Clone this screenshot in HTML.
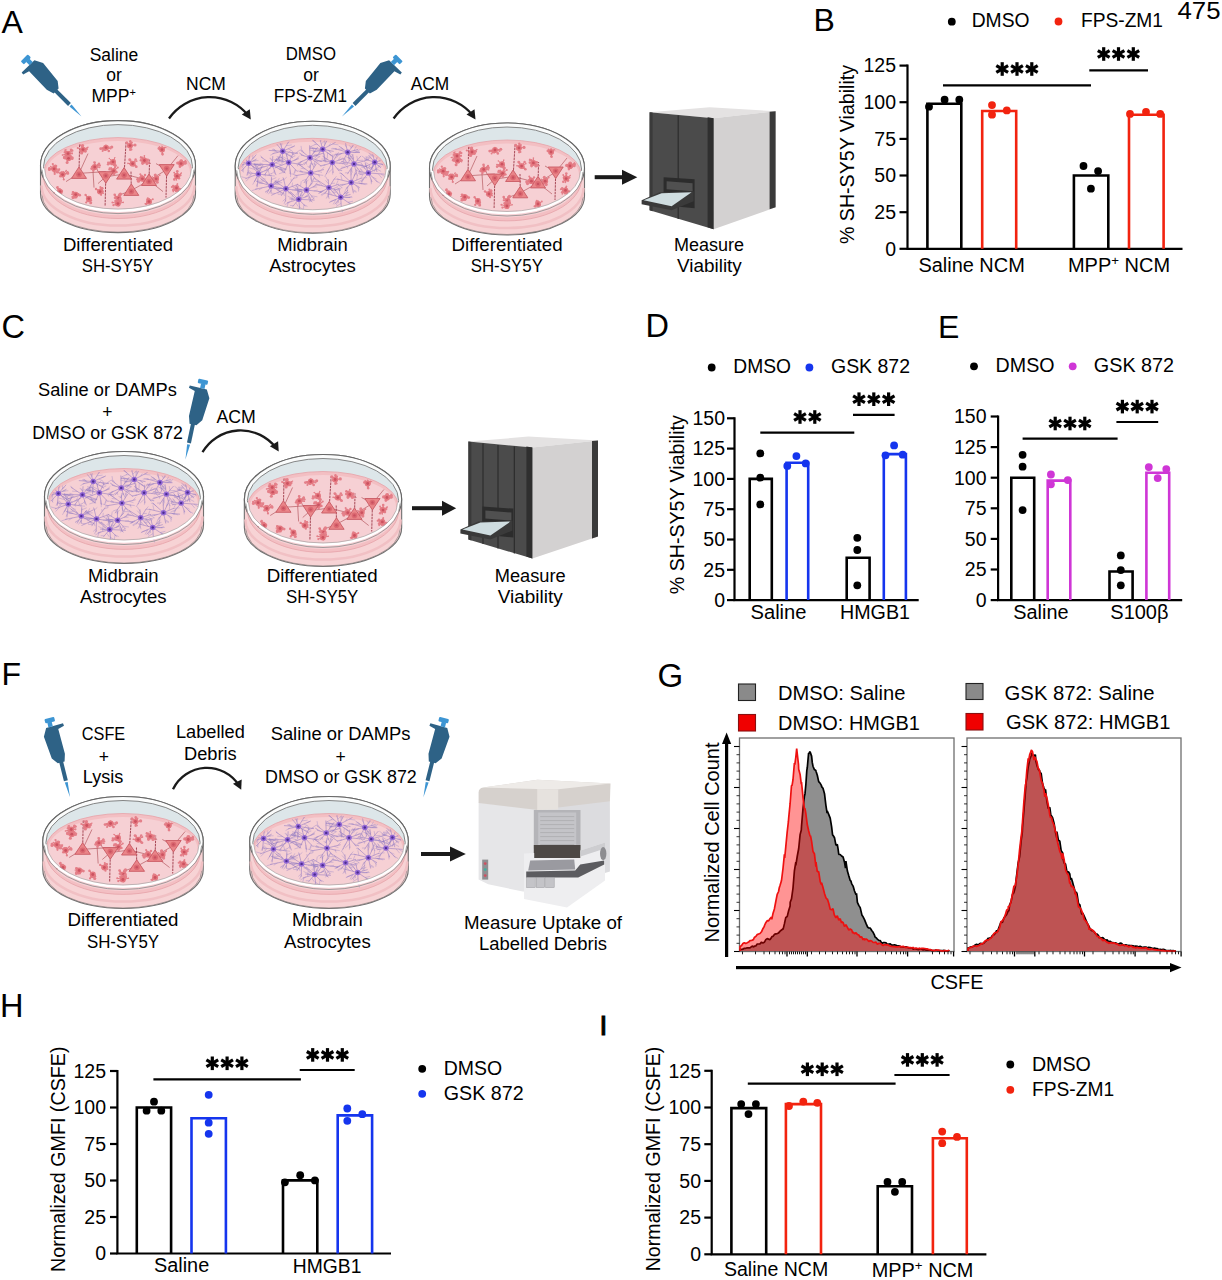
<!DOCTYPE html><html><head><meta charset="utf-8"><style>html,body{margin:0;padding:0;background:#fff;overflow:hidden}svg{display:block}text{font-family:"Liberation Sans",sans-serif}</style></head><body>
<svg width="1222" height="1280" viewBox="0 0 1222 1280">
<rect width="1222" height="1280" fill="#fff"/>
<defs>
<g id="star"><rect x="-1.6" y="-6.8" width="3.2" height="13.6"/><rect x="-1.6" y="-6.8" width="3.2" height="13.6" transform="rotate(60)"/><rect x="-1.6" y="-6.8" width="3.2" height="13.6" transform="rotate(-60)"/></g>
<g id="pip"><path d="M0,0 L-1.5,-15.5 L1.5,-15.5 Z" fill="#3d95d3"/><rect x="-2" y="-37" width="4" height="20" fill="#2e6286"/><path d="M-3.4,-36 L3.6,-36 L8.3,-42 L10.7,-65 L6.4,-73 L-11.1,-73.5 L-11.5,-71 L-5.1,-69 L-5.6,-43.5 Z" fill="#2e6286"/><rect x="-0.5" y="-78" width="4.5" height="5" fill="#3d95d3"/><rect x="-4" y="-82" width="10" height="4.5" rx="1" fill="#3d95d3"/></g>
<clipPath id="medclip"><path d="M-73,6.5 A73 33 0 0 1 73 6.5 A73.5 40 0 1 1 -73,6.5 Z"/></clipPath>
<g id="neur">
<g clip-path="url(#medclip)">
<path d="M-39,7.8 L-12.2,6" stroke="#b65a62" stroke-width="0.7" fill="none"/>
<path d="M-39,7.8 L-52,16" stroke="#b65a62" stroke-width="0.7" fill="none"/>
<path d="M-12.2,11.1 L6.1,8.5" stroke="#b65a62" stroke-width="0.7" fill="none"/>
<path d="M-25,6 L-24,22" stroke="#b65a62" stroke-width="0.7" fill="none"/>
<path d="M6.1,8.5 L31,14.9" stroke="#b65a62" stroke-width="0.7" fill="none"/>
<path d="M31,14.9 L48.7,4" stroke="#b65a62" stroke-width="0.7" fill="none"/>
<path d="M13.3,24.8 L31,14.9" stroke="#b65a62" stroke-width="0.7" fill="none"/>
<path d="M-12.2,11.1 L-20,18" stroke="#b65a62" stroke-width="0.7" fill="none"/>
<path d="M48.7,4 L38,-2" stroke="#b65a62" stroke-width="0.7" fill="none"/>
<path d="M31,14.9 L45,26" stroke="#b65a62" stroke-width="0.7" fill="none"/>
<path d="M13.3,24.8 L0,30" stroke="#b65a62" stroke-width="0.7" fill="none"/>
<path d="M-24,-4 L-20,6" stroke="#b65a62" stroke-width="0.7" fill="none"/>
<path d="M25,-6 L33,-2" stroke="#b65a62" stroke-width="0.7" fill="none"/>
<path d="M-39,7.8 L-30,-12" stroke="#b65a62" stroke-width="0.7" fill="none"/>
<path d="M48.7,4 L60,-10" stroke="#b65a62" stroke-width="0.7" fill="none"/>
<path d="M-39,7.8 L-38.4,-22" stroke="#a84a58" stroke-width="1" fill="none" stroke-dasharray="2.5 0.8"/>
<path d="M-12.2,11.1 L-12.9,40" stroke="#a84a58" stroke-width="1" fill="none" stroke-dasharray="2.5 0.8"/>
<path d="M6.1,8.5 L8.1,-24" stroke="#a84a58" stroke-width="1" fill="none" stroke-dasharray="2.5 0.8"/>
<path d="M48.7,4 L48,32" stroke="#a84a58" stroke-width="1" fill="none" stroke-dasharray="2.5 0.8"/>
<path d="M31,14.9 L31.6,-6" stroke="#a84a58" stroke-width="1" fill="none" stroke-dasharray="2.5 0.8"/>
<path d="M13.3,24.8 L13,6" stroke="#a84a58" stroke-width="1" fill="none" stroke-dasharray="2.5 0.8"/>
<path d="M-63.9,3.2 L-63.6,6.5" stroke="#df7a82" stroke-width="1" fill="none"/>
<circle cx="-63.6" cy="6.5" r="1.0" fill="#e4808a"/>
<path d="M-63.9,3.2 L-67.3,1.0" stroke="#df7a82" stroke-width="1" fill="none"/>
<circle cx="-67.3" cy="1.0" r="0.8" fill="#e4808a"/>
<path d="M-63.9,3.2 L-58.6,3.6" stroke="#df7a82" stroke-width="1" fill="none"/>
<circle cx="-58.6" cy="3.6" r="0.9" fill="#e4808a"/>
<path d="M-63.9,3.2 L-63.3,8.3" stroke="#df7a82" stroke-width="1" fill="none"/>
<circle cx="-63.3" cy="8.3" r="1.1" fill="#e4808a"/>
<path d="M-63.9,3.2 L-62.0,0.5" stroke="#df7a82" stroke-width="1" fill="none"/>
<circle cx="-62.0" cy="0.5" r="1.3" fill="#e4808a"/>
<path d="M-63.9,3.2 L-61.4,6.2" stroke="#df7a82" stroke-width="1" fill="none"/>
<circle cx="-61.4" cy="6.2" r="1.5" fill="#e4808a"/>
<path d="M-63.9,3.2 L-68.7,2.6" stroke="#df7a82" stroke-width="1" fill="none"/>
<circle cx="-68.7" cy="2.6" r="1.3" fill="#e4808a"/>
<path d="M-63.9,3.2 L-59.4,4.8" stroke="#df7a82" stroke-width="1" fill="none"/>
<circle cx="-59.4" cy="4.8" r="1.2" fill="#e4808a"/>
<path d="M-63.9,3.2 L-64.4,4.5" stroke="#df7a82" stroke-width="1" fill="none"/>
<circle cx="-64.4" cy="4.5" r="1.5" fill="#e4808a"/>
<path d="M-63.9,3.2 L-68.6,3.9" stroke="#df7a82" stroke-width="1" fill="none"/>
<circle cx="-68.6" cy="3.9" r="1.5" fill="#e4808a"/>
<path d="M-63.9,3.2 L-65.2,-1.5" stroke="#df7a82" stroke-width="1" fill="none"/>
<circle cx="-65.2" cy="-1.5" r="1.1" fill="#e4808a"/>
<path d="M-63.9,3.2 L-62.8,0.4" stroke="#df7a82" stroke-width="1" fill="none"/>
<circle cx="-62.8" cy="0.4" r="1.5" fill="#e4808a"/>
<circle cx="-63.9" cy="3.2" r="2.9" fill="#e47880"/><circle cx="-63.9" cy="3.2" r="1.4" fill="#cc5260"/>
<path d="M-55.4,9.0 L-54.0,7.9" stroke="#df7a82" stroke-width="1" fill="none"/>
<circle cx="-54.0" cy="7.9" r="0.8" fill="#e4808a"/>
<path d="M-55.4,9.0 L-54.2,13.9" stroke="#df7a82" stroke-width="1" fill="none"/>
<circle cx="-54.2" cy="13.9" r="1.1" fill="#e4808a"/>
<path d="M-55.4,9.0 L-57.4,7.3" stroke="#df7a82" stroke-width="1" fill="none"/>
<circle cx="-57.4" cy="7.3" r="1.2" fill="#e4808a"/>
<path d="M-55.4,9.0 L-57.7,10.7" stroke="#df7a82" stroke-width="1" fill="none"/>
<circle cx="-57.7" cy="10.7" r="1.2" fill="#e4808a"/>
<path d="M-55.4,9.0 L-60.2,6.6" stroke="#df7a82" stroke-width="1" fill="none"/>
<circle cx="-60.2" cy="6.6" r="1.3" fill="#e4808a"/>
<path d="M-55.4,9.0 L-50.6,7.0" stroke="#df7a82" stroke-width="1" fill="none"/>
<circle cx="-50.6" cy="7.0" r="1.6" fill="#e4808a"/>
<path d="M-55.4,9.0 L-56.5,7.3" stroke="#df7a82" stroke-width="1" fill="none"/>
<circle cx="-56.5" cy="7.3" r="1.5" fill="#e4808a"/>
<path d="M-55.4,9.0 L-50.0,8.0" stroke="#df7a82" stroke-width="1" fill="none"/>
<circle cx="-50.0" cy="8.0" r="1.2" fill="#e4808a"/>
<path d="M-55.4,9.0 L-56.0,7.0" stroke="#df7a82" stroke-width="1" fill="none"/>
<circle cx="-56.0" cy="7.0" r="1.4" fill="#e4808a"/>
<path d="M-55.4,9.0 L-57.9,7.9" stroke="#df7a82" stroke-width="1" fill="none"/>
<circle cx="-57.9" cy="7.9" r="0.8" fill="#e4808a"/>
<path d="M-55.4,9.0 L-51.8,5.0" stroke="#df7a82" stroke-width="1" fill="none"/>
<circle cx="-51.8" cy="5.0" r="0.8" fill="#e4808a"/>
<path d="M-55.4,9.0 L-54.4,6.3" stroke="#df7a82" stroke-width="1" fill="none"/>
<circle cx="-54.4" cy="6.3" r="0.8" fill="#e4808a"/>
<circle cx="-55.4" cy="9" r="2.9" fill="#e47880"/><circle cx="-55.4" cy="9" r="1.4" fill="#cc5260"/>
<path d="M-49.5,-7.3 L-50.9,-3.2" stroke="#df7a82" stroke-width="1" fill="none"/>
<circle cx="-50.9" cy="-3.2" r="1.5" fill="#e4808a"/>
<path d="M-49.5,-7.3 L-45.4,-6.3" stroke="#df7a82" stroke-width="1" fill="none"/>
<circle cx="-45.4" cy="-6.3" r="0.7" fill="#e4808a"/>
<path d="M-49.5,-7.3 L-50.1,-9.8" stroke="#df7a82" stroke-width="1" fill="none"/>
<circle cx="-50.1" cy="-9.8" r="1.5" fill="#e4808a"/>
<path d="M-49.5,-7.3 L-45.8,-7.7" stroke="#df7a82" stroke-width="1" fill="none"/>
<circle cx="-45.8" cy="-7.7" r="1.6" fill="#e4808a"/>
<path d="M-49.5,-7.3 L-50.2,-5.8" stroke="#df7a82" stroke-width="1" fill="none"/>
<circle cx="-50.2" cy="-5.8" r="1.2" fill="#e4808a"/>
<path d="M-49.5,-7.3 L-47.2,-6.9" stroke="#df7a82" stroke-width="1" fill="none"/>
<circle cx="-47.2" cy="-6.9" r="1.1" fill="#e4808a"/>
<path d="M-49.5,-7.3 L-51.2,-8.5" stroke="#df7a82" stroke-width="1" fill="none"/>
<circle cx="-51.2" cy="-8.5" r="0.7" fill="#e4808a"/>
<path d="M-49.5,-7.3 L-47.5,-9.1" stroke="#df7a82" stroke-width="1" fill="none"/>
<circle cx="-47.5" cy="-9.1" r="1.6" fill="#e4808a"/>
<path d="M-49.5,-7.3 L-47.0,-8.9" stroke="#df7a82" stroke-width="1" fill="none"/>
<circle cx="-47.0" cy="-8.9" r="1.1" fill="#e4808a"/>
<path d="M-49.5,-7.3 L-53.9,-7.8" stroke="#df7a82" stroke-width="1" fill="none"/>
<circle cx="-53.9" cy="-7.8" r="1.2" fill="#e4808a"/>
<path d="M-49.5,-7.3 L-53.5,-8.6" stroke="#df7a82" stroke-width="1" fill="none"/>
<circle cx="-53.5" cy="-8.6" r="1.5" fill="#e4808a"/>
<path d="M-49.5,-7.3 L-52.9,-7.4" stroke="#df7a82" stroke-width="1" fill="none"/>
<circle cx="-52.9" cy="-7.4" r="1.3" fill="#e4808a"/>
<circle cx="-49.5" cy="-7.3" r="2.9" fill="#e47880"/><circle cx="-49.5" cy="-7.3" r="1.4" fill="#cc5260"/>
<path d="M-42.3,29.0 L-42.1,31.4" stroke="#df7a82" stroke-width="1" fill="none"/>
<circle cx="-42.1" cy="31.4" r="1.6" fill="#e4808a"/>
<path d="M-42.3,29.0 L-46.2,28.6" stroke="#df7a82" stroke-width="1" fill="none"/>
<circle cx="-46.2" cy="28.6" r="0.7" fill="#e4808a"/>
<path d="M-42.3,29.0 L-45.8,30.8" stroke="#df7a82" stroke-width="1" fill="none"/>
<circle cx="-45.8" cy="30.8" r="0.7" fill="#e4808a"/>
<path d="M-42.3,29.0 L-45.5,26.5" stroke="#df7a82" stroke-width="1" fill="none"/>
<circle cx="-45.5" cy="26.5" r="0.8" fill="#e4808a"/>
<path d="M-42.3,29.0 L-44.8,26.8" stroke="#df7a82" stroke-width="1" fill="none"/>
<circle cx="-44.8" cy="26.8" r="1.3" fill="#e4808a"/>
<path d="M-42.3,29.0 L-45.1,32.2" stroke="#df7a82" stroke-width="1" fill="none"/>
<circle cx="-45.1" cy="32.2" r="1.4" fill="#e4808a"/>
<path d="M-42.3,29.0 L-40.5,29.2" stroke="#df7a82" stroke-width="1" fill="none"/>
<circle cx="-40.5" cy="29.2" r="1.3" fill="#e4808a"/>
<path d="M-42.3,29.0 L-39.7,28.5" stroke="#df7a82" stroke-width="1" fill="none"/>
<circle cx="-39.7" cy="28.5" r="1.1" fill="#e4808a"/>
<path d="M-42.3,29.0 L-44.8,27.6" stroke="#df7a82" stroke-width="1" fill="none"/>
<circle cx="-44.8" cy="27.6" r="1.0" fill="#e4808a"/>
<path d="M-42.3,29.0 L-43.5,31.5" stroke="#df7a82" stroke-width="1" fill="none"/>
<circle cx="-43.5" cy="31.5" r="1.2" fill="#e4808a"/>
<path d="M-42.3,29.0 L-43.3,31.6" stroke="#df7a82" stroke-width="1" fill="none"/>
<circle cx="-43.3" cy="31.6" r="1.4" fill="#e4808a"/>
<path d="M-42.3,29.0 L-38.3,29.6" stroke="#df7a82" stroke-width="1" fill="none"/>
<circle cx="-38.3" cy="29.6" r="1.4" fill="#e4808a"/>
<circle cx="-42.3" cy="29" r="2.9" fill="#e47880"/><circle cx="-42.3" cy="29" r="1.4" fill="#cc5260"/>
<path d="M-29.2,33.0 L-30.1,35.0" stroke="#df7a82" stroke-width="1" fill="none"/>
<circle cx="-30.1" cy="35.0" r="1.4" fill="#e4808a"/>
<path d="M-29.2,33.0 L-29.0,35.0" stroke="#df7a82" stroke-width="1" fill="none"/>
<circle cx="-29.0" cy="35.0" r="1.1" fill="#e4808a"/>
<path d="M-29.2,33.0 L-29.8,31.4" stroke="#df7a82" stroke-width="1" fill="none"/>
<circle cx="-29.8" cy="31.4" r="1.0" fill="#e4808a"/>
<path d="M-29.2,33.0 L-31.8,36.9" stroke="#df7a82" stroke-width="1" fill="none"/>
<circle cx="-31.8" cy="36.9" r="1.1" fill="#e4808a"/>
<path d="M-29.2,33.0 L-27.8,31.5" stroke="#df7a82" stroke-width="1" fill="none"/>
<circle cx="-27.8" cy="31.5" r="1.0" fill="#e4808a"/>
<path d="M-29.2,33.0 L-32.4,29.2" stroke="#df7a82" stroke-width="1" fill="none"/>
<circle cx="-32.4" cy="29.2" r="1.1" fill="#e4808a"/>
<path d="M-29.2,33.0 L-28.9,34.7" stroke="#df7a82" stroke-width="1" fill="none"/>
<circle cx="-28.9" cy="34.7" r="1.2" fill="#e4808a"/>
<path d="M-29.2,33.0 L-27.3,37.1" stroke="#df7a82" stroke-width="1" fill="none"/>
<circle cx="-27.3" cy="37.1" r="1.5" fill="#e4808a"/>
<path d="M-29.2,33.0 L-28.1,35.1" stroke="#df7a82" stroke-width="1" fill="none"/>
<circle cx="-28.1" cy="35.1" r="1.4" fill="#e4808a"/>
<path d="M-29.2,33.0 L-32.4,29.6" stroke="#df7a82" stroke-width="1" fill="none"/>
<circle cx="-32.4" cy="29.6" r="1.0" fill="#e4808a"/>
<path d="M-29.2,33.0 L-27.3,34.7" stroke="#df7a82" stroke-width="1" fill="none"/>
<circle cx="-27.3" cy="34.7" r="1.4" fill="#e4808a"/>
<path d="M-29.2,33.0 L-29.6,35.6" stroke="#df7a82" stroke-width="1" fill="none"/>
<circle cx="-29.6" cy="35.6" r="1.1" fill="#e4808a"/>
<circle cx="-29.2" cy="33" r="2.9" fill="#e47880"/><circle cx="-29.2" cy="33" r="1.4" fill="#cc5260"/>
<path d="M-23.3,1.4 L-26.2,2.8" stroke="#df7a82" stroke-width="1" fill="none"/>
<circle cx="-26.2" cy="2.8" r="1.5" fill="#e4808a"/>
<path d="M-23.3,1.4 L-22.5,2.5" stroke="#df7a82" stroke-width="1" fill="none"/>
<circle cx="-22.5" cy="2.5" r="1.5" fill="#e4808a"/>
<path d="M-23.3,1.4 L-19.0,-2.1" stroke="#df7a82" stroke-width="1" fill="none"/>
<circle cx="-19.0" cy="-2.1" r="1.1" fill="#e4808a"/>
<path d="M-23.3,1.4 L-17.9,-0.1" stroke="#df7a82" stroke-width="1" fill="none"/>
<circle cx="-17.9" cy="-0.1" r="0.9" fill="#e4808a"/>
<path d="M-23.3,1.4 L-23.4,-3.1" stroke="#df7a82" stroke-width="1" fill="none"/>
<circle cx="-23.4" cy="-3.1" r="1.3" fill="#e4808a"/>
<path d="M-23.3,1.4 L-26.1,1.1" stroke="#df7a82" stroke-width="1" fill="none"/>
<circle cx="-26.1" cy="1.1" r="1.0" fill="#e4808a"/>
<path d="M-23.3,1.4 L-23.0,2.9" stroke="#df7a82" stroke-width="1" fill="none"/>
<circle cx="-23.0" cy="2.9" r="1.2" fill="#e4808a"/>
<path d="M-23.3,1.4 L-24.5,5.7" stroke="#df7a82" stroke-width="1" fill="none"/>
<circle cx="-24.5" cy="5.7" r="0.7" fill="#e4808a"/>
<path d="M-23.3,1.4 L-19.5,-0.8" stroke="#df7a82" stroke-width="1" fill="none"/>
<circle cx="-19.5" cy="-0.8" r="1.5" fill="#e4808a"/>
<path d="M-23.3,1.4 L-18.9,-1.5" stroke="#df7a82" stroke-width="1" fill="none"/>
<circle cx="-18.9" cy="-1.5" r="1.2" fill="#e4808a"/>
<path d="M-23.3,1.4 L-18.5,1.7" stroke="#df7a82" stroke-width="1" fill="none"/>
<circle cx="-18.5" cy="1.7" r="0.9" fill="#e4808a"/>
<path d="M-23.3,1.4 L-24.7,5.0" stroke="#df7a82" stroke-width="1" fill="none"/>
<circle cx="-24.7" cy="5.0" r="1.2" fill="#e4808a"/>
<circle cx="-23.3" cy="1.4" r="2.9" fill="#e47880"/><circle cx="-23.3" cy="1.4" r="1.4" fill="#cc5260"/>
<path d="M-5.0,-3.8 L-9.9,-1.3" stroke="#df7a82" stroke-width="1" fill="none"/>
<circle cx="-9.9" cy="-1.3" r="1.3" fill="#e4808a"/>
<path d="M-5.0,-3.8 L-6.4,-1.9" stroke="#df7a82" stroke-width="1" fill="none"/>
<circle cx="-6.4" cy="-1.9" r="1.5" fill="#e4808a"/>
<path d="M-5.0,-3.8 L-10.0,-3.2" stroke="#df7a82" stroke-width="1" fill="none"/>
<circle cx="-10.0" cy="-3.2" r="1.0" fill="#e4808a"/>
<path d="M-5.0,-3.8 L-3.7,-0.7" stroke="#df7a82" stroke-width="1" fill="none"/>
<circle cx="-3.7" cy="-0.7" r="1.4" fill="#e4808a"/>
<path d="M-5.0,-3.8 L-2.6,-0.0" stroke="#df7a82" stroke-width="1" fill="none"/>
<circle cx="-2.6" cy="-0.0" r="1.5" fill="#e4808a"/>
<path d="M-5.0,-3.8 L-3.2,-8.0" stroke="#df7a82" stroke-width="1" fill="none"/>
<circle cx="-3.2" cy="-8.0" r="0.7" fill="#e4808a"/>
<path d="M-5.0,-3.8 L-8.7,-7.1" stroke="#df7a82" stroke-width="1" fill="none"/>
<circle cx="-8.7" cy="-7.1" r="0.7" fill="#e4808a"/>
<path d="M-5.0,-3.8 L-5.4,-1.5" stroke="#df7a82" stroke-width="1" fill="none"/>
<circle cx="-5.4" cy="-1.5" r="1.2" fill="#e4808a"/>
<path d="M-5.0,-3.8 L-8.2,-2.4" stroke="#df7a82" stroke-width="1" fill="none"/>
<circle cx="-8.2" cy="-2.4" r="1.4" fill="#e4808a"/>
<path d="M-5.0,-3.8 L-3.3,-3.8" stroke="#df7a82" stroke-width="1" fill="none"/>
<circle cx="-3.3" cy="-3.8" r="0.8" fill="#e4808a"/>
<path d="M-5.0,-3.8 L-3.7,-2.7" stroke="#df7a82" stroke-width="1" fill="none"/>
<circle cx="-3.7" cy="-2.7" r="1.6" fill="#e4808a"/>
<path d="M-5.0,-3.8 L-3.8,-5.1" stroke="#df7a82" stroke-width="1" fill="none"/>
<circle cx="-3.8" cy="-5.1" r="1.2" fill="#e4808a"/>
<circle cx="-5" cy="-3.8" r="2.9" fill="#e47880"/><circle cx="-5" cy="-3.8" r="1.4" fill="#cc5260"/>
<path d="M-4.4,5.3 L-5.6,7.6" stroke="#df7a82" stroke-width="1" fill="none"/>
<circle cx="-5.6" cy="7.6" r="1.0" fill="#e4808a"/>
<path d="M-4.4,5.3 L-6.9,2.5" stroke="#df7a82" stroke-width="1" fill="none"/>
<circle cx="-6.9" cy="2.5" r="1.0" fill="#e4808a"/>
<path d="M-4.4,5.3 L-3.3,7.7" stroke="#df7a82" stroke-width="1" fill="none"/>
<circle cx="-3.3" cy="7.7" r="0.8" fill="#e4808a"/>
<path d="M-4.4,5.3 L-8.8,3.9" stroke="#df7a82" stroke-width="1" fill="none"/>
<circle cx="-8.8" cy="3.9" r="1.0" fill="#e4808a"/>
<path d="M-4.4,5.3 L-2.4,6.2" stroke="#df7a82" stroke-width="1" fill="none"/>
<circle cx="-2.4" cy="6.2" r="1.0" fill="#e4808a"/>
<path d="M-4.4,5.3 L-8.4,2.7" stroke="#df7a82" stroke-width="1" fill="none"/>
<circle cx="-8.4" cy="2.7" r="1.0" fill="#e4808a"/>
<path d="M-4.4,5.3 L-3.0,1.8" stroke="#df7a82" stroke-width="1" fill="none"/>
<circle cx="-3.0" cy="1.8" r="1.1" fill="#e4808a"/>
<path d="M-4.4,5.3 L-7.0,7.6" stroke="#df7a82" stroke-width="1" fill="none"/>
<circle cx="-7.0" cy="7.6" r="1.3" fill="#e4808a"/>
<path d="M-4.4,5.3 L-8.5,7.2" stroke="#df7a82" stroke-width="1" fill="none"/>
<circle cx="-8.5" cy="7.2" r="1.1" fill="#e4808a"/>
<path d="M-4.4,5.3 L-4.3,8.6" stroke="#df7a82" stroke-width="1" fill="none"/>
<circle cx="-4.3" cy="8.6" r="1.3" fill="#e4808a"/>
<path d="M-4.4,5.3 L-1.3,6.6" stroke="#df7a82" stroke-width="1" fill="none"/>
<circle cx="-1.3" cy="6.6" r="1.1" fill="#e4808a"/>
<path d="M-4.4,5.3 L-0.2,2.0" stroke="#df7a82" stroke-width="1" fill="none"/>
<circle cx="-0.2" cy="2.0" r="1.0" fill="#e4808a"/>
<circle cx="-4.4" cy="5.3" r="2.9" fill="#e47880"/><circle cx="-4.4" cy="5.3" r="1.4" fill="#cc5260"/>
<path d="M14.6,-1.9 L18.7,-4.5" stroke="#df7a82" stroke-width="1" fill="none"/>
<circle cx="18.7" cy="-4.5" r="0.9" fill="#e4808a"/>
<path d="M14.6,-1.9 L12.6,-1.5" stroke="#df7a82" stroke-width="1" fill="none"/>
<circle cx="12.6" cy="-1.5" r="1.4" fill="#e4808a"/>
<path d="M14.6,-1.9 L11.7,-5.9" stroke="#df7a82" stroke-width="1" fill="none"/>
<circle cx="11.7" cy="-5.9" r="1.4" fill="#e4808a"/>
<path d="M14.6,-1.9 L12.2,-5.4" stroke="#df7a82" stroke-width="1" fill="none"/>
<circle cx="12.2" cy="-5.4" r="1.2" fill="#e4808a"/>
<path d="M14.6,-1.9 L17.9,0.2" stroke="#df7a82" stroke-width="1" fill="none"/>
<circle cx="17.9" cy="0.2" r="0.7" fill="#e4808a"/>
<path d="M14.6,-1.9 L17.7,1.4" stroke="#df7a82" stroke-width="1" fill="none"/>
<circle cx="17.7" cy="1.4" r="0.7" fill="#e4808a"/>
<path d="M14.6,-1.9 L16.2,-1.0" stroke="#df7a82" stroke-width="1" fill="none"/>
<circle cx="16.2" cy="-1.0" r="1.5" fill="#e4808a"/>
<path d="M14.6,-1.9 L15.3,-0.7" stroke="#df7a82" stroke-width="1" fill="none"/>
<circle cx="15.3" cy="-0.7" r="1.5" fill="#e4808a"/>
<path d="M14.6,-1.9 L18.4,1.2" stroke="#df7a82" stroke-width="1" fill="none"/>
<circle cx="18.4" cy="1.2" r="1.3" fill="#e4808a"/>
<path d="M14.6,-1.9 L17.6,-6.1" stroke="#df7a82" stroke-width="1" fill="none"/>
<circle cx="17.6" cy="-6.1" r="1.2" fill="#e4808a"/>
<path d="M14.6,-1.9 L15.1,-3.2" stroke="#df7a82" stroke-width="1" fill="none"/>
<circle cx="15.1" cy="-3.2" r="1.4" fill="#e4808a"/>
<path d="M14.6,-1.9 L9.9,-2.2" stroke="#df7a82" stroke-width="1" fill="none"/>
<circle cx="9.9" cy="-2.2" r="0.8" fill="#e4808a"/>
<circle cx="14.6" cy="-1.9" r="2.9" fill="#e47880"/><circle cx="14.6" cy="-1.9" r="1.4" fill="#cc5260"/>
<path d="M26.4,-5.1 L26.4,-9.9" stroke="#df7a82" stroke-width="1" fill="none"/>
<circle cx="26.4" cy="-9.9" r="0.8" fill="#e4808a"/>
<path d="M26.4,-5.1 L24.6,-2.0" stroke="#df7a82" stroke-width="1" fill="none"/>
<circle cx="24.6" cy="-2.0" r="1.4" fill="#e4808a"/>
<path d="M26.4,-5.1 L26.5,-3.1" stroke="#df7a82" stroke-width="1" fill="none"/>
<circle cx="26.5" cy="-3.1" r="0.9" fill="#e4808a"/>
<path d="M26.4,-5.1 L22.8,-7.9" stroke="#df7a82" stroke-width="1" fill="none"/>
<circle cx="22.8" cy="-7.9" r="1.1" fill="#e4808a"/>
<path d="M26.4,-5.1 L24.2,-3.0" stroke="#df7a82" stroke-width="1" fill="none"/>
<circle cx="24.2" cy="-3.0" r="1.0" fill="#e4808a"/>
<path d="M26.4,-5.1 L24.8,-4.3" stroke="#df7a82" stroke-width="1" fill="none"/>
<circle cx="24.8" cy="-4.3" r="1.2" fill="#e4808a"/>
<path d="M26.4,-5.1 L29.7,-5.6" stroke="#df7a82" stroke-width="1" fill="none"/>
<circle cx="29.7" cy="-5.6" r="1.4" fill="#e4808a"/>
<path d="M26.4,-5.1 L28.9,-1.8" stroke="#df7a82" stroke-width="1" fill="none"/>
<circle cx="28.9" cy="-1.8" r="1.4" fill="#e4808a"/>
<path d="M26.4,-5.1 L24.6,-8.0" stroke="#df7a82" stroke-width="1" fill="none"/>
<circle cx="24.6" cy="-8.0" r="1.1" fill="#e4808a"/>
<path d="M26.4,-5.1 L22.9,-8.8" stroke="#df7a82" stroke-width="1" fill="none"/>
<circle cx="22.9" cy="-8.8" r="0.8" fill="#e4808a"/>
<path d="M26.4,-5.1 L30.4,-2.8" stroke="#df7a82" stroke-width="1" fill="none"/>
<circle cx="30.4" cy="-2.8" r="1.5" fill="#e4808a"/>
<path d="M26.4,-5.1 L22.9,-5.4" stroke="#df7a82" stroke-width="1" fill="none"/>
<circle cx="22.9" cy="-5.4" r="1.3" fill="#e4808a"/>
<circle cx="26.4" cy="-5.1" r="2.9" fill="#e47880"/><circle cx="26.4" cy="-5.1" r="1.4" fill="#cc5260"/>
<path d="M24.4,13.2 L25.5,15.3" stroke="#df7a82" stroke-width="1" fill="none"/>
<circle cx="25.5" cy="15.3" r="0.9" fill="#e4808a"/>
<path d="M24.4,13.2 L21.9,11.9" stroke="#df7a82" stroke-width="1" fill="none"/>
<circle cx="21.9" cy="11.9" r="0.9" fill="#e4808a"/>
<path d="M24.4,13.2 L22.3,8.6" stroke="#df7a82" stroke-width="1" fill="none"/>
<circle cx="22.3" cy="8.6" r="1.0" fill="#e4808a"/>
<path d="M24.4,13.2 L23.5,10.5" stroke="#df7a82" stroke-width="1" fill="none"/>
<circle cx="23.5" cy="10.5" r="1.5" fill="#e4808a"/>
<path d="M24.4,13.2 L22.1,12.0" stroke="#df7a82" stroke-width="1" fill="none"/>
<circle cx="22.1" cy="12.0" r="0.9" fill="#e4808a"/>
<path d="M24.4,13.2 L28.0,13.7" stroke="#df7a82" stroke-width="1" fill="none"/>
<circle cx="28.0" cy="13.7" r="1.0" fill="#e4808a"/>
<path d="M24.4,13.2 L25.9,15.5" stroke="#df7a82" stroke-width="1" fill="none"/>
<circle cx="25.9" cy="15.5" r="1.0" fill="#e4808a"/>
<path d="M24.4,13.2 L24.7,11.4" stroke="#df7a82" stroke-width="1" fill="none"/>
<circle cx="24.7" cy="11.4" r="1.6" fill="#e4808a"/>
<path d="M24.4,13.2 L20.2,13.7" stroke="#df7a82" stroke-width="1" fill="none"/>
<circle cx="20.2" cy="13.7" r="1.1" fill="#e4808a"/>
<path d="M24.4,13.2 L27.0,9.4" stroke="#df7a82" stroke-width="1" fill="none"/>
<circle cx="27.0" cy="9.4" r="1.2" fill="#e4808a"/>
<path d="M24.4,13.2 L19.7,13.7" stroke="#df7a82" stroke-width="1" fill="none"/>
<circle cx="19.7" cy="13.7" r="1.5" fill="#e4808a"/>
<path d="M24.4,13.2 L20.5,15.6" stroke="#df7a82" stroke-width="1" fill="none"/>
<circle cx="20.5" cy="15.6" r="1.6" fill="#e4808a"/>
<circle cx="24.4" cy="13.2" r="2.9" fill="#e47880"/><circle cx="24.4" cy="13.2" r="1.4" fill="#cc5260"/>
<path d="M38.2,13.2 L35.7,13.6" stroke="#df7a82" stroke-width="1" fill="none"/>
<circle cx="35.7" cy="13.6" r="0.9" fill="#e4808a"/>
<path d="M38.2,13.2 L37.3,9.4" stroke="#df7a82" stroke-width="1" fill="none"/>
<circle cx="37.3" cy="9.4" r="1.6" fill="#e4808a"/>
<path d="M38.2,13.2 L39.8,11.5" stroke="#df7a82" stroke-width="1" fill="none"/>
<circle cx="39.8" cy="11.5" r="0.9" fill="#e4808a"/>
<path d="M38.2,13.2 L38.1,15.2" stroke="#df7a82" stroke-width="1" fill="none"/>
<circle cx="38.1" cy="15.2" r="1.3" fill="#e4808a"/>
<path d="M38.2,13.2 L41.7,9.5" stroke="#df7a82" stroke-width="1" fill="none"/>
<circle cx="41.7" cy="9.5" r="0.9" fill="#e4808a"/>
<path d="M38.2,13.2 L40.1,11.3" stroke="#df7a82" stroke-width="1" fill="none"/>
<circle cx="40.1" cy="11.3" r="1.1" fill="#e4808a"/>
<path d="M38.2,13.2 L38.0,11.6" stroke="#df7a82" stroke-width="1" fill="none"/>
<circle cx="38.0" cy="11.6" r="0.8" fill="#e4808a"/>
<path d="M38.2,13.2 L39.6,11.1" stroke="#df7a82" stroke-width="1" fill="none"/>
<circle cx="39.6" cy="11.1" r="1.0" fill="#e4808a"/>
<path d="M38.2,13.2 L34.2,11.3" stroke="#df7a82" stroke-width="1" fill="none"/>
<circle cx="34.2" cy="11.3" r="0.7" fill="#e4808a"/>
<path d="M38.2,13.2 L36.4,15.7" stroke="#df7a82" stroke-width="1" fill="none"/>
<circle cx="36.4" cy="15.7" r="1.1" fill="#e4808a"/>
<path d="M38.2,13.2 L39.2,16.6" stroke="#df7a82" stroke-width="1" fill="none"/>
<circle cx="39.2" cy="16.6" r="1.6" fill="#e4808a"/>
<path d="M38.2,13.2 L35.1,15.3" stroke="#df7a82" stroke-width="1" fill="none"/>
<circle cx="35.1" cy="15.3" r="0.8" fill="#e4808a"/>
<circle cx="38.2" cy="13.2" r="2.9" fill="#e47880"/><circle cx="38.2" cy="13.2" r="1.4" fill="#cc5260"/>
<path d="M59.1,10.6 L58.4,14.4" stroke="#df7a82" stroke-width="1" fill="none"/>
<circle cx="58.4" cy="14.4" r="0.8" fill="#e4808a"/>
<path d="M59.1,10.6 L63.3,7.5" stroke="#df7a82" stroke-width="1" fill="none"/>
<circle cx="63.3" cy="7.5" r="0.8" fill="#e4808a"/>
<path d="M59.1,10.6 L62.1,9.6" stroke="#df7a82" stroke-width="1" fill="none"/>
<circle cx="62.1" cy="9.6" r="1.4" fill="#e4808a"/>
<path d="M59.1,10.6 L59.2,8.2" stroke="#df7a82" stroke-width="1" fill="none"/>
<circle cx="59.2" cy="8.2" r="1.3" fill="#e4808a"/>
<path d="M59.1,10.6 L56.2,7.0" stroke="#df7a82" stroke-width="1" fill="none"/>
<circle cx="56.2" cy="7.0" r="0.9" fill="#e4808a"/>
<path d="M59.1,10.6 L59.3,5.6" stroke="#df7a82" stroke-width="1" fill="none"/>
<circle cx="59.3" cy="5.6" r="1.3" fill="#e4808a"/>
<path d="M59.1,10.6 L57.1,10.2" stroke="#df7a82" stroke-width="1" fill="none"/>
<circle cx="57.1" cy="10.2" r="1.1" fill="#e4808a"/>
<path d="M59.1,10.6 L56.3,13.8" stroke="#df7a82" stroke-width="1" fill="none"/>
<circle cx="56.3" cy="13.8" r="1.3" fill="#e4808a"/>
<path d="M59.1,10.6 L57.0,9.8" stroke="#df7a82" stroke-width="1" fill="none"/>
<circle cx="57.0" cy="9.8" r="1.3" fill="#e4808a"/>
<path d="M59.1,10.6 L57.5,9.2" stroke="#df7a82" stroke-width="1" fill="none"/>
<circle cx="57.5" cy="9.2" r="1.5" fill="#e4808a"/>
<path d="M59.1,10.6 L57.9,9.2" stroke="#df7a82" stroke-width="1" fill="none"/>
<circle cx="57.9" cy="9.2" r="1.5" fill="#e4808a"/>
<path d="M59.1,10.6 L61.0,12.6" stroke="#df7a82" stroke-width="1" fill="none"/>
<circle cx="61.0" cy="12.6" r="1.3" fill="#e4808a"/>
<circle cx="59.1" cy="10.6" r="2.9" fill="#e47880"/><circle cx="59.1" cy="10.6" r="1.4" fill="#cc5260"/>
<path d="M58.5,22.4 L55.2,20.4" stroke="#df7a82" stroke-width="1" fill="none"/>
<circle cx="55.2" cy="20.4" r="1.3" fill="#e4808a"/>
<path d="M58.5,22.4 L55.7,23.0" stroke="#df7a82" stroke-width="1" fill="none"/>
<circle cx="55.7" cy="23.0" r="0.9" fill="#e4808a"/>
<path d="M58.5,22.4 L62.8,24.1" stroke="#df7a82" stroke-width="1" fill="none"/>
<circle cx="62.8" cy="24.1" r="1.4" fill="#e4808a"/>
<path d="M58.5,22.4 L53.8,21.3" stroke="#df7a82" stroke-width="1" fill="none"/>
<circle cx="53.8" cy="21.3" r="1.0" fill="#e4808a"/>
<path d="M58.5,22.4 L58.2,25.1" stroke="#df7a82" stroke-width="1" fill="none"/>
<circle cx="58.2" cy="25.1" r="1.5" fill="#e4808a"/>
<path d="M58.5,22.4 L62.1,23.2" stroke="#df7a82" stroke-width="1" fill="none"/>
<circle cx="62.1" cy="23.2" r="0.9" fill="#e4808a"/>
<path d="M58.5,22.4 L58.9,19.8" stroke="#df7a82" stroke-width="1" fill="none"/>
<circle cx="58.9" cy="19.8" r="1.0" fill="#e4808a"/>
<path d="M58.5,22.4 L55.3,24.3" stroke="#df7a82" stroke-width="1" fill="none"/>
<circle cx="55.3" cy="24.3" r="1.4" fill="#e4808a"/>
<path d="M58.5,22.4 L55.3,26.0" stroke="#df7a82" stroke-width="1" fill="none"/>
<circle cx="55.3" cy="26.0" r="0.8" fill="#e4808a"/>
<path d="M58.5,22.4 L58.2,24.0" stroke="#df7a82" stroke-width="1" fill="none"/>
<circle cx="58.2" cy="24.0" r="0.8" fill="#e4808a"/>
<path d="M58.5,22.4 L59.4,18.4" stroke="#df7a82" stroke-width="1" fill="none"/>
<circle cx="59.4" cy="18.4" r="0.9" fill="#e4808a"/>
<path d="M58.5,22.4 L59.8,25.1" stroke="#df7a82" stroke-width="1" fill="none"/>
<circle cx="59.8" cy="25.1" r="1.4" fill="#e4808a"/>
<circle cx="58.5" cy="22.4" r="2.9" fill="#e47880"/><circle cx="58.5" cy="22.4" r="1.4" fill="#cc5260"/>
<path d="M0.6,32.8 L2.6,29.0" stroke="#df7a82" stroke-width="1" fill="none"/>
<circle cx="2.6" cy="29.0" r="1.2" fill="#e4808a"/>
<path d="M0.6,32.8 L2.6,35.0" stroke="#df7a82" stroke-width="1" fill="none"/>
<circle cx="2.6" cy="35.0" r="0.9" fill="#e4808a"/>
<path d="M0.6,32.8 L-3.4,32.2" stroke="#df7a82" stroke-width="1" fill="none"/>
<circle cx="-3.4" cy="32.2" r="0.9" fill="#e4808a"/>
<path d="M0.6,32.8 L0.6,37.1" stroke="#df7a82" stroke-width="1" fill="none"/>
<circle cx="0.6" cy="37.1" r="0.7" fill="#e4808a"/>
<path d="M0.6,32.8 L2.4,28.4" stroke="#df7a82" stroke-width="1" fill="none"/>
<circle cx="2.4" cy="28.4" r="1.6" fill="#e4808a"/>
<path d="M0.6,32.8 L-2.4,35.1" stroke="#df7a82" stroke-width="1" fill="none"/>
<circle cx="-2.4" cy="35.1" r="1.2" fill="#e4808a"/>
<path d="M0.6,32.8 L-3.3,29.1" stroke="#df7a82" stroke-width="1" fill="none"/>
<circle cx="-3.3" cy="29.1" r="1.3" fill="#e4808a"/>
<path d="M0.6,32.8 L-1.0,37.1" stroke="#df7a82" stroke-width="1" fill="none"/>
<circle cx="-1.0" cy="37.1" r="1.1" fill="#e4808a"/>
<path d="M0.6,32.8 L-3.2,30.4" stroke="#df7a82" stroke-width="1" fill="none"/>
<circle cx="-3.2" cy="30.4" r="0.7" fill="#e4808a"/>
<path d="M0.6,32.8 L1.2,29.0" stroke="#df7a82" stroke-width="1" fill="none"/>
<circle cx="1.2" cy="29.0" r="1.1" fill="#e4808a"/>
<path d="M0.6,32.8 L-2.9,32.4" stroke="#df7a82" stroke-width="1" fill="none"/>
<circle cx="-2.9" cy="32.4" r="0.9" fill="#e4808a"/>
<path d="M0.6,32.8 L-1.0,32.5" stroke="#df7a82" stroke-width="1" fill="none"/>
<circle cx="-1.0" cy="32.5" r="1.2" fill="#e4808a"/>
<circle cx="0.6" cy="32.8" r="2.9" fill="#e47880"/><circle cx="0.6" cy="32.8" r="1.4" fill="#cc5260"/>
<path d="M-0.1,38.0 L-2.2,35.6" stroke="#df7a82" stroke-width="1" fill="none"/>
<circle cx="-2.2" cy="35.6" r="1.2" fill="#e4808a"/>
<path d="M-0.1,38.0 L5.2,36.8" stroke="#df7a82" stroke-width="1" fill="none"/>
<circle cx="5.2" cy="36.8" r="0.8" fill="#e4808a"/>
<path d="M-0.1,38.0 L1.0,34.5" stroke="#df7a82" stroke-width="1" fill="none"/>
<circle cx="1.0" cy="34.5" r="0.7" fill="#e4808a"/>
<path d="M-0.1,38.0 L-1.7,39.7" stroke="#df7a82" stroke-width="1" fill="none"/>
<circle cx="-1.7" cy="39.7" r="0.8" fill="#e4808a"/>
<path d="M-0.1,38.0 L-5.6,36.8" stroke="#df7a82" stroke-width="1" fill="none"/>
<circle cx="-5.6" cy="36.8" r="1.0" fill="#e4808a"/>
<path d="M-0.1,38.0 L3.1,35.1" stroke="#df7a82" stroke-width="1" fill="none"/>
<circle cx="3.1" cy="35.1" r="0.8" fill="#e4808a"/>
<path d="M-0.1,38.0 L2.5,35.2" stroke="#df7a82" stroke-width="1" fill="none"/>
<circle cx="2.5" cy="35.2" r="1.5" fill="#e4808a"/>
<path d="M-0.1,38.0 L-1.1,34.0" stroke="#df7a82" stroke-width="1" fill="none"/>
<circle cx="-1.1" cy="34.0" r="1.0" fill="#e4808a"/>
<path d="M-0.1,38.0 L1.9,33.5" stroke="#df7a82" stroke-width="1" fill="none"/>
<circle cx="1.9" cy="33.5" r="1.5" fill="#e4808a"/>
<path d="M-0.1,38.0 L-4.6,39.6" stroke="#df7a82" stroke-width="1" fill="none"/>
<circle cx="-4.6" cy="39.6" r="1.1" fill="#e4808a"/>
<path d="M-0.1,38.0 L1.2,38.9" stroke="#df7a82" stroke-width="1" fill="none"/>
<circle cx="1.2" cy="38.9" r="0.8" fill="#e4808a"/>
<path d="M-0.1,38.0 L0.6,39.8" stroke="#df7a82" stroke-width="1" fill="none"/>
<circle cx="0.6" cy="39.8" r="1.1" fill="#e4808a"/>
<circle cx="-0.1" cy="38" r="2.9" fill="#e47880"/><circle cx="-0.1" cy="38" r="1.4" fill="#cc5260"/>
<path d="M31.0,36.0 L29.8,32.8" stroke="#df7a82" stroke-width="1" fill="none"/>
<circle cx="29.8" cy="32.8" r="1.1" fill="#e4808a"/>
<path d="M31.0,36.0 L29.3,34.0" stroke="#df7a82" stroke-width="1" fill="none"/>
<circle cx="29.3" cy="34.0" r="1.1" fill="#e4808a"/>
<path d="M31.0,36.0 L31.1,33.2" stroke="#df7a82" stroke-width="1" fill="none"/>
<circle cx="31.1" cy="33.2" r="0.9" fill="#e4808a"/>
<path d="M31.0,36.0 L34.8,33.6" stroke="#df7a82" stroke-width="1" fill="none"/>
<circle cx="34.8" cy="33.6" r="1.0" fill="#e4808a"/>
<path d="M31.0,36.0 L28.3,38.4" stroke="#df7a82" stroke-width="1" fill="none"/>
<circle cx="28.3" cy="38.4" r="1.2" fill="#e4808a"/>
<path d="M31.0,36.0 L31.2,37.3" stroke="#df7a82" stroke-width="1" fill="none"/>
<circle cx="31.2" cy="37.3" r="0.9" fill="#e4808a"/>
<path d="M31.0,36.0 L31.4,34.2" stroke="#df7a82" stroke-width="1" fill="none"/>
<circle cx="31.4" cy="34.2" r="1.1" fill="#e4808a"/>
<path d="M31.0,36.0 L31.8,38.0" stroke="#df7a82" stroke-width="1" fill="none"/>
<circle cx="31.8" cy="38.0" r="0.9" fill="#e4808a"/>
<path d="M31.0,36.0 L29.1,37.1" stroke="#df7a82" stroke-width="1" fill="none"/>
<circle cx="29.1" cy="37.1" r="0.7" fill="#e4808a"/>
<path d="M31.0,36.0 L32.7,37.2" stroke="#df7a82" stroke-width="1" fill="none"/>
<circle cx="32.7" cy="37.2" r="1.1" fill="#e4808a"/>
<path d="M31.0,36.0 L32.5,36.5" stroke="#df7a82" stroke-width="1" fill="none"/>
<circle cx="32.5" cy="36.5" r="1.1" fill="#e4808a"/>
<path d="M31.0,36.0 L27.1,38.2" stroke="#df7a82" stroke-width="1" fill="none"/>
<circle cx="27.1" cy="38.2" r="0.7" fill="#e4808a"/>
<circle cx="31" cy="36" r="2.9" fill="#e47880"/><circle cx="31" cy="36" r="1.4" fill="#cc5260"/>
<path d="M-58.0,26.0 L-60.7,27.6" stroke="#df7a82" stroke-width="1" fill="none"/>
<circle cx="-60.7" cy="27.6" r="0.7" fill="#e4808a"/>
<path d="M-58.0,26.0 L-55.6,25.5" stroke="#df7a82" stroke-width="1" fill="none"/>
<circle cx="-55.6" cy="25.5" r="0.8" fill="#e4808a"/>
<path d="M-58.0,26.0 L-60.2,26.3" stroke="#df7a82" stroke-width="1" fill="none"/>
<circle cx="-60.2" cy="26.3" r="1.3" fill="#e4808a"/>
<path d="M-58.0,26.0 L-59.2,27.4" stroke="#df7a82" stroke-width="1" fill="none"/>
<circle cx="-59.2" cy="27.4" r="0.7" fill="#e4808a"/>
<path d="M-58.0,26.0 L-58.4,23.7" stroke="#df7a82" stroke-width="1" fill="none"/>
<circle cx="-58.4" cy="23.7" r="1.4" fill="#e4808a"/>
<path d="M-58.0,26.0 L-63.6,27.0" stroke="#df7a82" stroke-width="1" fill="none"/>
<circle cx="-63.6" cy="27.0" r="1.0" fill="#e4808a"/>
<path d="M-58.0,26.0 L-58.0,28.3" stroke="#df7a82" stroke-width="1" fill="none"/>
<circle cx="-58.0" cy="28.3" r="1.4" fill="#e4808a"/>
<path d="M-58.0,26.0 L-60.1,24.1" stroke="#df7a82" stroke-width="1" fill="none"/>
<circle cx="-60.1" cy="24.1" r="0.8" fill="#e4808a"/>
<path d="M-58.0,26.0 L-60.4,21.5" stroke="#df7a82" stroke-width="1" fill="none"/>
<circle cx="-60.4" cy="21.5" r="1.2" fill="#e4808a"/>
<path d="M-58.0,26.0 L-56.4,26.0" stroke="#df7a82" stroke-width="1" fill="none"/>
<circle cx="-56.4" cy="26.0" r="0.8" fill="#e4808a"/>
<path d="M-58.0,26.0 L-57.2,27.2" stroke="#df7a82" stroke-width="1" fill="none"/>
<circle cx="-57.2" cy="27.2" r="0.7" fill="#e4808a"/>
<path d="M-58.0,26.0 L-61.1,22.1" stroke="#df7a82" stroke-width="1" fill="none"/>
<circle cx="-61.1" cy="22.1" r="0.9" fill="#e4808a"/>
<circle cx="-58" cy="26" r="2.9" fill="#e47880"/><circle cx="-58" cy="26" r="1.4" fill="#cc5260"/>
<path d="M-35.0,-16.0 L-31.4,-16.5" stroke="#df7a82" stroke-width="1" fill="none"/>
<circle cx="-31.4" cy="-16.5" r="1.4" fill="#e4808a"/>
<path d="M-35.0,-16.0 L-30.0,-18.4" stroke="#df7a82" stroke-width="1" fill="none"/>
<circle cx="-30.0" cy="-18.4" r="0.7" fill="#e4808a"/>
<path d="M-35.0,-16.0 L-36.4,-12.6" stroke="#df7a82" stroke-width="1" fill="none"/>
<circle cx="-36.4" cy="-12.6" r="1.6" fill="#e4808a"/>
<path d="M-35.0,-16.0 L-32.6,-14.7" stroke="#df7a82" stroke-width="1" fill="none"/>
<circle cx="-32.6" cy="-14.7" r="1.5" fill="#e4808a"/>
<path d="M-35.0,-16.0 L-32.6,-14.2" stroke="#df7a82" stroke-width="1" fill="none"/>
<circle cx="-32.6" cy="-14.2" r="1.0" fill="#e4808a"/>
<path d="M-35.0,-16.0 L-37.4,-20.4" stroke="#df7a82" stroke-width="1" fill="none"/>
<circle cx="-37.4" cy="-20.4" r="0.9" fill="#e4808a"/>
<path d="M-35.0,-16.0 L-35.3,-20.1" stroke="#df7a82" stroke-width="1" fill="none"/>
<circle cx="-35.3" cy="-20.1" r="1.5" fill="#e4808a"/>
<path d="M-35.0,-16.0 L-40.3,-17.6" stroke="#df7a82" stroke-width="1" fill="none"/>
<circle cx="-40.3" cy="-17.6" r="1.0" fill="#e4808a"/>
<path d="M-35.0,-16.0 L-37.2,-14.9" stroke="#df7a82" stroke-width="1" fill="none"/>
<circle cx="-37.2" cy="-14.9" r="1.4" fill="#e4808a"/>
<path d="M-35.0,-16.0 L-37.7,-15.7" stroke="#df7a82" stroke-width="1" fill="none"/>
<circle cx="-37.7" cy="-15.7" r="0.9" fill="#e4808a"/>
<path d="M-35.0,-16.0 L-35.8,-19.5" stroke="#df7a82" stroke-width="1" fill="none"/>
<circle cx="-35.8" cy="-19.5" r="1.3" fill="#e4808a"/>
<path d="M-35.0,-16.0 L-37.8,-14.0" stroke="#df7a82" stroke-width="1" fill="none"/>
<circle cx="-37.8" cy="-14.0" r="0.8" fill="#e4808a"/>
<circle cx="-35" cy="-16" r="2.9" fill="#e47880"/><circle cx="-35" cy="-16" r="1.4" fill="#cc5260"/>
<path d="M44.0,-16.0 L43.6,-17.3" stroke="#df7a82" stroke-width="1" fill="none"/>
<circle cx="43.6" cy="-17.3" r="1.1" fill="#e4808a"/>
<path d="M44.0,-16.0 L44.2,-19.9" stroke="#df7a82" stroke-width="1" fill="none"/>
<circle cx="44.2" cy="-19.9" r="0.8" fill="#e4808a"/>
<path d="M44.0,-16.0 L44.4,-11.5" stroke="#df7a82" stroke-width="1" fill="none"/>
<circle cx="44.4" cy="-11.5" r="1.3" fill="#e4808a"/>
<path d="M44.0,-16.0 L47.9,-19.2" stroke="#df7a82" stroke-width="1" fill="none"/>
<circle cx="47.9" cy="-19.2" r="1.1" fill="#e4808a"/>
<path d="M44.0,-16.0 L47.8,-18.5" stroke="#df7a82" stroke-width="1" fill="none"/>
<circle cx="47.8" cy="-18.5" r="1.0" fill="#e4808a"/>
<path d="M44.0,-16.0 L42.8,-14.9" stroke="#df7a82" stroke-width="1" fill="none"/>
<circle cx="42.8" cy="-14.9" r="1.1" fill="#e4808a"/>
<path d="M44.0,-16.0 L45.9,-16.5" stroke="#df7a82" stroke-width="1" fill="none"/>
<circle cx="45.9" cy="-16.5" r="1.2" fill="#e4808a"/>
<path d="M44.0,-16.0 L45.4,-15.0" stroke="#df7a82" stroke-width="1" fill="none"/>
<circle cx="45.4" cy="-15.0" r="1.3" fill="#e4808a"/>
<path d="M44.0,-16.0 L44.1,-14.5" stroke="#df7a82" stroke-width="1" fill="none"/>
<circle cx="44.1" cy="-14.5" r="0.8" fill="#e4808a"/>
<path d="M44.0,-16.0 L41.5,-18.8" stroke="#df7a82" stroke-width="1" fill="none"/>
<circle cx="41.5" cy="-18.8" r="0.7" fill="#e4808a"/>
<path d="M44.0,-16.0 L44.7,-11.1" stroke="#df7a82" stroke-width="1" fill="none"/>
<circle cx="44.7" cy="-11.1" r="0.9" fill="#e4808a"/>
<path d="M44.0,-16.0 L40.9,-17.1" stroke="#df7a82" stroke-width="1" fill="none"/>
<circle cx="40.9" cy="-17.1" r="1.4" fill="#e4808a"/>
<circle cx="44" cy="-16" r="2.9" fill="#e47880"/><circle cx="44" cy="-16" r="1.4" fill="#cc5260"/>
<path d="M-18.0,26.0 L-22.0,23.4" stroke="#df7a82" stroke-width="1" fill="none"/>
<circle cx="-22.0" cy="23.4" r="1.2" fill="#e4808a"/>
<path d="M-18.0,26.0 L-17.1,27.8" stroke="#df7a82" stroke-width="1" fill="none"/>
<circle cx="-17.1" cy="27.8" r="0.8" fill="#e4808a"/>
<path d="M-18.0,26.0 L-17.1,24.5" stroke="#df7a82" stroke-width="1" fill="none"/>
<circle cx="-17.1" cy="24.5" r="0.7" fill="#e4808a"/>
<path d="M-18.0,26.0 L-15.7,25.6" stroke="#df7a82" stroke-width="1" fill="none"/>
<circle cx="-15.7" cy="25.6" r="1.5" fill="#e4808a"/>
<path d="M-18.0,26.0 L-14.9,27.6" stroke="#df7a82" stroke-width="1" fill="none"/>
<circle cx="-14.9" cy="27.6" r="0.9" fill="#e4808a"/>
<path d="M-18.0,26.0 L-16.0,22.8" stroke="#df7a82" stroke-width="1" fill="none"/>
<circle cx="-16.0" cy="22.8" r="1.3" fill="#e4808a"/>
<path d="M-18.0,26.0 L-17.6,21.4" stroke="#df7a82" stroke-width="1" fill="none"/>
<circle cx="-17.6" cy="21.4" r="1.0" fill="#e4808a"/>
<path d="M-18.0,26.0 L-20.8,24.2" stroke="#df7a82" stroke-width="1" fill="none"/>
<circle cx="-20.8" cy="24.2" r="0.8" fill="#e4808a"/>
<path d="M-18.0,26.0 L-15.9,22.9" stroke="#df7a82" stroke-width="1" fill="none"/>
<circle cx="-15.9" cy="22.9" r="1.4" fill="#e4808a"/>
<path d="M-18.0,26.0 L-16.9,29.2" stroke="#df7a82" stroke-width="1" fill="none"/>
<circle cx="-16.9" cy="29.2" r="1.1" fill="#e4808a"/>
<path d="M-18.0,26.0 L-18.3,24.4" stroke="#df7a82" stroke-width="1" fill="none"/>
<circle cx="-18.3" cy="24.4" r="1.0" fill="#e4808a"/>
<path d="M-18.0,26.0 L-19.8,26.2" stroke="#df7a82" stroke-width="1" fill="none"/>
<circle cx="-19.8" cy="26.2" r="1.2" fill="#e4808a"/>
<circle cx="-18" cy="26" r="2.9" fill="#e47880"/><circle cx="-18" cy="26" r="1.4" fill="#cc5260"/>
<path d="M63.0,-2.0 L62.7,-4.9" stroke="#df7a82" stroke-width="1" fill="none"/>
<circle cx="62.7" cy="-4.9" r="1.3" fill="#e4808a"/>
<path d="M63.0,-2.0 L61.1,-3.3" stroke="#df7a82" stroke-width="1" fill="none"/>
<circle cx="61.1" cy="-3.3" r="1.0" fill="#e4808a"/>
<path d="M63.0,-2.0 L66.0,-2.1" stroke="#df7a82" stroke-width="1" fill="none"/>
<circle cx="66.0" cy="-2.1" r="1.1" fill="#e4808a"/>
<path d="M63.0,-2.0 L65.1,-0.9" stroke="#df7a82" stroke-width="1" fill="none"/>
<circle cx="65.1" cy="-0.9" r="0.8" fill="#e4808a"/>
<path d="M63.0,-2.0 L67.3,-3.7" stroke="#df7a82" stroke-width="1" fill="none"/>
<circle cx="67.3" cy="-3.7" r="1.5" fill="#e4808a"/>
<path d="M63.0,-2.0 L67.2,-2.3" stroke="#df7a82" stroke-width="1" fill="none"/>
<circle cx="67.2" cy="-2.3" r="1.5" fill="#e4808a"/>
<path d="M63.0,-2.0 L59.7,-2.6" stroke="#df7a82" stroke-width="1" fill="none"/>
<circle cx="59.7" cy="-2.6" r="1.6" fill="#e4808a"/>
<path d="M63.0,-2.0 L67.7,-4.8" stroke="#df7a82" stroke-width="1" fill="none"/>
<circle cx="67.7" cy="-4.8" r="1.1" fill="#e4808a"/>
<path d="M63.0,-2.0 L63.5,-4.8" stroke="#df7a82" stroke-width="1" fill="none"/>
<circle cx="63.5" cy="-4.8" r="1.6" fill="#e4808a"/>
<path d="M63.0,-2.0 L65.5,-3.1" stroke="#df7a82" stroke-width="1" fill="none"/>
<circle cx="65.5" cy="-3.1" r="1.5" fill="#e4808a"/>
<path d="M63.0,-2.0 L63.8,-0.5" stroke="#df7a82" stroke-width="1" fill="none"/>
<circle cx="63.8" cy="-0.5" r="1.4" fill="#e4808a"/>
<path d="M63.0,-2.0 L61.9,1.1" stroke="#df7a82" stroke-width="1" fill="none"/>
<circle cx="61.9" cy="1.1" r="1.3" fill="#e4808a"/>
<circle cx="63" cy="-2" r="2.9" fill="#e47880"/><circle cx="63" cy="-2" r="1.4" fill="#cc5260"/>
<path d="M-12.0,-18.0 L-7.3,-17.0" stroke="#df7a82" stroke-width="1" fill="none"/>
<circle cx="-7.3" cy="-17.0" r="0.9" fill="#e4808a"/>
<path d="M-12.0,-18.0 L-14.8,-16.9" stroke="#df7a82" stroke-width="1" fill="none"/>
<circle cx="-14.8" cy="-16.9" r="1.4" fill="#e4808a"/>
<path d="M-12.0,-18.0 L-12.1,-20.4" stroke="#df7a82" stroke-width="1" fill="none"/>
<circle cx="-12.1" cy="-20.4" r="0.8" fill="#e4808a"/>
<path d="M-12.0,-18.0 L-13.0,-15.3" stroke="#df7a82" stroke-width="1" fill="none"/>
<circle cx="-13.0" cy="-15.3" r="0.8" fill="#e4808a"/>
<path d="M-12.0,-18.0 L-9.2,-14.6" stroke="#df7a82" stroke-width="1" fill="none"/>
<circle cx="-9.2" cy="-14.6" r="1.3" fill="#e4808a"/>
<path d="M-12.0,-18.0 L-6.2,-18.7" stroke="#df7a82" stroke-width="1" fill="none"/>
<circle cx="-6.2" cy="-18.7" r="1.5" fill="#e4808a"/>
<path d="M-12.0,-18.0 L-13.5,-16.6" stroke="#df7a82" stroke-width="1" fill="none"/>
<circle cx="-13.5" cy="-16.6" r="1.0" fill="#e4808a"/>
<path d="M-12.0,-18.0 L-15.8,-17.2" stroke="#df7a82" stroke-width="1" fill="none"/>
<circle cx="-15.8" cy="-17.2" r="1.2" fill="#e4808a"/>
<path d="M-12.0,-18.0 L-15.4,-14.5" stroke="#df7a82" stroke-width="1" fill="none"/>
<circle cx="-15.4" cy="-14.5" r="1.0" fill="#e4808a"/>
<path d="M-12.0,-18.0 L-17.3,-16.9" stroke="#df7a82" stroke-width="1" fill="none"/>
<circle cx="-17.3" cy="-16.9" r="1.4" fill="#e4808a"/>
<path d="M-12.0,-18.0 L-12.8,-15.9" stroke="#df7a82" stroke-width="1" fill="none"/>
<circle cx="-12.8" cy="-15.9" r="1.4" fill="#e4808a"/>
<path d="M-12.0,-18.0 L-9.9,-17.9" stroke="#df7a82" stroke-width="1" fill="none"/>
<circle cx="-9.9" cy="-17.9" r="1.2" fill="#e4808a"/>
<circle cx="-12" cy="-18" r="2.9" fill="#e47880"/><circle cx="-12" cy="-18" r="1.4" fill="#cc5260"/>
<path d="M12.0,-20.0 L9.8,-20.4" stroke="#df7a82" stroke-width="1" fill="none"/>
<circle cx="9.8" cy="-20.4" r="0.7" fill="#e4808a"/>
<path d="M12.0,-20.0 L13.4,-16.0" stroke="#df7a82" stroke-width="1" fill="none"/>
<circle cx="13.4" cy="-16.0" r="1.1" fill="#e4808a"/>
<path d="M12.0,-20.0 L17.0,-20.6" stroke="#df7a82" stroke-width="1" fill="none"/>
<circle cx="17.0" cy="-20.6" r="1.6" fill="#e4808a"/>
<path d="M12.0,-20.0 L14.3,-19.6" stroke="#df7a82" stroke-width="1" fill="none"/>
<circle cx="14.3" cy="-19.6" r="0.7" fill="#e4808a"/>
<path d="M12.0,-20.0 L9.2,-18.9" stroke="#df7a82" stroke-width="1" fill="none"/>
<circle cx="9.2" cy="-18.9" r="0.7" fill="#e4808a"/>
<path d="M12.0,-20.0 L10.2,-20.5" stroke="#df7a82" stroke-width="1" fill="none"/>
<circle cx="10.2" cy="-20.5" r="1.0" fill="#e4808a"/>
<path d="M12.0,-20.0 L12.1,-15.7" stroke="#df7a82" stroke-width="1" fill="none"/>
<circle cx="12.1" cy="-15.7" r="1.1" fill="#e4808a"/>
<path d="M12.0,-20.0 L11.9,-18.6" stroke="#df7a82" stroke-width="1" fill="none"/>
<circle cx="11.9" cy="-18.6" r="1.1" fill="#e4808a"/>
<path d="M12.0,-20.0 L8.8,-22.8" stroke="#df7a82" stroke-width="1" fill="none"/>
<circle cx="8.8" cy="-22.8" r="1.5" fill="#e4808a"/>
<path d="M12.0,-20.0 L12.9,-22.1" stroke="#df7a82" stroke-width="1" fill="none"/>
<circle cx="12.9" cy="-22.1" r="0.8" fill="#e4808a"/>
<path d="M12.0,-20.0 L12.3,-24.3" stroke="#df7a82" stroke-width="1" fill="none"/>
<circle cx="12.3" cy="-24.3" r="1.2" fill="#e4808a"/>
<path d="M12.0,-20.0 L13.9,-23.0" stroke="#df7a82" stroke-width="1" fill="none"/>
<circle cx="13.9" cy="-23.0" r="1.0" fill="#e4808a"/>
<circle cx="12" cy="-20" r="2.9" fill="#e47880"/><circle cx="12" cy="-20" r="1.4" fill="#cc5260"/>
<path d="M-50.0,-12.0 L-49.2,-10.8" stroke="#df7a82" stroke-width="1" fill="none"/>
<circle cx="-49.2" cy="-10.8" r="1.3" fill="#e4808a"/>
<path d="M-50.0,-12.0 L-45.6,-14.9" stroke="#df7a82" stroke-width="1" fill="none"/>
<circle cx="-45.6" cy="-14.9" r="1.1" fill="#e4808a"/>
<path d="M-50.0,-12.0 L-52.9,-16.2" stroke="#df7a82" stroke-width="1" fill="none"/>
<circle cx="-52.9" cy="-16.2" r="1.4" fill="#e4808a"/>
<path d="M-50.0,-12.0 L-52.7,-13.7" stroke="#df7a82" stroke-width="1" fill="none"/>
<circle cx="-52.7" cy="-13.7" r="1.2" fill="#e4808a"/>
<path d="M-50.0,-12.0 L-48.9,-10.3" stroke="#df7a82" stroke-width="1" fill="none"/>
<circle cx="-48.9" cy="-10.3" r="1.3" fill="#e4808a"/>
<path d="M-50.0,-12.0 L-46.0,-12.2" stroke="#df7a82" stroke-width="1" fill="none"/>
<circle cx="-46.0" cy="-12.2" r="1.1" fill="#e4808a"/>
<path d="M-50.0,-12.0 L-52.1,-9.6" stroke="#df7a82" stroke-width="1" fill="none"/>
<circle cx="-52.1" cy="-9.6" r="1.4" fill="#e4808a"/>
<path d="M-50.0,-12.0 L-55.6,-10.5" stroke="#df7a82" stroke-width="1" fill="none"/>
<circle cx="-55.6" cy="-10.5" r="0.8" fill="#e4808a"/>
<path d="M-50.0,-12.0 L-51.5,-9.0" stroke="#df7a82" stroke-width="1" fill="none"/>
<circle cx="-51.5" cy="-9.0" r="1.1" fill="#e4808a"/>
<path d="M-50.0,-12.0 L-46.9,-15.6" stroke="#df7a82" stroke-width="1" fill="none"/>
<circle cx="-46.9" cy="-15.6" r="1.5" fill="#e4808a"/>
<path d="M-50.0,-12.0 L-51.2,-12.9" stroke="#df7a82" stroke-width="1" fill="none"/>
<circle cx="-51.2" cy="-12.9" r="1.2" fill="#e4808a"/>
<path d="M-50.0,-12.0 L-53.5,-13.0" stroke="#df7a82" stroke-width="1" fill="none"/>
<circle cx="-53.5" cy="-13.0" r="1.0" fill="#e4808a"/>
<circle cx="-50" cy="-12" r="2.9" fill="#e47880"/><circle cx="-50" cy="-12" r="1.4" fill="#cc5260"/>
<g transform="translate(-39,7.8) rotate(0)"><path d="M0,-6.5 L7.5,5 L-7.5,5 Z" fill="#ea8589" stroke="#c95a64" stroke-width="0.9"/><circle cx="0" cy="1" r="2.8" fill="#dc6a72"/><circle cx="0" cy="1" r="1.2" fill="#c85060"/></g>
<g transform="translate(-12.2,11.1) rotate(180)"><path d="M0,-6.5 L7.5,5 L-7.5,5 Z" fill="#ea8589" stroke="#c95a64" stroke-width="0.9"/><circle cx="0" cy="1" r="2.8" fill="#dc6a72"/><circle cx="0" cy="1" r="1.2" fill="#c85060"/></g>
<g transform="translate(6.1,8.5) rotate(0)"><path d="M0,-6.5 L7.5,5 L-7.5,5 Z" fill="#ea8589" stroke="#c95a64" stroke-width="0.9"/><circle cx="0" cy="1" r="2.8" fill="#dc6a72"/><circle cx="0" cy="1" r="1.2" fill="#c85060"/></g>
<g transform="translate(48.7,4) rotate(180)"><path d="M0,-6.5 L7.5,5 L-7.5,5 Z" fill="#ea8589" stroke="#c95a64" stroke-width="0.9"/><circle cx="0" cy="1" r="2.8" fill="#dc6a72"/><circle cx="0" cy="1" r="1.2" fill="#c85060"/></g>
<g transform="translate(31,14.9) rotate(0)"><path d="M0,-6.5 L7.5,5 L-7.5,5 Z" fill="#ea8589" stroke="#c95a64" stroke-width="0.9"/><circle cx="0" cy="1" r="2.8" fill="#dc6a72"/><circle cx="0" cy="1" r="1.2" fill="#c85060"/></g>
<g transform="translate(13.3,24.8) rotate(0)"><path d="M0,-6.5 L7.5,5 L-7.5,5 Z" fill="#ea8589" stroke="#c95a64" stroke-width="0.9"/><circle cx="0" cy="1" r="2.8" fill="#dc6a72"/><circle cx="0" cy="1" r="1.2" fill="#c85060"/></g>
</g></g>
<g id="astro">
<g clip-path="url(#medclip)">
<path d="M-54.3,7.6 L-41.0,9.5" stroke="#8a6fbf" stroke-width="0.5" fill="none"/>
<path d="M-42.9,9.3 L-37.9,9.7" stroke="#9c86c8" stroke-width="0.4" fill="none"/>
<path d="M-45.1,8.9 L-40.7,7.0" stroke="#9c86c8" stroke-width="0.4" fill="none"/>
<path d="M-54.3,7.6 L-44.5,17.1" stroke="#8a6fbf" stroke-width="0.5" fill="none"/>
<path d="M-49.9,11.8 L-46.9,13.0" stroke="#9c86c8" stroke-width="0.4" fill="none"/>
<path d="M-46.4,15.2 L-45.6,17.7" stroke="#9c86c8" stroke-width="0.4" fill="none"/>
<path d="M-54.3,7.6 L-55.6,20.9" stroke="#8a6fbf" stroke-width="0.5" fill="none"/>
<path d="M-55.3,17.3 L-56.4,20.0" stroke="#9c86c8" stroke-width="0.4" fill="none"/>
<path d="M-54.8,13.0 L-55.3,15.6" stroke="#9c86c8" stroke-width="0.4" fill="none"/>
<path d="M-54.3,7.6 L-58.5,15.7" stroke="#8a6fbf" stroke-width="0.5" fill="none"/>
<path d="M-56.0,11.0 L-57.5,14.6" stroke="#9c86c8" stroke-width="0.4" fill="none"/>
<path d="M-57.7,14.2 L-60.0,18.3" stroke="#9c86c8" stroke-width="0.4" fill="none"/>
<path d="M-54.3,7.6 L-67.3,12.4" stroke="#8a6fbf" stroke-width="0.5" fill="none"/>
<path d="M-62.5,10.6 L-66.7,15.0" stroke="#9c86c8" stroke-width="0.4" fill="none"/>
<path d="M-66.0,11.9 L-71.5,10.4" stroke="#9c86c8" stroke-width="0.4" fill="none"/>
<path d="M-54.3,7.6 L-65.1,6.5" stroke="#8a6fbf" stroke-width="0.5" fill="none"/>
<path d="M-60.2,7.0 L-64.3,10.6" stroke="#9c86c8" stroke-width="0.4" fill="none"/>
<path d="M-60.8,6.9 L-63.6,4.1" stroke="#9c86c8" stroke-width="0.4" fill="none"/>
<path d="M-54.3,7.6 L-62.7,-3.1" stroke="#8a6fbf" stroke-width="0.5" fill="none"/>
<path d="M-57.7,3.3 L-63.8,1.4" stroke="#9c86c8" stroke-width="0.4" fill="none"/>
<path d="M-59.6,0.8 L-57.4,-2.4" stroke="#9c86c8" stroke-width="0.4" fill="none"/>
<path d="M-54.3,7.6 L-58.2,-3.2" stroke="#8a6fbf" stroke-width="0.5" fill="none"/>
<path d="M-57.4,-0.9 L-59.8,-2.8" stroke="#9c86c8" stroke-width="0.4" fill="none"/>
<path d="M-56.5,1.5 L-52.5,-2.1" stroke="#9c86c8" stroke-width="0.4" fill="none"/>
<path d="M-54.3,7.6 L-50.4,-0.6" stroke="#8a6fbf" stroke-width="0.5" fill="none"/>
<path d="M-52.6,3.9 L-56.1,-0.2" stroke="#9c86c8" stroke-width="0.4" fill="none"/>
<path d="M-52.4,3.6 L-50.1,0.2" stroke="#9c86c8" stroke-width="0.4" fill="none"/>
<path d="M-54.3,7.6 L-41.7,1.4" stroke="#8a6fbf" stroke-width="0.5" fill="none"/>
<path d="M-48.4,4.7 L-45.0,4.0" stroke="#9c86c8" stroke-width="0.4" fill="none"/>
<path d="M-46.6,3.8 L-45.0,0.8" stroke="#9c86c8" stroke-width="0.4" fill="none"/>
<circle cx="-54.3" cy="7.6" r="2.7" fill="#9368d6"/><circle cx="-54.3" cy="7.6" r="1.2" fill="#4d2c92"/>
<path d="M-40.5,-1.7 L-26.2,3.0" stroke="#8a6fbf" stroke-width="0.5" fill="none"/>
<path d="M-32.6,0.9 L-31.4,3.8" stroke="#9c86c8" stroke-width="0.4" fill="none"/>
<path d="M-32.0,1.1 L-29.8,5.2" stroke="#9c86c8" stroke-width="0.4" fill="none"/>
<path d="M-40.5,-1.7 L-27.2,6.7" stroke="#8a6fbf" stroke-width="0.5" fill="none"/>
<path d="M-33.8,2.5 L-27.7,3.2" stroke="#9c86c8" stroke-width="0.4" fill="none"/>
<path d="M-33.0,3.0 L-29.8,3.6" stroke="#9c86c8" stroke-width="0.4" fill="none"/>
<path d="M-40.5,-1.7 L-36.7,8.8" stroke="#8a6fbf" stroke-width="0.5" fill="none"/>
<path d="M-38.5,3.8 L-38.3,7.4" stroke="#9c86c8" stroke-width="0.4" fill="none"/>
<path d="M-38.1,4.9 L-41.4,7.8" stroke="#9c86c8" stroke-width="0.4" fill="none"/>
<path d="M-40.5,-1.7 L-48.7,9.2" stroke="#8a6fbf" stroke-width="0.5" fill="none"/>
<path d="M-44.6,3.7 L-43.1,8.8" stroke="#9c86c8" stroke-width="0.4" fill="none"/>
<path d="M-47.2,7.1 L-47.1,10.1" stroke="#9c86c8" stroke-width="0.4" fill="none"/>
<path d="M-40.5,-1.7 L-56.1,2.6" stroke="#8a6fbf" stroke-width="0.5" fill="none"/>
<path d="M-48.3,0.5 L-53.4,-2.7" stroke="#9c86c8" stroke-width="0.4" fill="none"/>
<path d="M-51.5,1.3 L-54.4,2.7" stroke="#9c86c8" stroke-width="0.4" fill="none"/>
<path d="M-40.5,-1.7 L-57.2,-1.9" stroke="#8a6fbf" stroke-width="0.5" fill="none"/>
<path d="M-49.2,-1.8 L-52.8,-3.3" stroke="#9c86c8" stroke-width="0.4" fill="none"/>
<path d="M-54.1,-1.9 L-58.1,-2.6" stroke="#9c86c8" stroke-width="0.4" fill="none"/>
<path d="M-40.5,-1.7 L-51.8,-9.3" stroke="#8a6fbf" stroke-width="0.5" fill="none"/>
<path d="M-45.4,-5.0 L-50.6,-5.4" stroke="#9c86c8" stroke-width="0.4" fill="none"/>
<path d="M-49.8,-8.0 L-52.2,-10.7" stroke="#9c86c8" stroke-width="0.4" fill="none"/>
<path d="M-40.5,-1.7 L-39.9,-10.2" stroke="#8a6fbf" stroke-width="0.5" fill="none"/>
<path d="M-40.3,-5.2 L-42.4,-8.6" stroke="#9c86c8" stroke-width="0.4" fill="none"/>
<path d="M-40.3,-5.4 L-43.0,-8.2" stroke="#9c86c8" stroke-width="0.4" fill="none"/>
<path d="M-40.5,-1.7 L-35.3,-8.6" stroke="#8a6fbf" stroke-width="0.5" fill="none"/>
<path d="M-37.5,-5.7 L-30.7,-6.6" stroke="#9c86c8" stroke-width="0.4" fill="none"/>
<path d="M-36.7,-6.7 L-32.3,-9.2" stroke="#9c86c8" stroke-width="0.4" fill="none"/>
<path d="M-40.5,-1.7 L-32.7,-5.7" stroke="#8a6fbf" stroke-width="0.5" fill="none"/>
<path d="M-37.3,-3.3 L-31.8,-1.8" stroke="#9c86c8" stroke-width="0.4" fill="none"/>
<path d="M-33.6,-5.2 L-33.9,-9.7" stroke="#9c86c8" stroke-width="0.4" fill="none"/>
<circle cx="-40.5" cy="-1.7" r="2.7" fill="#9368d6"/><circle cx="-40.5" cy="-1.7" r="1.2" fill="#4d2c92"/>
<path d="M-24,-3.8 L-9.4,-1.5" stroke="#8a6fbf" stroke-width="0.5" fill="none"/>
<path d="M-15.8,-2.5 L-14.9,0.0" stroke="#9c86c8" stroke-width="0.4" fill="none"/>
<path d="M-14.2,-2.3 L-9.2,1.2" stroke="#9c86c8" stroke-width="0.4" fill="none"/>
<path d="M-24,-3.8 L-15.2,5.5" stroke="#8a6fbf" stroke-width="0.5" fill="none"/>
<path d="M-17.0,3.6 L-18.1,7.0" stroke="#9c86c8" stroke-width="0.4" fill="none"/>
<path d="M-17.4,3.1 L-19.0,8.2" stroke="#9c86c8" stroke-width="0.4" fill="none"/>
<path d="M-24,-3.8 L-21.8,8.3" stroke="#8a6fbf" stroke-width="0.5" fill="none"/>
<path d="M-22.1,6.3 L-22.2,10.7" stroke="#9c86c8" stroke-width="0.4" fill="none"/>
<path d="M-22.7,3.4 L-22.9,7.7" stroke="#9c86c8" stroke-width="0.4" fill="none"/>
<path d="M-24,-3.8 L-28.8,6.8" stroke="#8a6fbf" stroke-width="0.5" fill="none"/>
<path d="M-28.3,5.7 L-33.8,7.5" stroke="#9c86c8" stroke-width="0.4" fill="none"/>
<path d="M-26.8,2.5 L-30.9,5.3" stroke="#9c86c8" stroke-width="0.4" fill="none"/>
<path d="M-24,-3.8 L-38.1,1.7" stroke="#8a6fbf" stroke-width="0.5" fill="none"/>
<path d="M-30.2,-1.4 L-33.3,-1.6" stroke="#9c86c8" stroke-width="0.4" fill="none"/>
<path d="M-33.9,0.0 L-37.4,1.5" stroke="#9c86c8" stroke-width="0.4" fill="none"/>
<path d="M-24,-3.8 L-36.5,-6.7" stroke="#8a6fbf" stroke-width="0.5" fill="none"/>
<path d="M-32.8,-5.8 L-34.3,-8.8" stroke="#9c86c8" stroke-width="0.4" fill="none"/>
<path d="M-29.1,-5.0 L-34.7,-4.2" stroke="#9c86c8" stroke-width="0.4" fill="none"/>
<path d="M-24,-3.8 L-31.9,-9.2" stroke="#8a6fbf" stroke-width="0.5" fill="none"/>
<path d="M-30.7,-8.4 L-33.0,-11.7" stroke="#9c86c8" stroke-width="0.4" fill="none"/>
<path d="M-30.6,-8.4 L-36.0,-9.8" stroke="#9c86c8" stroke-width="0.4" fill="none"/>
<path d="M-24,-3.8 L-26.9,-13.5" stroke="#8a6fbf" stroke-width="0.5" fill="none"/>
<path d="M-26.3,-11.6 L-22.2,-15.6" stroke="#9c86c8" stroke-width="0.4" fill="none"/>
<path d="M-25.7,-9.5 L-25.9,-12.9" stroke="#9c86c8" stroke-width="0.4" fill="none"/>
<path d="M-24,-3.8 L-19.3,-13.5" stroke="#8a6fbf" stroke-width="0.5" fill="none"/>
<path d="M-20.2,-11.7 L-14.9,-13.7" stroke="#9c86c8" stroke-width="0.4" fill="none"/>
<path d="M-19.9,-12.3 L-20.4,-15.2" stroke="#9c86c8" stroke-width="0.4" fill="none"/>
<path d="M-24,-3.8 L-13.9,-7.7" stroke="#8a6fbf" stroke-width="0.5" fill="none"/>
<path d="M-18.9,-5.8 L-14.5,-8.4" stroke="#9c86c8" stroke-width="0.4" fill="none"/>
<path d="M-17.5,-6.3 L-13.3,-10.1" stroke="#9c86c8" stroke-width="0.4" fill="none"/>
<circle cx="-24" cy="-3.8" r="2.7" fill="#9368d6"/><circle cx="-24" cy="-3.8" r="1.2" fill="#4d2c92"/>
<path d="M-2.7,-8.6 L9.0,-4.7" stroke="#8a6fbf" stroke-width="0.5" fill="none"/>
<path d="M2.4,-6.9 L7.6,-10.0" stroke="#9c86c8" stroke-width="0.4" fill="none"/>
<path d="M2.2,-7.0 L5.7,-3.8" stroke="#9c86c8" stroke-width="0.4" fill="none"/>
<path d="M-2.7,-8.6 L8.5,-0.2" stroke="#8a6fbf" stroke-width="0.5" fill="none"/>
<path d="M1.9,-5.2 L6.7,-5.4" stroke="#9c86c8" stroke-width="0.4" fill="none"/>
<path d="M1.9,-5.1 L2.3,-2.0" stroke="#9c86c8" stroke-width="0.4" fill="none"/>
<path d="M-2.7,-8.6 L-0.3,-1.3" stroke="#8a6fbf" stroke-width="0.5" fill="none"/>
<path d="M-1.0,-3.4 L1.0,0.7" stroke="#9c86c8" stroke-width="0.4" fill="none"/>
<path d="M-1.0,-3.3 L-3.7,1.7" stroke="#9c86c8" stroke-width="0.4" fill="none"/>
<path d="M-2.7,-8.6 L-8.6,-1.5" stroke="#8a6fbf" stroke-width="0.5" fill="none"/>
<path d="M-6.4,-4.1 L-6.1,-1.7" stroke="#9c86c8" stroke-width="0.4" fill="none"/>
<path d="M-6.4,-4.1 L-9.7,-2.7" stroke="#9c86c8" stroke-width="0.4" fill="none"/>
<path d="M-2.7,-8.6 L-12.9,-3.9" stroke="#8a6fbf" stroke-width="0.5" fill="none"/>
<path d="M-10.3,-5.1 L-15.2,-3.1" stroke="#9c86c8" stroke-width="0.4" fill="none"/>
<path d="M-10.6,-5.0 L-15.1,-1.6" stroke="#9c86c8" stroke-width="0.4" fill="none"/>
<path d="M-2.7,-8.6 L-11.8,-11.4" stroke="#8a6fbf" stroke-width="0.5" fill="none"/>
<path d="M-10.6,-11.0 L-12.9,-13.1" stroke="#9c86c8" stroke-width="0.4" fill="none"/>
<path d="M-8.4,-10.3 L-13.7,-13.5" stroke="#9c86c8" stroke-width="0.4" fill="none"/>
<path d="M-2.7,-8.6 L-12.3,-16.2" stroke="#8a6fbf" stroke-width="0.5" fill="none"/>
<path d="M-10.8,-15.0 L-11.7,-20.4" stroke="#9c86c8" stroke-width="0.4" fill="none"/>
<path d="M-8.8,-13.4 L-10.5,-16.2" stroke="#9c86c8" stroke-width="0.4" fill="none"/>
<path d="M-2.7,-8.6 L-3.1,-21.0" stroke="#8a6fbf" stroke-width="0.5" fill="none"/>
<path d="M-3.0,-17.6 L-1.3,-20.3" stroke="#9c86c8" stroke-width="0.4" fill="none"/>
<path d="M-3.0,-19.2 L2.9,-22.0" stroke="#9c86c8" stroke-width="0.4" fill="none"/>
<path d="M-2.7,-8.6 L5.0,-19.2" stroke="#8a6fbf" stroke-width="0.5" fill="none"/>
<path d="M1.6,-14.5 L8.0,-15.2" stroke="#9c86c8" stroke-width="0.4" fill="none"/>
<path d="M1.7,-14.7 L-0.1,-18.2" stroke="#9c86c8" stroke-width="0.4" fill="none"/>
<path d="M-2.7,-8.6 L11.2,-13.4" stroke="#8a6fbf" stroke-width="0.5" fill="none"/>
<path d="M6.2,-11.7 L7.0,-16.6" stroke="#9c86c8" stroke-width="0.4" fill="none"/>
<path d="M3.3,-10.7 L6.9,-9.9" stroke="#9c86c8" stroke-width="0.4" fill="none"/>
<circle cx="-2.7" cy="-8.6" r="2.7" fill="#9368d6"/><circle cx="-2.7" cy="-8.6" r="1.2" fill="#4d2c92"/>
<path d="M19.6,-3.8 L34.8,-2.2" stroke="#8a6fbf" stroke-width="0.5" fill="none"/>
<path d="M26.7,-3.0 L30.8,-5.4" stroke="#9c86c8" stroke-width="0.4" fill="none"/>
<path d="M31.2,-2.6 L34.8,1.0" stroke="#9c86c8" stroke-width="0.4" fill="none"/>
<path d="M19.6,-3.8 L26.5,4.9" stroke="#8a6fbf" stroke-width="0.5" fill="none"/>
<path d="M25.7,3.9 L29.5,4.1" stroke="#9c86c8" stroke-width="0.4" fill="none"/>
<path d="M24.2,2.0 L29.2,4.5" stroke="#9c86c8" stroke-width="0.4" fill="none"/>
<path d="M19.6,-3.8 L20.4,6.7" stroke="#8a6fbf" stroke-width="0.5" fill="none"/>
<path d="M20.2,4.9 L19.9,8.2" stroke="#9c86c8" stroke-width="0.4" fill="none"/>
<path d="M20.1,2.4 L15.8,6.5" stroke="#9c86c8" stroke-width="0.4" fill="none"/>
<path d="M19.6,-3.8 L13.5,7.9" stroke="#8a6fbf" stroke-width="0.5" fill="none"/>
<path d="M14.2,6.5 L11.9,10.3" stroke="#9c86c8" stroke-width="0.4" fill="none"/>
<path d="M16.5,2.0 L14.2,5.6" stroke="#9c86c8" stroke-width="0.4" fill="none"/>
<path d="M19.6,-3.8 L11.1,-1.0" stroke="#8a6fbf" stroke-width="0.5" fill="none"/>
<path d="M12.0,-1.3 L7.7,-0.1" stroke="#9c86c8" stroke-width="0.4" fill="none"/>
<path d="M12.8,-1.6 L7.9,-0.6" stroke="#9c86c8" stroke-width="0.4" fill="none"/>
<path d="M19.6,-3.8 L10.4,-5.9" stroke="#8a6fbf" stroke-width="0.5" fill="none"/>
<path d="M13.5,-5.2 L6.7,-5.7" stroke="#9c86c8" stroke-width="0.4" fill="none"/>
<path d="M11.7,-5.6 L6.9,-4.7" stroke="#9c86c8" stroke-width="0.4" fill="none"/>
<path d="M19.6,-3.8 L9.9,-10.1" stroke="#8a6fbf" stroke-width="0.5" fill="none"/>
<path d="M11.8,-8.9 L11.7,-12.8" stroke="#9c86c8" stroke-width="0.4" fill="none"/>
<path d="M14.2,-7.3 L8.7,-7.3" stroke="#9c86c8" stroke-width="0.4" fill="none"/>
<path d="M19.6,-3.8 L20.2,-11.8" stroke="#8a6fbf" stroke-width="0.5" fill="none"/>
<path d="M20.0,-10.1 L16.9,-11.8" stroke="#9c86c8" stroke-width="0.4" fill="none"/>
<path d="M19.9,-7.9 L21.8,-11.0" stroke="#9c86c8" stroke-width="0.4" fill="none"/>
<path d="M19.6,-3.8 L25.7,-13.8" stroke="#8a6fbf" stroke-width="0.5" fill="none"/>
<path d="M22.4,-8.3 L25.2,-9.9" stroke="#9c86c8" stroke-width="0.4" fill="none"/>
<path d="M23.6,-10.4 L23.3,-13.4" stroke="#9c86c8" stroke-width="0.4" fill="none"/>
<path d="M19.6,-3.8 L31.0,-7.8" stroke="#8a6fbf" stroke-width="0.5" fill="none"/>
<path d="M26.3,-6.2 L30.5,-8.5" stroke="#9c86c8" stroke-width="0.4" fill="none"/>
<path d="M25.1,-5.7 L27.8,-9.6" stroke="#9c86c8" stroke-width="0.4" fill="none"/>
<circle cx="19.6" cy="-3.8" r="2.7" fill="#9368d6"/><circle cx="19.6" cy="-3.8" r="1.2" fill="#4d2c92"/>
<path d="M41.3,-2.4 L54.1,0.3" stroke="#8a6fbf" stroke-width="0.5" fill="none"/>
<path d="M51.9,-0.2 L57.5,2.3" stroke="#9c86c8" stroke-width="0.4" fill="none"/>
<path d="M47.9,-1.0 L52.3,2.5" stroke="#9c86c8" stroke-width="0.4" fill="none"/>
<path d="M41.3,-2.4 L47.6,5.3" stroke="#8a6fbf" stroke-width="0.5" fill="none"/>
<path d="M44.8,1.9 L43.5,4.8" stroke="#9c86c8" stroke-width="0.4" fill="none"/>
<path d="M47.0,4.5 L46.0,7.3" stroke="#9c86c8" stroke-width="0.4" fill="none"/>
<path d="M41.3,-2.4 L44.5,9.2" stroke="#8a6fbf" stroke-width="0.5" fill="none"/>
<path d="M43.0,3.7 L48.7,6.0" stroke="#9c86c8" stroke-width="0.4" fill="none"/>
<path d="M43.3,4.7 L41.8,7.2" stroke="#9c86c8" stroke-width="0.4" fill="none"/>
<path d="M41.3,-2.4 L34.7,7.9" stroke="#8a6fbf" stroke-width="0.5" fill="none"/>
<path d="M38.6,1.8 L39.6,6.3" stroke="#9c86c8" stroke-width="0.4" fill="none"/>
<path d="M35.6,6.4 L32.2,6.6" stroke="#9c86c8" stroke-width="0.4" fill="none"/>
<path d="M41.3,-2.4 L27.6,2.6" stroke="#8a6fbf" stroke-width="0.5" fill="none"/>
<path d="M32.4,0.8 L28.6,0.9" stroke="#9c86c8" stroke-width="0.4" fill="none"/>
<path d="M35.3,-0.2 L34.5,2.2" stroke="#9c86c8" stroke-width="0.4" fill="none"/>
<path d="M41.3,-2.4 L28.5,-4.7" stroke="#8a6fbf" stroke-width="0.5" fill="none"/>
<path d="M32.5,-4.0 L29.4,-2.4" stroke="#9c86c8" stroke-width="0.4" fill="none"/>
<path d="M34.9,-3.6 L30.9,-8.1" stroke="#9c86c8" stroke-width="0.4" fill="none"/>
<path d="M41.3,-2.4 L36.0,-9.0" stroke="#8a6fbf" stroke-width="0.5" fill="none"/>
<path d="M39.0,-5.2 L41.0,-8.8" stroke="#9c86c8" stroke-width="0.4" fill="none"/>
<path d="M37.2,-7.5 L33.2,-9.8" stroke="#9c86c8" stroke-width="0.4" fill="none"/>
<path d="M41.3,-2.4 L40.0,-12.3" stroke="#8a6fbf" stroke-width="0.5" fill="none"/>
<path d="M40.4,-9.3 L35.0,-11.1" stroke="#9c86c8" stroke-width="0.4" fill="none"/>
<path d="M40.2,-10.5 L36.7,-13.2" stroke="#9c86c8" stroke-width="0.4" fill="none"/>
<path d="M41.3,-2.4 L48.3,-10.4" stroke="#8a6fbf" stroke-width="0.5" fill="none"/>
<path d="M44.8,-6.4 L44.1,-10.4" stroke="#9c86c8" stroke-width="0.4" fill="none"/>
<path d="M44.2,-5.7 L50.3,-6.1" stroke="#9c86c8" stroke-width="0.4" fill="none"/>
<path d="M41.3,-2.4 L56.2,-6.7" stroke="#8a6fbf" stroke-width="0.5" fill="none"/>
<path d="M52.0,-5.5 L56.6,-7.8" stroke="#9c86c8" stroke-width="0.4" fill="none"/>
<path d="M51.0,-5.2 L55.7,-2.0" stroke="#9c86c8" stroke-width="0.4" fill="none"/>
<circle cx="41.3" cy="-2.4" r="2.7" fill="#9368d6"/><circle cx="41.3" cy="-2.4" r="1.2" fill="#4d2c92"/>
<path d="M55.7,6.6 L71.9,7.9" stroke="#8a6fbf" stroke-width="0.5" fill="none"/>
<path d="M68.2,7.6 L72.9,10.9" stroke="#9c86c8" stroke-width="0.4" fill="none"/>
<path d="M65.5,7.4 L69.1,11.7" stroke="#9c86c8" stroke-width="0.4" fill="none"/>
<path d="M55.7,6.6 L65.0,16.1" stroke="#8a6fbf" stroke-width="0.5" fill="none"/>
<path d="M63.0,14.1 L67.5,17.1" stroke="#9c86c8" stroke-width="0.4" fill="none"/>
<path d="M59.8,10.7 L63.9,12.8" stroke="#9c86c8" stroke-width="0.4" fill="none"/>
<path d="M55.7,6.6 L59.3,15.6" stroke="#8a6fbf" stroke-width="0.5" fill="none"/>
<path d="M58.3,13.1 L58.4,16.2" stroke="#9c86c8" stroke-width="0.4" fill="none"/>
<path d="M58.9,14.5 L58.6,17.9" stroke="#9c86c8" stroke-width="0.4" fill="none"/>
<path d="M55.7,6.6 L48.3,15.7" stroke="#8a6fbf" stroke-width="0.5" fill="none"/>
<path d="M50.8,12.7 L48.5,17.9" stroke="#9c86c8" stroke-width="0.4" fill="none"/>
<path d="M50.4,13.2 L45.2,15.7" stroke="#9c86c8" stroke-width="0.4" fill="none"/>
<path d="M55.7,6.6 L46.8,8.3" stroke="#8a6fbf" stroke-width="0.5" fill="none"/>
<path d="M49.4,7.8 L45.5,6.9" stroke="#9c86c8" stroke-width="0.4" fill="none"/>
<path d="M50.3,7.6 L49.1,10.5" stroke="#9c86c8" stroke-width="0.4" fill="none"/>
<path d="M55.7,6.6 L46.0,5.4" stroke="#8a6fbf" stroke-width="0.5" fill="none"/>
<path d="M50.6,6.0 L48.0,2.4" stroke="#9c86c8" stroke-width="0.4" fill="none"/>
<path d="M49.4,5.8 L47.4,1.9" stroke="#9c86c8" stroke-width="0.4" fill="none"/>
<path d="M55.7,6.6 L48.4,-3.1" stroke="#8a6fbf" stroke-width="0.5" fill="none"/>
<path d="M49.8,-1.2 L44.5,-1.6" stroke="#9c86c8" stroke-width="0.4" fill="none"/>
<path d="M50.0,-0.9 L43.3,-1.1" stroke="#9c86c8" stroke-width="0.4" fill="none"/>
<path d="M55.7,6.6 L52.5,-3.3" stroke="#8a6fbf" stroke-width="0.5" fill="none"/>
<path d="M54.2,1.8 L52.8,-2.4" stroke="#9c86c8" stroke-width="0.4" fill="none"/>
<path d="M54.3,2.3 L57.5,-0.4" stroke="#9c86c8" stroke-width="0.4" fill="none"/>
<path d="M55.7,6.6 L62.6,-2.9" stroke="#8a6fbf" stroke-width="0.5" fill="none"/>
<path d="M59.7,1.0 L60.0,-3.5" stroke="#9c86c8" stroke-width="0.4" fill="none"/>
<path d="M60.4,0.1 L60.7,-4.6" stroke="#9c86c8" stroke-width="0.4" fill="none"/>
<path d="M55.7,6.6 L63.7,3.0" stroke="#8a6fbf" stroke-width="0.5" fill="none"/>
<path d="M59.9,4.7 L60.1,1.8" stroke="#9c86c8" stroke-width="0.4" fill="none"/>
<path d="M61.9,3.8 L66.7,0.2" stroke="#9c86c8" stroke-width="0.4" fill="none"/>
<circle cx="55.7" cy="6.6" r="2.7" fill="#9368d6"/><circle cx="55.7" cy="6.6" r="1.2" fill="#4d2c92"/>
<path d="M-2,6.6 L7.0,8.8" stroke="#8a6fbf" stroke-width="0.5" fill="none"/>
<path d="M6.0,8.6 L7.0,11.1" stroke="#9c86c8" stroke-width="0.4" fill="none"/>
<path d="M5.7,8.5 L10.5,9.1" stroke="#9c86c8" stroke-width="0.4" fill="none"/>
<path d="M-2,6.6 L3.8,14.1" stroke="#8a6fbf" stroke-width="0.5" fill="none"/>
<path d="M1.8,11.5 L-0.5,15.9" stroke="#9c86c8" stroke-width="0.4" fill="none"/>
<path d="M1.6,11.3 L-1.4,15.7" stroke="#9c86c8" stroke-width="0.4" fill="none"/>
<path d="M-2,6.6 L-1.3,14.5" stroke="#8a6fbf" stroke-width="0.5" fill="none"/>
<path d="M-1.5,12.2 L-0.8,15.2" stroke="#9c86c8" stroke-width="0.4" fill="none"/>
<path d="M-1.7,10.0 L-1.7,12.8" stroke="#9c86c8" stroke-width="0.4" fill="none"/>
<path d="M-2,6.6 L-8.8,16.7" stroke="#8a6fbf" stroke-width="0.5" fill="none"/>
<path d="M-6.2,13.0 L-6.1,17.2" stroke="#9c86c8" stroke-width="0.4" fill="none"/>
<path d="M-6.1,12.8 L-10.7,14.6" stroke="#9c86c8" stroke-width="0.4" fill="none"/>
<path d="M-2,6.6 L-18.2,9.6" stroke="#8a6fbf" stroke-width="0.5" fill="none"/>
<path d="M-14.4,8.9 L-16.8,10.9" stroke="#9c86c8" stroke-width="0.4" fill="none"/>
<path d="M-15.7,9.2 L-20.8,7.5" stroke="#9c86c8" stroke-width="0.4" fill="none"/>
<path d="M-2,6.6 L-13.1,5.3" stroke="#8a6fbf" stroke-width="0.5" fill="none"/>
<path d="M-10.2,5.7 L-15.4,4.4" stroke="#9c86c8" stroke-width="0.4" fill="none"/>
<path d="M-9.9,5.7 L-12.8,3.7" stroke="#9c86c8" stroke-width="0.4" fill="none"/>
<path d="M-2,6.6 L-14.6,-2.4" stroke="#8a6fbf" stroke-width="0.5" fill="none"/>
<path d="M-12.8,-1.1 L-12.8,-3.6" stroke="#9c86c8" stroke-width="0.4" fill="none"/>
<path d="M-7.4,2.7 L-12.0,1.9" stroke="#9c86c8" stroke-width="0.4" fill="none"/>
<path d="M-2,6.6 L-2.6,-1.2" stroke="#8a6fbf" stroke-width="0.5" fill="none"/>
<path d="M-2.4,1.3 L-5.3,-0.1" stroke="#9c86c8" stroke-width="0.4" fill="none"/>
<path d="M-2.5,0.8 L-2.2,-3.6" stroke="#9c86c8" stroke-width="0.4" fill="none"/>
<path d="M-2,6.6 L3.7,-2.6" stroke="#8a6fbf" stroke-width="0.5" fill="none"/>
<path d="M0.9,2.0 L1.6,-2.8" stroke="#9c86c8" stroke-width="0.4" fill="none"/>
<path d="M2.7,-0.9 L1.1,-3.4" stroke="#9c86c8" stroke-width="0.4" fill="none"/>
<path d="M-2,6.6 L11.3,3.2" stroke="#8a6fbf" stroke-width="0.5" fill="none"/>
<path d="M8.5,4.0 L11.3,0.9" stroke="#9c86c8" stroke-width="0.4" fill="none"/>
<path d="M5.1,4.8 L9.2,6.1" stroke="#9c86c8" stroke-width="0.4" fill="none"/>
<circle cx="-2" cy="6.6" r="2.7" fill="#9368d6"/><circle cx="-2" cy="6.6" r="1.2" fill="#4d2c92"/>
<path d="M-41.6,19.6 L-25.3,23.1" stroke="#8a6fbf" stroke-width="0.5" fill="none"/>
<path d="M-32.4,21.6 L-26.8,23.3" stroke="#9c86c8" stroke-width="0.4" fill="none"/>
<path d="M-27.5,22.6 L-23.1,23.0" stroke="#9c86c8" stroke-width="0.4" fill="none"/>
<path d="M-41.6,19.6 L-29.0,27.5" stroke="#8a6fbf" stroke-width="0.5" fill="none"/>
<path d="M-36.1,23.1 L-31.0,22.0" stroke="#9c86c8" stroke-width="0.4" fill="none"/>
<path d="M-33.5,24.7 L-31.5,27.6" stroke="#9c86c8" stroke-width="0.4" fill="none"/>
<path d="M-41.6,19.6 L-41.6,27.3" stroke="#8a6fbf" stroke-width="0.5" fill="none"/>
<path d="M-41.6,23.5 L-42.7,26.0" stroke="#9c86c8" stroke-width="0.4" fill="none"/>
<path d="M-41.6,23.8 L-44.3,27.9" stroke="#9c86c8" stroke-width="0.4" fill="none"/>
<path d="M-41.6,19.6 L-45.8,27.0" stroke="#8a6fbf" stroke-width="0.5" fill="none"/>
<path d="M-44.0,23.9 L-47.6,26.0" stroke="#9c86c8" stroke-width="0.4" fill="none"/>
<path d="M-43.5,23.0 L-47.6,25.7" stroke="#9c86c8" stroke-width="0.4" fill="none"/>
<path d="M-41.6,19.6 L-57.6,23.0" stroke="#8a6fbf" stroke-width="0.5" fill="none"/>
<path d="M-55.3,22.5 L-61.0,24.4" stroke="#9c86c8" stroke-width="0.4" fill="none"/>
<path d="M-50.4,21.5 L-54.0,23.7" stroke="#9c86c8" stroke-width="0.4" fill="none"/>
<path d="M-41.6,19.6 L-56.6,14.9" stroke="#8a6fbf" stroke-width="0.5" fill="none"/>
<path d="M-49.5,17.1 L-53.9,16.9" stroke="#9c86c8" stroke-width="0.4" fill="none"/>
<path d="M-50.3,16.9 L-54.9,16.3" stroke="#9c86c8" stroke-width="0.4" fill="none"/>
<path d="M-41.6,19.6 L-51.9,12.6" stroke="#8a6fbf" stroke-width="0.5" fill="none"/>
<path d="M-49.8,14.0 L-54.3,10.4" stroke="#9c86c8" stroke-width="0.4" fill="none"/>
<path d="M-48.6,14.8 L-54.6,14.8" stroke="#9c86c8" stroke-width="0.4" fill="none"/>
<path d="M-41.6,19.6 L-41.2,10.6" stroke="#8a6fbf" stroke-width="0.5" fill="none"/>
<path d="M-41.4,15.9 L-41.0,11.8" stroke="#9c86c8" stroke-width="0.4" fill="none"/>
<path d="M-41.3,13.4 L-36.4,11.3" stroke="#9c86c8" stroke-width="0.4" fill="none"/>
<path d="M-41.6,19.6 L-36.0,13.5" stroke="#8a6fbf" stroke-width="0.5" fill="none"/>
<path d="M-37.8,15.5 L-34.6,14.7" stroke="#9c86c8" stroke-width="0.4" fill="none"/>
<path d="M-39.1,16.9 L-33.1,14.8" stroke="#9c86c8" stroke-width="0.4" fill="none"/>
<path d="M-41.6,19.6 L-29.9,13.3" stroke="#8a6fbf" stroke-width="0.5" fill="none"/>
<path d="M-36.1,16.6 L-30.5,16.4" stroke="#9c86c8" stroke-width="0.4" fill="none"/>
<path d="M-35.5,16.3 L-33.4,11.8" stroke="#9c86c8" stroke-width="0.4" fill="none"/>
<circle cx="-41.6" cy="19.6" r="2.7" fill="#9368d6"/><circle cx="-41.6" cy="19.6" r="1.2" fill="#4d2c92"/>
<path d="M-26.8,22.4 L-12.0,24.9" stroke="#8a6fbf" stroke-width="0.5" fill="none"/>
<path d="M-18.0,23.9 L-11.2,23.1" stroke="#9c86c8" stroke-width="0.4" fill="none"/>
<path d="M-15.9,24.2 L-10.9,25.0" stroke="#9c86c8" stroke-width="0.4" fill="none"/>
<path d="M-26.8,22.4 L-17.9,31.7" stroke="#8a6fbf" stroke-width="0.5" fill="none"/>
<path d="M-19.1,30.4 L-14.4,33.7" stroke="#9c86c8" stroke-width="0.4" fill="none"/>
<path d="M-20.3,29.2 L-21.0,34.2" stroke="#9c86c8" stroke-width="0.4" fill="none"/>
<path d="M-26.8,22.4 L-27.1,35.3" stroke="#8a6fbf" stroke-width="0.5" fill="none"/>
<path d="M-27.1,33.7 L-28.7,37.6" stroke="#9c86c8" stroke-width="0.4" fill="none"/>
<path d="M-27.0,32.1 L-30.0,35.0" stroke="#9c86c8" stroke-width="0.4" fill="none"/>
<path d="M-26.8,22.4 L-31.5,29.6" stroke="#8a6fbf" stroke-width="0.5" fill="none"/>
<path d="M-30.4,28.0 L-34.9,28.0" stroke="#9c86c8" stroke-width="0.4" fill="none"/>
<path d="M-29.1,25.9 L-28.3,29.6" stroke="#9c86c8" stroke-width="0.4" fill="none"/>
<path d="M-26.8,22.4 L-41.4,29.0" stroke="#8a6fbf" stroke-width="0.5" fill="none"/>
<path d="M-33.1,25.2 L-35.1,27.4" stroke="#9c86c8" stroke-width="0.4" fill="none"/>
<path d="M-37.4,27.2 L-41.1,26.9" stroke="#9c86c8" stroke-width="0.4" fill="none"/>
<path d="M-26.8,22.4 L-39.5,22.1" stroke="#8a6fbf" stroke-width="0.5" fill="none"/>
<path d="M-35.6,22.2 L-37.5,20.2" stroke="#9c86c8" stroke-width="0.4" fill="none"/>
<path d="M-32.6,22.3 L-35.6,24.2" stroke="#9c86c8" stroke-width="0.4" fill="none"/>
<path d="M-26.8,22.4 L-37.9,14.6" stroke="#8a6fbf" stroke-width="0.5" fill="none"/>
<path d="M-34.5,17.0 L-38.2,16.6" stroke="#9c86c8" stroke-width="0.4" fill="none"/>
<path d="M-32.8,18.2 L-38.8,18.2" stroke="#9c86c8" stroke-width="0.4" fill="none"/>
<path d="M-26.8,22.4 L-29.3,11.9" stroke="#8a6fbf" stroke-width="0.5" fill="none"/>
<path d="M-28.8,13.9 L-29.8,10.8" stroke="#9c86c8" stroke-width="0.4" fill="none"/>
<path d="M-28.9,13.5 L-26.0,10.9" stroke="#9c86c8" stroke-width="0.4" fill="none"/>
<path d="M-26.8,22.4 L-18.3,10.9" stroke="#8a6fbf" stroke-width="0.5" fill="none"/>
<path d="M-21.4,15.0 L-21.6,12.5" stroke="#9c86c8" stroke-width="0.4" fill="none"/>
<path d="M-19.4,12.4 L-15.2,11.0" stroke="#9c86c8" stroke-width="0.4" fill="none"/>
<path d="M-26.8,22.4 L-14.8,18.1" stroke="#8a6fbf" stroke-width="0.5" fill="none"/>
<path d="M-20.4,20.1 L-15.9,22.9" stroke="#9c86c8" stroke-width="0.4" fill="none"/>
<path d="M-20.6,20.2 L-20.2,16.3" stroke="#9c86c8" stroke-width="0.4" fill="none"/>
<circle cx="-26.8" cy="22.4" r="2.7" fill="#9368d6"/><circle cx="-26.8" cy="22.4" r="1.2" fill="#4d2c92"/>
<path d="M-6.2,23.7 L9.0,25.5" stroke="#8a6fbf" stroke-width="0.5" fill="none"/>
<path d="M5.3,25.1 L8.7,26.2" stroke="#9c86c8" stroke-width="0.4" fill="none"/>
<path d="M1.1,24.6 L5.0,23.8" stroke="#9c86c8" stroke-width="0.4" fill="none"/>
<path d="M-6.2,23.7 L1.2,32.4" stroke="#8a6fbf" stroke-width="0.5" fill="none"/>
<path d="M-0.9,30.0 L-2.8,32.8" stroke="#9c86c8" stroke-width="0.4" fill="none"/>
<path d="M-1.3,29.5 L4.7,30.5" stroke="#9c86c8" stroke-width="0.4" fill="none"/>
<path d="M-6.2,23.7 L-1.4,35.5" stroke="#8a6fbf" stroke-width="0.5" fill="none"/>
<path d="M-2.2,33.5 L-3.5,35.9" stroke="#9c86c8" stroke-width="0.4" fill="none"/>
<path d="M-3.6,30.0 L-4.2,32.7" stroke="#9c86c8" stroke-width="0.4" fill="none"/>
<path d="M-6.2,23.7 L-12.4,32.6" stroke="#8a6fbf" stroke-width="0.5" fill="none"/>
<path d="M-11.6,31.5 L-15.8,35.5" stroke="#9c86c8" stroke-width="0.4" fill="none"/>
<path d="M-9.6,28.6 L-13.9,30.2" stroke="#9c86c8" stroke-width="0.4" fill="none"/>
<path d="M-6.2,23.7 L-15.6,25.7" stroke="#8a6fbf" stroke-width="0.5" fill="none"/>
<path d="M-13.8,25.3 L-17.0,28.6" stroke="#9c86c8" stroke-width="0.4" fill="none"/>
<path d="M-12.4,25.0 L-15.8,29.3" stroke="#9c86c8" stroke-width="0.4" fill="none"/>
<path d="M-6.2,23.7 L-17.6,22.6" stroke="#8a6fbf" stroke-width="0.5" fill="none"/>
<path d="M-11.2,23.2 L-15.8,24.4" stroke="#9c86c8" stroke-width="0.4" fill="none"/>
<path d="M-14.8,22.8 L-20.5,23.7" stroke="#9c86c8" stroke-width="0.4" fill="none"/>
<path d="M-6.2,23.7 L-15.7,17.7" stroke="#8a6fbf" stroke-width="0.5" fill="none"/>
<path d="M-12.2,19.9 L-11.4,14.9" stroke="#9c86c8" stroke-width="0.4" fill="none"/>
<path d="M-13.1,19.3 L-17.3,20.7" stroke="#9c86c8" stroke-width="0.4" fill="none"/>
<path d="M-6.2,23.7 L-6.5,15.0" stroke="#8a6fbf" stroke-width="0.5" fill="none"/>
<path d="M-6.4,17.8 L-6.8,15.3" stroke="#9c86c8" stroke-width="0.4" fill="none"/>
<path d="M-6.5,15.9 L-4.2,13.4" stroke="#9c86c8" stroke-width="0.4" fill="none"/>
<path d="M-6.2,23.7 L-0.2,16.0" stroke="#8a6fbf" stroke-width="0.5" fill="none"/>
<path d="M-2.7,19.2 L-0.1,16.5" stroke="#9c86c8" stroke-width="0.4" fill="none"/>
<path d="M-2.8,19.3 L-1.0,15.0" stroke="#9c86c8" stroke-width="0.4" fill="none"/>
<path d="M-6.2,23.7 L3.0,19.4" stroke="#8a6fbf" stroke-width="0.5" fill="none"/>
<path d="M0.8,20.4 L5.0,16.2" stroke="#9c86c8" stroke-width="0.4" fill="none"/>
<path d="M0.0,20.8 L4.4,20.7" stroke="#9c86c8" stroke-width="0.4" fill="none"/>
<circle cx="-6.2" cy="23.7" r="2.7" fill="#9368d6"/><circle cx="-6.2" cy="23.7" r="1.2" fill="#4d2c92"/>
<path d="M16.2,21.3 L25.4,23.8" stroke="#8a6fbf" stroke-width="0.5" fill="none"/>
<path d="M20.5,22.5 L25.4,20.1" stroke="#9c86c8" stroke-width="0.4" fill="none"/>
<path d="M23.1,23.2 L27.4,21.9" stroke="#9c86c8" stroke-width="0.4" fill="none"/>
<path d="M16.2,21.3 L24.0,30.3" stroke="#8a6fbf" stroke-width="0.5" fill="none"/>
<path d="M19.7,25.3 L23.1,26.3" stroke="#9c86c8" stroke-width="0.4" fill="none"/>
<path d="M19.8,25.5 L22.2,27.3" stroke="#9c86c8" stroke-width="0.4" fill="none"/>
<path d="M16.2,21.3 L15.5,31.2" stroke="#8a6fbf" stroke-width="0.5" fill="none"/>
<path d="M15.8,27.8 L13.5,32.3" stroke="#9c86c8" stroke-width="0.4" fill="none"/>
<path d="M15.7,29.3 L16.5,32.7" stroke="#9c86c8" stroke-width="0.4" fill="none"/>
<path d="M16.2,21.3 L12.0,27.8" stroke="#8a6fbf" stroke-width="0.5" fill="none"/>
<path d="M13.7,25.2 L8.2,28.6" stroke="#9c86c8" stroke-width="0.4" fill="none"/>
<path d="M12.9,26.4 L8.8,29.4" stroke="#9c86c8" stroke-width="0.4" fill="none"/>
<path d="M16.2,21.3 L6.7,26.7" stroke="#8a6fbf" stroke-width="0.5" fill="none"/>
<path d="M10.8,24.4 L7.5,25.2" stroke="#9c86c8" stroke-width="0.4" fill="none"/>
<path d="M10.6,24.5 L5.5,27.3" stroke="#9c86c8" stroke-width="0.4" fill="none"/>
<path d="M16.2,21.3 L3.1,17.7" stroke="#8a6fbf" stroke-width="0.5" fill="none"/>
<path d="M9.9,19.6 L5.9,15.4" stroke="#9c86c8" stroke-width="0.4" fill="none"/>
<path d="M7.3,18.9 L2.3,18.9" stroke="#9c86c8" stroke-width="0.4" fill="none"/>
<path d="M16.2,21.3 L4.8,13.9" stroke="#8a6fbf" stroke-width="0.5" fill="none"/>
<path d="M6.0,14.7 L1.6,11.6" stroke="#9c86c8" stroke-width="0.4" fill="none"/>
<path d="M6.9,15.2 L0.1,15.1" stroke="#9c86c8" stroke-width="0.4" fill="none"/>
<path d="M16.2,21.3 L15.5,12.9" stroke="#8a6fbf" stroke-width="0.5" fill="none"/>
<path d="M15.9,17.6 L12.8,14.1" stroke="#9c86c8" stroke-width="0.4" fill="none"/>
<path d="M15.7,15.0 L12.8,10.1" stroke="#9c86c8" stroke-width="0.4" fill="none"/>
<path d="M16.2,21.3 L21.8,12.2" stroke="#8a6fbf" stroke-width="0.5" fill="none"/>
<path d="M18.8,17.1 L22.3,16.9" stroke="#9c86c8" stroke-width="0.4" fill="none"/>
<path d="M21.0,13.5 L23.7,10.0" stroke="#9c86c8" stroke-width="0.4" fill="none"/>
<path d="M16.2,21.3 L26.4,17.8" stroke="#8a6fbf" stroke-width="0.5" fill="none"/>
<path d="M24.9,18.3 L29.8,21.5" stroke="#9c86c8" stroke-width="0.4" fill="none"/>
<path d="M23.4,18.8 L25.4,14.1" stroke="#9c86c8" stroke-width="0.4" fill="none"/>
<circle cx="16.2" cy="21.3" r="2.7" fill="#9368d6"/><circle cx="16.2" cy="21.3" r="1.2" fill="#4d2c92"/>
<path d="M38.5,16.2 L54.6,17.7" stroke="#8a6fbf" stroke-width="0.5" fill="none"/>
<path d="M46.9,17.0 L52.9,18.4" stroke="#9c86c8" stroke-width="0.4" fill="none"/>
<path d="M46.4,16.9 L49.6,17.5" stroke="#9c86c8" stroke-width="0.4" fill="none"/>
<path d="M38.5,16.2 L46.9,21.2" stroke="#8a6fbf" stroke-width="0.5" fill="none"/>
<path d="M46.0,20.7 L45.8,25.2" stroke="#9c86c8" stroke-width="0.4" fill="none"/>
<path d="M43.1,19.0 L46.3,23.0" stroke="#9c86c8" stroke-width="0.4" fill="none"/>
<path d="M38.5,16.2 L40.7,27.0" stroke="#8a6fbf" stroke-width="0.5" fill="none"/>
<path d="M40.3,24.9 L43.8,25.9" stroke="#9c86c8" stroke-width="0.4" fill="none"/>
<path d="M39.9,23.1 L43.6,25.2" stroke="#9c86c8" stroke-width="0.4" fill="none"/>
<path d="M38.5,16.2 L33.1,23.3" stroke="#8a6fbf" stroke-width="0.5" fill="none"/>
<path d="M35.0,20.9 L34.8,25.1" stroke="#9c86c8" stroke-width="0.4" fill="none"/>
<path d="M35.5,20.2 L33.1,21.9" stroke="#9c86c8" stroke-width="0.4" fill="none"/>
<path d="M38.5,16.2 L29.0,19.1" stroke="#8a6fbf" stroke-width="0.5" fill="none"/>
<path d="M30.1,18.7 L25.3,19.3" stroke="#9c86c8" stroke-width="0.4" fill="none"/>
<path d="M32.7,17.9 L27.0,18.3" stroke="#9c86c8" stroke-width="0.4" fill="none"/>
<path d="M38.5,16.2 L24.2,12.6" stroke="#8a6fbf" stroke-width="0.5" fill="none"/>
<path d="M29.3,13.9 L28.2,8.9" stroke="#9c86c8" stroke-width="0.4" fill="none"/>
<path d="M26.6,13.2 L21.9,12.8" stroke="#9c86c8" stroke-width="0.4" fill="none"/>
<path d="M38.5,16.2 L27.8,6.4" stroke="#8a6fbf" stroke-width="0.5" fill="none"/>
<path d="M31.4,9.7 L28.5,6.7" stroke="#9c86c8" stroke-width="0.4" fill="none"/>
<path d="M29.4,7.8 L26.5,6.7" stroke="#9c86c8" stroke-width="0.4" fill="none"/>
<path d="M38.5,16.2 L38.1,3.2" stroke="#8a6fbf" stroke-width="0.5" fill="none"/>
<path d="M38.2,6.3 L39.3,1.6" stroke="#9c86c8" stroke-width="0.4" fill="none"/>
<path d="M38.3,9.0 L38.9,6.5" stroke="#9c86c8" stroke-width="0.4" fill="none"/>
<path d="M38.5,16.2 L43.0,6.8" stroke="#8a6fbf" stroke-width="0.5" fill="none"/>
<path d="M41.4,10.1 L41.9,7.5" stroke="#9c86c8" stroke-width="0.4" fill="none"/>
<path d="M41.8,9.2 L43.5,6.3" stroke="#9c86c8" stroke-width="0.4" fill="none"/>
<path d="M38.5,16.2 L49.1,11.5" stroke="#8a6fbf" stroke-width="0.5" fill="none"/>
<path d="M44.0,13.8 L44.8,8.5" stroke="#9c86c8" stroke-width="0.4" fill="none"/>
<path d="M47.9,12.0 L54.3,11.3" stroke="#9c86c8" stroke-width="0.4" fill="none"/>
<circle cx="38.5" cy="16.2" r="2.7" fill="#9368d6"/><circle cx="38.5" cy="16.2" r="1.2" fill="#4d2c92"/>
<path d="M-30,-15 L-14.8,-12.9" stroke="#8a6fbf" stroke-width="0.5" fill="none"/>
<path d="M-22.2,-13.9 L-18.2,-11.2" stroke="#9c86c8" stroke-width="0.4" fill="none"/>
<path d="M-17.0,-13.2 L-12.4,-16.5" stroke="#9c86c8" stroke-width="0.4" fill="none"/>
<path d="M-30,-15 L-19.6,-8.3" stroke="#8a6fbf" stroke-width="0.5" fill="none"/>
<path d="M-20.9,-9.2 L-17.3,-10.5" stroke="#9c86c8" stroke-width="0.4" fill="none"/>
<path d="M-24.3,-11.3 L-21.2,-10.6" stroke="#9c86c8" stroke-width="0.4" fill="none"/>
<path d="M-30,-15 L-30.7,-2.6" stroke="#8a6fbf" stroke-width="0.5" fill="none"/>
<path d="M-30.4,-7.6 L-29.0,-3.5" stroke="#9c86c8" stroke-width="0.4" fill="none"/>
<path d="M-30.3,-9.8 L-24.8,-6.8" stroke="#9c86c8" stroke-width="0.4" fill="none"/>
<path d="M-30,-15 L-35.5,-5.6" stroke="#8a6fbf" stroke-width="0.5" fill="none"/>
<path d="M-34.8,-6.8 L-39.6,-6.5" stroke="#9c86c8" stroke-width="0.4" fill="none"/>
<path d="M-32.8,-10.3 L-32.7,-4.9" stroke="#9c86c8" stroke-width="0.4" fill="none"/>
<path d="M-30,-15 L-40.2,-12.7" stroke="#8a6fbf" stroke-width="0.5" fill="none"/>
<path d="M-38.3,-13.2 L-42.4,-11.0" stroke="#9c86c8" stroke-width="0.4" fill="none"/>
<path d="M-34.9,-13.9 L-40.8,-16.9" stroke="#9c86c8" stroke-width="0.4" fill="none"/>
<path d="M-30,-15 L-44.0,-15.9" stroke="#8a6fbf" stroke-width="0.5" fill="none"/>
<path d="M-36.9,-15.4 L-38.9,-17.5" stroke="#9c86c8" stroke-width="0.4" fill="none"/>
<path d="M-36.3,-15.4 L-39.9,-17.3" stroke="#9c86c8" stroke-width="0.4" fill="none"/>
<path d="M-30,-15 L-38.8,-25.7" stroke="#8a6fbf" stroke-width="0.5" fill="none"/>
<path d="M-36.6,-23.1 L-42.3,-23.9" stroke="#9c86c8" stroke-width="0.4" fill="none"/>
<path d="M-37.6,-24.3 L-39.8,-26.3" stroke="#9c86c8" stroke-width="0.4" fill="none"/>
<path d="M-30,-15 L-32.6,-23.9" stroke="#8a6fbf" stroke-width="0.5" fill="none"/>
<path d="M-31.9,-21.7 L-34.8,-23.6" stroke="#9c86c8" stroke-width="0.4" fill="none"/>
<path d="M-31.3,-19.6 L-30.5,-24.5" stroke="#9c86c8" stroke-width="0.4" fill="none"/>
<path d="M-30,-15 L-23.6,-25.2" stroke="#8a6fbf" stroke-width="0.5" fill="none"/>
<path d="M-24.6,-23.6 L-22.2,-26.1" stroke="#9c86c8" stroke-width="0.4" fill="none"/>
<path d="M-26.5,-20.6 L-20.9,-21.4" stroke="#9c86c8" stroke-width="0.4" fill="none"/>
<path d="M-30,-15 L-17.7,-20.6" stroke="#8a6fbf" stroke-width="0.5" fill="none"/>
<path d="M-24.5,-17.5 L-20.5,-15.5" stroke="#9c86c8" stroke-width="0.4" fill="none"/>
<path d="M-21.9,-18.7 L-19.0,-19.8" stroke="#9c86c8" stroke-width="0.4" fill="none"/>
<circle cx="-30" cy="-15" r="2.7" fill="#9368d6"/><circle cx="-30" cy="-15" r="1.2" fill="#4d2c92"/>
<path d="M10,-17 L21.0,-14.9" stroke="#8a6fbf" stroke-width="0.5" fill="none"/>
<path d="M15.8,-15.9 L17.8,-13.8" stroke="#9c86c8" stroke-width="0.4" fill="none"/>
<path d="M15.9,-15.8 L18.7,-13.5" stroke="#9c86c8" stroke-width="0.4" fill="none"/>
<path d="M10,-17 L19.9,-9.8" stroke="#8a6fbf" stroke-width="0.5" fill="none"/>
<path d="M14.9,-13.4 L14.6,-7.9" stroke="#9c86c8" stroke-width="0.4" fill="none"/>
<path d="M14.1,-14.0 L18.9,-11.1" stroke="#9c86c8" stroke-width="0.4" fill="none"/>
<path d="M10,-17 L12.6,-4.0" stroke="#8a6fbf" stroke-width="0.5" fill="none"/>
<path d="M11.7,-8.6 L15.7,-5.9" stroke="#9c86c8" stroke-width="0.4" fill="none"/>
<path d="M11.9,-7.6 L14.4,-3.6" stroke="#9c86c8" stroke-width="0.4" fill="none"/>
<path d="M10,-17 L2.3,-8.5" stroke="#8a6fbf" stroke-width="0.5" fill="none"/>
<path d="M5.0,-11.4 L-0.7,-10.6" stroke="#9c86c8" stroke-width="0.4" fill="none"/>
<path d="M4.9,-11.4 L1.2,-11.5" stroke="#9c86c8" stroke-width="0.4" fill="none"/>
<path d="M10,-17 L0.2,-14.4" stroke="#8a6fbf" stroke-width="0.5" fill="none"/>
<path d="M3.1,-15.2 L0.1,-12.2" stroke="#9c86c8" stroke-width="0.4" fill="none"/>
<path d="M2.3,-15.0 L-3.6,-16.5" stroke="#9c86c8" stroke-width="0.4" fill="none"/>
<path d="M10,-17 L-2.9,-18.0" stroke="#8a6fbf" stroke-width="0.5" fill="none"/>
<path d="M3.4,-17.5 L-1.4,-18.6" stroke="#9c86c8" stroke-width="0.4" fill="none"/>
<path d="M4.6,-17.4 L-1.0,-18.8" stroke="#9c86c8" stroke-width="0.4" fill="none"/>
<path d="M10,-17 L-0.5,-26.7" stroke="#8a6fbf" stroke-width="0.5" fill="none"/>
<path d="M4.9,-21.7 L1.8,-22.0" stroke="#9c86c8" stroke-width="0.4" fill="none"/>
<path d="M3.2,-23.3 L-0.4,-25.8" stroke="#9c86c8" stroke-width="0.4" fill="none"/>
<path d="M10,-17 L6.8,-29.0" stroke="#8a6fbf" stroke-width="0.5" fill="none"/>
<path d="M8.6,-22.3 L12.0,-25.5" stroke="#9c86c8" stroke-width="0.4" fill="none"/>
<path d="M7.9,-25.1 L9.5,-28.0" stroke="#9c86c8" stroke-width="0.4" fill="none"/>
<path d="M10,-17 L14.2,-25.6" stroke="#8a6fbf" stroke-width="0.5" fill="none"/>
<path d="M11.8,-20.6 L11.6,-25.0" stroke="#9c86c8" stroke-width="0.4" fill="none"/>
<path d="M12.8,-22.7 L12.0,-26.9" stroke="#9c86c8" stroke-width="0.4" fill="none"/>
<path d="M10,-17 L22.9,-24.0" stroke="#8a6fbf" stroke-width="0.5" fill="none"/>
<path d="M16.3,-20.4 L17.8,-23.0" stroke="#9c86c8" stroke-width="0.4" fill="none"/>
<path d="M19.6,-22.2 L25.7,-21.5" stroke="#9c86c8" stroke-width="0.4" fill="none"/>
<circle cx="10" cy="-17" r="2.7" fill="#9368d6"/><circle cx="10" cy="-17" r="1.2" fill="#4d2c92"/>
<path d="M35,-14 L47.3,-13.8" stroke="#8a6fbf" stroke-width="0.5" fill="none"/>
<path d="M42.2,-13.9 L47.8,-17.0" stroke="#9c86c8" stroke-width="0.4" fill="none"/>
<path d="M40.2,-13.9 L46.2,-13.9" stroke="#9c86c8" stroke-width="0.4" fill="none"/>
<path d="M35,-14 L40.3,-7.1" stroke="#8a6fbf" stroke-width="0.5" fill="none"/>
<path d="M38.3,-9.6 L38.4,-7.1" stroke="#9c86c8" stroke-width="0.4" fill="none"/>
<path d="M37.8,-10.4 L36.7,-7.7" stroke="#9c86c8" stroke-width="0.4" fill="none"/>
<path d="M35,-14 L36.8,-5.0" stroke="#8a6fbf" stroke-width="0.5" fill="none"/>
<path d="M36.1,-8.5 L38.9,-7.3" stroke="#9c86c8" stroke-width="0.4" fill="none"/>
<path d="M36.6,-5.9 L34.2,-1.6" stroke="#9c86c8" stroke-width="0.4" fill="none"/>
<path d="M35,-14 L30.6,-5.9" stroke="#8a6fbf" stroke-width="0.5" fill="none"/>
<path d="M32.1,-8.5 L32.8,-4.7" stroke="#9c86c8" stroke-width="0.4" fill="none"/>
<path d="M31.2,-7.0 L30.8,-3.5" stroke="#9c86c8" stroke-width="0.4" fill="none"/>
<path d="M35,-14 L21.5,-11.4" stroke="#8a6fbf" stroke-width="0.5" fill="none"/>
<path d="M29.3,-12.9 L24.3,-11.0" stroke="#9c86c8" stroke-width="0.4" fill="none"/>
<path d="M29.2,-12.9 L24.4,-10.3" stroke="#9c86c8" stroke-width="0.4" fill="none"/>
<path d="M35,-14 L22.1,-17.7" stroke="#8a6fbf" stroke-width="0.5" fill="none"/>
<path d="M24.1,-17.1 L19.7,-18.1" stroke="#9c86c8" stroke-width="0.4" fill="none"/>
<path d="M24.4,-17.1 L18.3,-17.5" stroke="#9c86c8" stroke-width="0.4" fill="none"/>
<path d="M35,-14 L26.1,-20.2" stroke="#8a6fbf" stroke-width="0.5" fill="none"/>
<path d="M30.6,-17.0 L28.1,-19.2" stroke="#9c86c8" stroke-width="0.4" fill="none"/>
<path d="M30.5,-17.1 L25.7,-17.4" stroke="#9c86c8" stroke-width="0.4" fill="none"/>
<path d="M35,-14 L32.6,-23.9" stroke="#8a6fbf" stroke-width="0.5" fill="none"/>
<path d="M32.9,-22.9 L34.2,-27.9" stroke="#9c86c8" stroke-width="0.4" fill="none"/>
<path d="M33.8,-19.0 L32.4,-21.3" stroke="#9c86c8" stroke-width="0.4" fill="none"/>
<path d="M35,-14 L41.6,-21.9" stroke="#8a6fbf" stroke-width="0.5" fill="none"/>
<path d="M38.6,-18.2 L36.9,-20.9" stroke="#9c86c8" stroke-width="0.4" fill="none"/>
<path d="M38.5,-18.2 L40.8,-23.2" stroke="#9c86c8" stroke-width="0.4" fill="none"/>
<path d="M35,-14 L45.5,-17.0" stroke="#8a6fbf" stroke-width="0.5" fill="none"/>
<path d="M41.1,-15.7 L44.1,-20.6" stroke="#9c86c8" stroke-width="0.4" fill="none"/>
<path d="M41.1,-15.7 L46.8,-14.6" stroke="#9c86c8" stroke-width="0.4" fill="none"/>
<circle cx="35" cy="-14" r="2.7" fill="#9368d6"/><circle cx="35" cy="-14" r="1.2" fill="#4d2c92"/>
<path d="M62,-4 L70.6,-1.4" stroke="#8a6fbf" stroke-width="0.5" fill="none"/>
<path d="M66.8,-2.5 L70.1,-2.3" stroke="#9c86c8" stroke-width="0.4" fill="none"/>
<path d="M69.2,-1.8 L75.3,-1.9" stroke="#9c86c8" stroke-width="0.4" fill="none"/>
<path d="M62,-4 L68.3,1.6" stroke="#8a6fbf" stroke-width="0.5" fill="none"/>
<path d="M65.8,-0.7 L68.8,-0.0" stroke="#9c86c8" stroke-width="0.4" fill="none"/>
<path d="M65.0,-1.3 L66.6,0.8" stroke="#9c86c8" stroke-width="0.4" fill="none"/>
<path d="M62,-4 L64.3,5.7" stroke="#8a6fbf" stroke-width="0.5" fill="none"/>
<path d="M63.6,2.5 L68.4,5.1" stroke="#9c86c8" stroke-width="0.4" fill="none"/>
<path d="M63.2,1.2 L61.5,5.5" stroke="#9c86c8" stroke-width="0.4" fill="none"/>
<path d="M62,-4 L58.1,3.9" stroke="#8a6fbf" stroke-width="0.5" fill="none"/>
<path d="M59.9,0.3 L56.5,2.7" stroke="#9c86c8" stroke-width="0.4" fill="none"/>
<path d="M59.7,0.7 L56.1,1.9" stroke="#9c86c8" stroke-width="0.4" fill="none"/>
<path d="M62,-4 L51.7,0.6" stroke="#8a6fbf" stroke-width="0.5" fill="none"/>
<path d="M56.8,-1.7 L56.6,0.8" stroke="#9c86c8" stroke-width="0.4" fill="none"/>
<path d="M54.7,-0.7 L48.8,1.1" stroke="#9c86c8" stroke-width="0.4" fill="none"/>
<path d="M62,-4 L51.5,-7.5" stroke="#8a6fbf" stroke-width="0.5" fill="none"/>
<path d="M54.3,-6.5 L53.3,-9.5" stroke="#9c86c8" stroke-width="0.4" fill="none"/>
<path d="M54.2,-6.6 L49.2,-10.3" stroke="#9c86c8" stroke-width="0.4" fill="none"/>
<path d="M62,-4 L55.9,-11.2" stroke="#8a6fbf" stroke-width="0.5" fill="none"/>
<path d="M57.6,-9.2 L52.9,-9.4" stroke="#9c86c8" stroke-width="0.4" fill="none"/>
<path d="M58.4,-8.3 L53.8,-8.3" stroke="#9c86c8" stroke-width="0.4" fill="none"/>
<path d="M62,-4 L59.6,-14.2" stroke="#8a6fbf" stroke-width="0.5" fill="none"/>
<path d="M60.7,-9.5 L57.0,-11.7" stroke="#9c86c8" stroke-width="0.4" fill="none"/>
<path d="M60.5,-10.5 L56.0,-13.3" stroke="#9c86c8" stroke-width="0.4" fill="none"/>
<path d="M62,-4 L65.9,-11.1" stroke="#8a6fbf" stroke-width="0.5" fill="none"/>
<path d="M64.2,-8.1 L65.1,-10.9" stroke="#9c86c8" stroke-width="0.4" fill="none"/>
<path d="M64.7,-8.9 L68.6,-11.7" stroke="#9c86c8" stroke-width="0.4" fill="none"/>
<path d="M62,-4 L70.6,-6.5" stroke="#8a6fbf" stroke-width="0.5" fill="none"/>
<path d="M67.1,-5.5 L69.7,-7.1" stroke="#9c86c8" stroke-width="0.4" fill="none"/>
<path d="M67.2,-5.5 L68.4,-9.4" stroke="#9c86c8" stroke-width="0.4" fill="none"/>
<circle cx="62" cy="-4" r="2.7" fill="#9368d6"/><circle cx="62" cy="-4" r="1.2" fill="#4d2c92"/>
<path d="M-64,-3 L-51.6,-0.6" stroke="#8a6fbf" stroke-width="0.5" fill="none"/>
<path d="M-57.0,-1.7 L-54.1,-2.4" stroke="#9c86c8" stroke-width="0.4" fill="none"/>
<path d="M-56.9,-1.6 L-54.5,2.1" stroke="#9c86c8" stroke-width="0.4" fill="none"/>
<path d="M-64,-3 L-53.3,4.7" stroke="#8a6fbf" stroke-width="0.5" fill="none"/>
<path d="M-58.7,0.8 L-54.4,3.5" stroke="#9c86c8" stroke-width="0.4" fill="none"/>
<path d="M-54.6,3.7 L-49.8,5.5" stroke="#9c86c8" stroke-width="0.4" fill="none"/>
<path d="M-64,-3 L-65.0,9.1" stroke="#8a6fbf" stroke-width="0.5" fill="none"/>
<path d="M-64.7,5.6 L-66.2,9.2" stroke="#9c86c8" stroke-width="0.4" fill="none"/>
<path d="M-64.6,4.4 L-61.9,9.0" stroke="#9c86c8" stroke-width="0.4" fill="none"/>
<path d="M-64,-3 L-71.4,4.6" stroke="#8a6fbf" stroke-width="0.5" fill="none"/>
<path d="M-70.4,3.5 L-69.2,6.1" stroke="#9c86c8" stroke-width="0.4" fill="none"/>
<path d="M-68.9,2.0 L-69.9,5.4" stroke="#9c86c8" stroke-width="0.4" fill="none"/>
<path d="M-64,-3 L-73.9,-1.1" stroke="#8a6fbf" stroke-width="0.5" fill="none"/>
<path d="M-68.9,-2.0 L-72.8,1.3" stroke="#9c86c8" stroke-width="0.4" fill="none"/>
<path d="M-69.1,-2.0 L-70.3,2.0" stroke="#9c86c8" stroke-width="0.4" fill="none"/>
<path d="M-64,-3 L-74.8,-4.4" stroke="#8a6fbf" stroke-width="0.5" fill="none"/>
<path d="M-71.0,-3.9 L-75.6,-5.8" stroke="#9c86c8" stroke-width="0.4" fill="none"/>
<path d="M-71.7,-4.0 L-77.7,-5.4" stroke="#9c86c8" stroke-width="0.4" fill="none"/>
<path d="M-64,-3 L-70.1,-10.9" stroke="#8a6fbf" stroke-width="0.5" fill="none"/>
<path d="M-67.5,-7.5 L-66.3,-10.8" stroke="#9c86c8" stroke-width="0.4" fill="none"/>
<path d="M-68.7,-9.0 L-69.4,-13.6" stroke="#9c86c8" stroke-width="0.4" fill="none"/>
<path d="M-64,-3 L-62.9,-15.4" stroke="#8a6fbf" stroke-width="0.5" fill="none"/>
<path d="M-63.5,-9.0 L-61.8,-12.7" stroke="#9c86c8" stroke-width="0.4" fill="none"/>
<path d="M-63.2,-11.5 L-64.1,-14.7" stroke="#9c86c8" stroke-width="0.4" fill="none"/>
<path d="M-64,-3 L-56.4,-11.7" stroke="#8a6fbf" stroke-width="0.5" fill="none"/>
<path d="M-60.0,-7.5 L-59.8,-10.9" stroke="#9c86c8" stroke-width="0.4" fill="none"/>
<path d="M-60.3,-7.2 L-58.2,-9.5" stroke="#9c86c8" stroke-width="0.4" fill="none"/>
<path d="M-64,-3 L-56.1,-7.3" stroke="#8a6fbf" stroke-width="0.5" fill="none"/>
<path d="M-60.5,-5.0 L-57.0,-5.4" stroke="#9c86c8" stroke-width="0.4" fill="none"/>
<path d="M-59.1,-5.7 L-54.2,-5.7" stroke="#9c86c8" stroke-width="0.4" fill="none"/>
<circle cx="-64" cy="-3" r="2.7" fill="#9368d6"/><circle cx="-64" cy="-3" r="1.2" fill="#4d2c92"/>
<path d="M-14,33 L1.9,33.8" stroke="#8a6fbf" stroke-width="0.5" fill="none"/>
<path d="M-0.7,33.7 L1.7,31.1" stroke="#9c86c8" stroke-width="0.4" fill="none"/>
<path d="M-3.6,33.5 L-0.2,35.9" stroke="#9c86c8" stroke-width="0.4" fill="none"/>
<path d="M-14,33 L-7.3,40.0" stroke="#8a6fbf" stroke-width="0.5" fill="none"/>
<path d="M-8.9,38.3 L-5.2,40.1" stroke="#9c86c8" stroke-width="0.4" fill="none"/>
<path d="M-8.8,38.4 L-9.4,43.5" stroke="#9c86c8" stroke-width="0.4" fill="none"/>
<path d="M-14,33 L-12.9,42.9" stroke="#8a6fbf" stroke-width="0.5" fill="none"/>
<path d="M-13.2,40.4 L-14.3,45.4" stroke="#9c86c8" stroke-width="0.4" fill="none"/>
<path d="M-13.1,40.9 L-9.6,43.1" stroke="#9c86c8" stroke-width="0.4" fill="none"/>
<path d="M-14,33 L-20.0,40.3" stroke="#8a6fbf" stroke-width="0.5" fill="none"/>
<path d="M-16.9,36.6 L-14.4,40.3" stroke="#9c86c8" stroke-width="0.4" fill="none"/>
<path d="M-19.2,39.3 L-22.7,39.2" stroke="#9c86c8" stroke-width="0.4" fill="none"/>
<path d="M-14,33 L-25.6,36.4" stroke="#8a6fbf" stroke-width="0.5" fill="none"/>
<path d="M-22.3,35.4 L-27.9,38.4" stroke="#9c86c8" stroke-width="0.4" fill="none"/>
<path d="M-24.4,36.1 L-25.7,40.6" stroke="#9c86c8" stroke-width="0.4" fill="none"/>
<path d="M-14,33 L-23.3,32.6" stroke="#8a6fbf" stroke-width="0.5" fill="none"/>
<path d="M-19.1,32.8 L-25.0,29.9" stroke="#9c86c8" stroke-width="0.4" fill="none"/>
<path d="M-18.3,32.8 L-21.2,33.6" stroke="#9c86c8" stroke-width="0.4" fill="none"/>
<path d="M-14,33 L-22.5,25.3" stroke="#8a6fbf" stroke-width="0.5" fill="none"/>
<path d="M-19.0,28.5 L-24.7,26.4" stroke="#9c86c8" stroke-width="0.4" fill="none"/>
<path d="M-21.0,26.7 L-25.3,25.4" stroke="#9c86c8" stroke-width="0.4" fill="none"/>
<path d="M-14,33 L-15.0,20.9" stroke="#8a6fbf" stroke-width="0.5" fill="none"/>
<path d="M-14.9,22.3 L-16.7,17.9" stroke="#9c86c8" stroke-width="0.4" fill="none"/>
<path d="M-14.7,24.9 L-12.7,22.5" stroke="#9c86c8" stroke-width="0.4" fill="none"/>
<path d="M-14,33 L-10.3,25.7" stroke="#8a6fbf" stroke-width="0.5" fill="none"/>
<path d="M-10.8,26.7 L-11.6,22.8" stroke="#9c86c8" stroke-width="0.4" fill="none"/>
<path d="M-12.3,29.6 L-12.3,27.2" stroke="#9c86c8" stroke-width="0.4" fill="none"/>
<path d="M-14,33 L-4.7,29.8" stroke="#8a6fbf" stroke-width="0.5" fill="none"/>
<path d="M-7.3,30.7 L-4.9,28.3" stroke="#9c86c8" stroke-width="0.4" fill="none"/>
<path d="M-8.0,31.0 L-4.9,28.9" stroke="#9c86c8" stroke-width="0.4" fill="none"/>
<circle cx="-14" cy="33" r="2.7" fill="#9368d6"/><circle cx="-14" cy="33" r="1.2" fill="#4d2c92"/>
<path d="M28,31 L37.5,31.2" stroke="#8a6fbf" stroke-width="0.5" fill="none"/>
<path d="M36.1,31.1 L39.1,30.1" stroke="#9c86c8" stroke-width="0.4" fill="none"/>
<path d="M32.7,31.1 L39.7,31.0" stroke="#9c86c8" stroke-width="0.4" fill="none"/>
<path d="M28,31 L40.1,39.3" stroke="#8a6fbf" stroke-width="0.5" fill="none"/>
<path d="M35.8,36.3 L41.2,38.8" stroke="#9c86c8" stroke-width="0.4" fill="none"/>
<path d="M35.2,36.0 L40.3,34.9" stroke="#9c86c8" stroke-width="0.4" fill="none"/>
<path d="M28,31 L28.7,42.2" stroke="#8a6fbf" stroke-width="0.5" fill="none"/>
<path d="M28.4,37.0 L23.3,40.2" stroke="#9c86c8" stroke-width="0.4" fill="none"/>
<path d="M28.6,41.0 L29.8,46.0" stroke="#9c86c8" stroke-width="0.4" fill="none"/>
<path d="M28,31 L22.1,37.9" stroke="#8a6fbf" stroke-width="0.5" fill="none"/>
<path d="M25.6,33.8 L26.0,36.6" stroke="#9c86c8" stroke-width="0.4" fill="none"/>
<path d="M25.4,34.0 L23.7,38.6" stroke="#9c86c8" stroke-width="0.4" fill="none"/>
<path d="M28,31 L16.5,36.1" stroke="#8a6fbf" stroke-width="0.5" fill="none"/>
<path d="M23.3,33.1 L20.5,38.0" stroke="#9c86c8" stroke-width="0.4" fill="none"/>
<path d="M23.3,33.1 L17.7,35.2" stroke="#9c86c8" stroke-width="0.4" fill="none"/>
<path d="M28,31 L13.9,27.3" stroke="#8a6fbf" stroke-width="0.5" fill="none"/>
<path d="M19.5,28.8 L16.0,24.6" stroke="#9c86c8" stroke-width="0.4" fill="none"/>
<path d="M16.9,28.1 L16.3,25.4" stroke="#9c86c8" stroke-width="0.4" fill="none"/>
<path d="M28,31 L21.5,22.7" stroke="#8a6fbf" stroke-width="0.5" fill="none"/>
<path d="M23.1,24.8 L17.1,22.4" stroke="#9c86c8" stroke-width="0.4" fill="none"/>
<path d="M25.3,27.6 L23.8,24.7" stroke="#9c86c8" stroke-width="0.4" fill="none"/>
<path d="M28,31 L26.1,21.6" stroke="#8a6fbf" stroke-width="0.5" fill="none"/>
<path d="M26.6,24.1 L28.9,21.0" stroke="#9c86c8" stroke-width="0.4" fill="none"/>
<path d="M26.6,24.2 L24.7,21.3" stroke="#9c86c8" stroke-width="0.4" fill="none"/>
<path d="M28,31 L35.2,23.8" stroke="#8a6fbf" stroke-width="0.5" fill="none"/>
<path d="M31.2,27.8 L33.1,23.2" stroke="#9c86c8" stroke-width="0.4" fill="none"/>
<path d="M31.7,27.3 L36.5,25.9" stroke="#9c86c8" stroke-width="0.4" fill="none"/>
<path d="M28,31 L37.8,28.1" stroke="#8a6fbf" stroke-width="0.5" fill="none"/>
<path d="M32.4,29.7 L34.3,26.5" stroke="#9c86c8" stroke-width="0.4" fill="none"/>
<path d="M34.0,29.2 L34.7,25.2" stroke="#9c86c8" stroke-width="0.4" fill="none"/>
<circle cx="28" cy="31" r="2.7" fill="#9368d6"/><circle cx="28" cy="31" r="1.2" fill="#4d2c92"/>
</g></g>
</defs>
<text x="1.5" y="32.5" font-size="32" text-anchor="start" fill="#000" >A</text>
<use href="#pip" transform="translate(81.5,116.5) rotate(-45) scale(1.0)"/>
<text x="114.0" y="60.6" font-size="17.5" text-anchor="middle" fill="#000" textLength="48.6" lengthAdjust="spacingAndGlyphs" >Saline</text>
<text x="114.0" y="81.3" font-size="17.5" text-anchor="middle" fill="#000" >or</text>
<text x="91.5" y="102.3" font-size="17.5">MPP<tspan font-size="11" dy="-6.5">+</tspan></text>
<text x="206.0" y="89.7" font-size="17.5" text-anchor="middle" fill="#000" textLength="39.8" lengthAdjust="spacingAndGlyphs" >NCM</text>
<path d="M169.0,118.5 A49.5,49.5 0 0 1 248.1,115.3" fill="none" stroke="#1a1a1a" stroke-width="2.3"/>
<path d="M250.8,119.4 L241.8,114.6 L249.8,109.3 Z" fill="#1a1a1a"/>
<text x="310.8" y="60.1" font-size="17.5" text-anchor="middle" fill="#000" textLength="50.3" lengthAdjust="spacingAndGlyphs" >DMSO</text>
<text x="311.0" y="81.0" font-size="17.5" text-anchor="middle" fill="#000" >or</text>
<text x="310.5" y="102.0" font-size="17.5" text-anchor="middle" fill="#000" textLength="73.3" lengthAdjust="spacingAndGlyphs" >FPS-ZM1</text>
<use href="#pip" transform="translate(342,116.5) rotate(45) scale(-1,1) scale(1.0)"/>
<text x="430.0" y="89.7" font-size="17.5" text-anchor="middle" fill="#000" textLength="38.5" lengthAdjust="spacingAndGlyphs" >ACM</text>
<path d="M393.6,118.5 A49.6,49.6 0 0 1 472.7,115.3" fill="none" stroke="#1a1a1a" stroke-width="2.3"/>
<path d="M475.5,119.4 L466.5,114.6 L474.5,109.3 Z" fill="#1a1a1a"/>
<g transform="translate(118,165.6) scale(1.0,1.0)">
<path d="M-77.5,0 A77.5 45 0 0 1 77.5 0 L77.5 28 A77.5 39 0 0 1 -77.5 28 Z" fill="#f7d3d5" stroke="#707070" stroke-width="1.1"/><path d="M-76.0,29 A76.0 37.5 0 0 0 76.0 29" fill="none" stroke="#8a8080" stroke-width="0.7"/><path d="M-76.5,20 A76.5 40 0 0 0 76.5 20" fill="none" stroke="#f1c0c4" stroke-width="2.5"/><ellipse cx="0" cy="0" rx="77.5" ry="45" fill="#fbfcfc" stroke="#666" stroke-width="1.1"/><ellipse cx="0" cy="1" rx="74.5" ry="42" fill="#dde6e9" stroke="#7a7a7a" stroke-width="0.9"/><path d="M-74,6 A74 34 0 0 1 74 6 A74.5 42 0 1 1 -74,6 Z" fill="#f3bfc3" stroke="#e6a3a9" stroke-width="0.8"/><path d="M-72,7 A72 31.5 0 0 1 72 7 A72.5 38 0 1 1 -72,7 Z" fill="#f6d0d4"/>
<use href="#neur"/>
<path d="M-74.5,3 A74.5 42 0 0 0 74.5 3" fill="none" stroke="#ffffff" stroke-width="2.6"/><path d="M-76.0,4 A76.0 44 0 0 0 76.0 4" fill="none" stroke="#8a8a8a" stroke-width="0.8"/><path d="M-73.5,3 A73.5 40.5 0 0 0 73.5 3" fill="none" stroke="#9a9a9a" stroke-width="0.6"/>
</g>
<g transform="translate(312.7,166.3) scale(1.0,1.0)">
<path d="M-77.5,0 A77.5 45 0 0 1 77.5 0 L77.5 28 A77.5 39 0 0 1 -77.5 28 Z" fill="#f7d3d5" stroke="#707070" stroke-width="1.1"/><path d="M-76.0,29 A76.0 37.5 0 0 0 76.0 29" fill="none" stroke="#8a8080" stroke-width="0.7"/><path d="M-76.5,20 A76.5 40 0 0 0 76.5 20" fill="none" stroke="#f1c0c4" stroke-width="2.5"/><ellipse cx="0" cy="0" rx="77.5" ry="45" fill="#fbfcfc" stroke="#666" stroke-width="1.1"/><ellipse cx="0" cy="1" rx="74.5" ry="42" fill="#dde6e9" stroke="#7a7a7a" stroke-width="0.9"/><path d="M-74,6 A74 34 0 0 1 74 6 A74.5 42 0 1 1 -74,6 Z" fill="#f3bfc3" stroke="#e6a3a9" stroke-width="0.8"/><path d="M-72,7 A72 31.5 0 0 1 72 7 A72.5 38 0 1 1 -72,7 Z" fill="#f6d0d4"/>
<use href="#astro"/>
<path d="M-74.5,3 A74.5 42 0 0 0 74.5 3" fill="none" stroke="#ffffff" stroke-width="2.6"/><path d="M-76.0,4 A76.0 44 0 0 0 76.0 4" fill="none" stroke="#8a8a8a" stroke-width="0.8"/><path d="M-73.5,3 A73.5 40.5 0 0 0 73.5 3" fill="none" stroke="#9a9a9a" stroke-width="0.6"/>
</g>
<g transform="translate(507,168) scale(1.0,1.0)">
<path d="M-77.5,0 A77.5 45 0 0 1 77.5 0 L77.5 28 A77.5 39 0 0 1 -77.5 28 Z" fill="#f7d3d5" stroke="#707070" stroke-width="1.1"/><path d="M-76.0,29 A76.0 37.5 0 0 0 76.0 29" fill="none" stroke="#8a8080" stroke-width="0.7"/><path d="M-76.5,20 A76.5 40 0 0 0 76.5 20" fill="none" stroke="#f1c0c4" stroke-width="2.5"/><ellipse cx="0" cy="0" rx="77.5" ry="45" fill="#fbfcfc" stroke="#666" stroke-width="1.1"/><ellipse cx="0" cy="1" rx="74.5" ry="42" fill="#dde6e9" stroke="#7a7a7a" stroke-width="0.9"/><path d="M-74,6 A74 34 0 0 1 74 6 A74.5 42 0 1 1 -74,6 Z" fill="#f3bfc3" stroke="#e6a3a9" stroke-width="0.8"/><path d="M-72,7 A72 31.5 0 0 1 72 7 A72.5 38 0 1 1 -72,7 Z" fill="#f6d0d4"/>
<use href="#neur"/>
<path d="M-74.5,3 A74.5 42 0 0 0 74.5 3" fill="none" stroke="#ffffff" stroke-width="2.6"/><path d="M-76.0,4 A76.0 44 0 0 0 76.0 4" fill="none" stroke="#8a8a8a" stroke-width="0.8"/><path d="M-73.5,3 A73.5 40.5 0 0 0 73.5 3" fill="none" stroke="#9a9a9a" stroke-width="0.6"/>
</g>
<rect x="594.7" y="175.2" width="29.299999999999955" height="4" fill="#1a1a1a"/>
<path d="M622,169.7 L637.3,177.2 L622,184.7 Z" fill="#1a1a1a"/>
<polygon points="649.6,112.3 709.6,107.3 775.6,111.3 713.6,118.3" fill="#e4e2e2"/>
<polygon points="649.6,112.3 713.6,118.3 713.6,229.3 649.6,210.3" fill="#4b4b4b"/>
<polygon points="713.6,118.3 775.6,111.3 775.6,207.3 713.6,229.3" fill="#d3d1d1"/>
<polygon points="769.6,111.8 775.6,111.3 775.6,207.3 769.6,209.3" fill="#3a3a3a"/>
<polygon points="707.6,117.3 713.6,118.3 713.6,229.3 707.6,227.3" fill="#2f2f2f"/>
<polygon points="649.6,112.3 652.6,112.6 652.6,211.3 649.6,210.3" fill="#3a3a3a"/>
<line x1="678.2" y1="115.5" x2="678.2" y2="218.9" stroke="#2a2a2a" stroke-width="1.1"/>
<polygon points="663.6,177.3 694.6,179.3 694.6,208.3 663.6,205.3" fill="#2c2c2c"/>
<polygon points="666.6,181.3 692.6,183.3 692.6,191.3 666.6,189.3" fill="#505050"/>
<polygon points="641.6,200.3 659.6,192.3 693.6,191.3 693.6,201.3 671.6,210.3 641.6,204.3" fill="#3a3a3a"/>
<polygon points="643.6,200.3 661.6,193.3 691.6,192.3 671.6,206.3" fill="#cfdde0"/>
<text x="118.0" y="250.9" font-size="17.5" text-anchor="middle" fill="#000" textLength="110.2" lengthAdjust="spacingAndGlyphs" >Differentiated</text>
<text x="117.6" y="272.1" font-size="17.5" text-anchor="middle" fill="#000" textLength="71.6" lengthAdjust="spacingAndGlyphs" >SH-SY5Y</text>
<text x="312.5" y="250.9" font-size="17.5" text-anchor="middle" fill="#000" textLength="70.7" lengthAdjust="spacingAndGlyphs" >Midbrain</text>
<text x="312.5" y="272.1" font-size="17.5" text-anchor="middle" fill="#000" textLength="86.7" lengthAdjust="spacingAndGlyphs" >Astrocytes</text>
<text x="507.1" y="250.9" font-size="17.5" text-anchor="middle" fill="#000" textLength="111.0" lengthAdjust="spacingAndGlyphs" >Differentiated</text>
<text x="506.8" y="272.1" font-size="17.5" text-anchor="middle" fill="#000" textLength="72.2" lengthAdjust="spacingAndGlyphs" >SH-SY5Y</text>
<text x="709.0" y="250.9" font-size="17.5" text-anchor="middle" fill="#000" textLength="70.1" lengthAdjust="spacingAndGlyphs" >Measure</text>
<text x="709.4" y="272.1" font-size="17.5" text-anchor="middle" fill="#000" textLength="64.8" lengthAdjust="spacingAndGlyphs" >Viability</text>
<text x="1.5" y="338.0" font-size="32.5" text-anchor="start" fill="#000" >C</text>
<text x="107.4" y="395.8" font-size="17.5" text-anchor="middle" fill="#000" textLength="138.8" lengthAdjust="spacingAndGlyphs" >Saline or DAMPs</text>
<text x="107.3" y="417.5" font-size="17.5" text-anchor="middle" fill="#000" >+</text>
<text x="107.6" y="438.7" font-size="17.5" text-anchor="middle" fill="#000" textLength="150.5" lengthAdjust="spacingAndGlyphs" >DMSO or GSK 872</text>
<use href="#pip" transform="translate(185.4,459.6) rotate(12) scale(1.0)"/>
<text x="236.1" y="422.8" font-size="17.5" text-anchor="middle" fill="#000" textLength="39.3" lengthAdjust="spacingAndGlyphs" >ACM</text>
<path d="M202.5,452.2 A44.4,44.4 0 0 1 275.7,447.5" fill="none" stroke="#1a1a1a" stroke-width="2.3"/>
<path d="M278.7,451.5 L269.9,446.3 L278.1,441.3 Z" fill="#1a1a1a"/>
<g transform="translate(124,496.5) scale(1.026,1.0)">
<path d="M-77.5,0 A77.5 45 0 0 1 77.5 0 L77.5 28 A77.5 39 0 0 1 -77.5 28 Z" fill="#f7d3d5" stroke="#707070" stroke-width="1.1"/><path d="M-76.0,29 A76.0 37.5 0 0 0 76.0 29" fill="none" stroke="#8a8080" stroke-width="0.7"/><path d="M-76.5,20 A76.5 40 0 0 0 76.5 20" fill="none" stroke="#f1c0c4" stroke-width="2.5"/><ellipse cx="0" cy="0" rx="77.5" ry="45" fill="#fbfcfc" stroke="#666" stroke-width="1.1"/><ellipse cx="0" cy="1" rx="74.5" ry="42" fill="#dde6e9" stroke="#7a7a7a" stroke-width="0.9"/><path d="M-74,6 A74 34 0 0 1 74 6 A74.5 42 0 1 1 -74,6 Z" fill="#f3bfc3" stroke="#e6a3a9" stroke-width="0.8"/><path d="M-72,7 A72 31.5 0 0 1 72 7 A72.5 38 0 1 1 -72,7 Z" fill="#f6d0d4"/>
<use href="#astro"/>
<path d="M-74.5,3 A74.5 42 0 0 0 74.5 3" fill="none" stroke="#ffffff" stroke-width="2.6"/><path d="M-76.0,4 A76.0 44 0 0 0 76.0 4" fill="none" stroke="#8a8a8a" stroke-width="0.8"/><path d="M-73.5,3 A73.5 40.5 0 0 0 73.5 3" fill="none" stroke="#9a9a9a" stroke-width="0.6"/>
</g>
<g transform="translate(323,499.5) scale(1.015,1.0)">
<path d="M-77.5,0 A77.5 45 0 0 1 77.5 0 L77.5 28 A77.5 39 0 0 1 -77.5 28 Z" fill="#f7d3d5" stroke="#707070" stroke-width="1.1"/><path d="M-76.0,29 A76.0 37.5 0 0 0 76.0 29" fill="none" stroke="#8a8080" stroke-width="0.7"/><path d="M-76.5,20 A76.5 40 0 0 0 76.5 20" fill="none" stroke="#f1c0c4" stroke-width="2.5"/><ellipse cx="0" cy="0" rx="77.5" ry="45" fill="#fbfcfc" stroke="#666" stroke-width="1.1"/><ellipse cx="0" cy="1" rx="74.5" ry="42" fill="#dde6e9" stroke="#7a7a7a" stroke-width="0.9"/><path d="M-74,6 A74 34 0 0 1 74 6 A74.5 42 0 1 1 -74,6 Z" fill="#f3bfc3" stroke="#e6a3a9" stroke-width="0.8"/><path d="M-72,7 A72 31.5 0 0 1 72 7 A72.5 38 0 1 1 -72,7 Z" fill="#f6d0d4"/>
<use href="#neur"/>
<path d="M-74.5,3 A74.5 42 0 0 0 74.5 3" fill="none" stroke="#ffffff" stroke-width="2.6"/><path d="M-76.0,4 A76.0 44 0 0 0 76.0 4" fill="none" stroke="#8a8a8a" stroke-width="0.8"/><path d="M-73.5,3 A73.5 40.5 0 0 0 73.5 3" fill="none" stroke="#9a9a9a" stroke-width="0.6"/>
</g>
<rect x="412" y="506.2" width="32" height="4" fill="#1a1a1a"/>
<path d="M442,500.7 L456.2,508.2 L442,515.7 Z" fill="#1a1a1a"/>
<polygon points="468.4,441.6 528.4,436.6 598.0,440.6 532.4,447.6" fill="#e4e2e2"/>
<polygon points="468.4,441.6 532.4,447.6 532.4,558.6 468.4,539.6" fill="#4b4b4b"/>
<polygon points="532.4,447.6 598.0,440.6 598.0,536.6 532.4,558.6" fill="#d3d1d1"/>
<polygon points="592.0,441.1 598.0,440.6 598.0,536.6 592.0,538.6" fill="#3a3a3a"/>
<polygon points="526.4,446.6 532.4,447.6 532.4,558.6 526.4,556.6" fill="#2f2f2f"/>
<polygon points="468.4,441.6 471.4,441.9 471.4,540.6 468.4,539.6" fill="#3a3a3a"/>
<line x1="483.0" y1="443.5" x2="483.0" y2="544.0" stroke="#2a2a2a" stroke-width="1.1"/>
<line x1="498.0" y1="444.9" x2="498.0" y2="548.5" stroke="#2a2a2a" stroke-width="1.1"/>
<line x1="514.3" y1="446.4" x2="514.3" y2="553.4" stroke="#2a2a2a" stroke-width="1.1"/>
<polygon points="482.4,506.6 513.4,508.6 513.4,537.6 482.4,534.6" fill="#2c2c2c"/>
<polygon points="485.4,510.6 511.4,512.6 511.4,520.6 485.4,518.6" fill="#505050"/>
<polygon points="460.4,529.6 478.4,521.6 512.4,520.6 512.4,530.6 490.4,539.6 460.4,533.6" fill="#3a3a3a"/>
<polygon points="462.4,529.6 480.4,522.6 510.4,521.6 490.4,535.6" fill="#cfdde0"/>
<text x="123.3" y="581.6" font-size="17.5" text-anchor="middle" fill="#000" textLength="70.7" lengthAdjust="spacingAndGlyphs" >Midbrain</text>
<text x="123.3" y="603.4" font-size="17.5" text-anchor="middle" fill="#000" textLength="86.7" lengthAdjust="spacingAndGlyphs" >Astrocytes</text>
<text x="322.2" y="581.6" font-size="17.5" text-anchor="middle" fill="#000" textLength="111.0" lengthAdjust="spacingAndGlyphs" >Differentiated</text>
<text x="322.2" y="603.4" font-size="17.5" text-anchor="middle" fill="#000" textLength="72.2" lengthAdjust="spacingAndGlyphs" >SH-SY5Y</text>
<text x="530.2" y="581.6" font-size="17.5" text-anchor="middle" fill="#000" textLength="71.0" lengthAdjust="spacingAndGlyphs" >Measure</text>
<text x="530.2" y="603.4" font-size="17.5" text-anchor="middle" fill="#000" textLength="65.0" lengthAdjust="spacingAndGlyphs" >Viability</text>
<text x="1.5" y="685.0" font-size="32" text-anchor="start" fill="#000" >F</text>
<use href="#pip" transform="translate(70,797.3) rotate(-14) scale(-1,1) scale(1.0)"/>
<text x="103.5" y="740.2" font-size="17.5" text-anchor="middle" fill="#000" textLength="43.5" lengthAdjust="spacingAndGlyphs" >CSFE</text>
<text x="103.8" y="762.5" font-size="17.5" text-anchor="middle" fill="#000" >+</text>
<text x="103.0" y="782.5" font-size="17.5" text-anchor="middle" fill="#000" textLength="40.5" lengthAdjust="spacingAndGlyphs" >Lysis</text>
<text x="210.4" y="738.4" font-size="17.5" text-anchor="middle" fill="#000" textLength="68.8" lengthAdjust="spacingAndGlyphs" >Labelled</text>
<text x="210.4" y="759.7" font-size="17.5" text-anchor="middle" fill="#000" textLength="52.7" lengthAdjust="spacingAndGlyphs" >Debris</text>
<path d="M173.0,789.2 A37.8,37.8 0 0 1 238.9,785.4" fill="none" stroke="#1a1a1a" stroke-width="2.3"/>
<path d="M241.2,789.8 L233.0,783.7 L241.7,779.6 Z" fill="#1a1a1a"/>
<text x="340.6" y="740.2" font-size="17.5" text-anchor="middle" fill="#000" textLength="139.9" lengthAdjust="spacingAndGlyphs" >Saline or DAMPs</text>
<text x="340.6" y="762.5" font-size="17.5" text-anchor="middle" fill="#000" >+</text>
<text x="340.9" y="782.5" font-size="17.5" text-anchor="middle" fill="#000" textLength="151.8" lengthAdjust="spacingAndGlyphs" >DMSO or GSK 872</text>
<use href="#pip" transform="translate(423.4,797.3) rotate(14) scale(1.0)"/>
<g transform="translate(123,841.5) scale(1.035,1.0)">
<path d="M-77.5,0 A77.5 45 0 0 1 77.5 0 L77.5 28 A77.5 39 0 0 1 -77.5 28 Z" fill="#f7d3d5" stroke="#707070" stroke-width="1.1"/><path d="M-76.0,29 A76.0 37.5 0 0 0 76.0 29" fill="none" stroke="#8a8080" stroke-width="0.7"/><path d="M-76.5,20 A76.5 40 0 0 0 76.5 20" fill="none" stroke="#f1c0c4" stroke-width="2.5"/><ellipse cx="0" cy="0" rx="77.5" ry="45" fill="#fbfcfc" stroke="#666" stroke-width="1.1"/><ellipse cx="0" cy="1" rx="74.5" ry="42" fill="#dde6e9" stroke="#7a7a7a" stroke-width="0.9"/><path d="M-74,6 A74 34 0 0 1 74 6 A74.5 42 0 1 1 -74,6 Z" fill="#f3bfc3" stroke="#e6a3a9" stroke-width="0.8"/><path d="M-72,7 A72 31.5 0 0 1 72 7 A72.5 38 0 1 1 -72,7 Z" fill="#f6d0d4"/>
<use href="#neur"/>
<path d="M-74.5,3 A74.5 42 0 0 0 74.5 3" fill="none" stroke="#ffffff" stroke-width="2.6"/><path d="M-76.0,4 A76.0 44 0 0 0 76.0 4" fill="none" stroke="#8a8a8a" stroke-width="0.8"/><path d="M-73.5,3 A73.5 40.5 0 0 0 73.5 3" fill="none" stroke="#9a9a9a" stroke-width="0.6"/>
</g>
<g transform="translate(329,841.5) scale(1.023,1.0)">
<path d="M-77.5,0 A77.5 45 0 0 1 77.5 0 L77.5 28 A77.5 39 0 0 1 -77.5 28 Z" fill="#f7d3d5" stroke="#707070" stroke-width="1.1"/><path d="M-76.0,29 A76.0 37.5 0 0 0 76.0 29" fill="none" stroke="#8a8080" stroke-width="0.7"/><path d="M-76.5,20 A76.5 40 0 0 0 76.5 20" fill="none" stroke="#f1c0c4" stroke-width="2.5"/><ellipse cx="0" cy="0" rx="77.5" ry="45" fill="#fbfcfc" stroke="#666" stroke-width="1.1"/><ellipse cx="0" cy="1" rx="74.5" ry="42" fill="#dde6e9" stroke="#7a7a7a" stroke-width="0.9"/><path d="M-74,6 A74 34 0 0 1 74 6 A74.5 42 0 1 1 -74,6 Z" fill="#f3bfc3" stroke="#e6a3a9" stroke-width="0.8"/><path d="M-72,7 A72 31.5 0 0 1 72 7 A72.5 38 0 1 1 -72,7 Z" fill="#f6d0d4"/>
<use href="#astro"/>
<path d="M-74.5,3 A74.5 42 0 0 0 74.5 3" fill="none" stroke="#ffffff" stroke-width="2.6"/><path d="M-76.0,4 A76.0 44 0 0 0 76.0 4" fill="none" stroke="#8a8a8a" stroke-width="0.8"/><path d="M-73.5,3 A73.5 40.5 0 0 0 73.5 3" fill="none" stroke="#9a9a9a" stroke-width="0.6"/>
</g>
<rect x="421" y="852" width="31" height="4" fill="#1a1a1a"/>
<path d="M450,846.5 L465.8,854 L450,861.5 Z" fill="#1a1a1a"/>
<polygon points="478.6,802.6 534.2,808.6 534.2,892.6 522.8,891.6 488.2,884.2 478.6,879.6" fill="#e6e6e8" />
<polygon points="534.2,808.6 609.9,800.6 609.9,871.6 580.2,880.6 534.2,880.6" fill="#dcdcdf" />
<polygon points="533.8,810.1 580.5,810.1 580.5,848.6 533.8,848.6" fill="#b4b4b8" />
<polygon points="538.2,812.6 576.2,812.6 576.2,846.6 538.2,846.6" fill="#c4c4c8" />
<line x1="540.2" y1="816.6" x2="574.2" y2="816.6" stroke="#a2a2a6" stroke-width="0.6"/>
<line x1="540.2" y1="820.6" x2="574.2" y2="820.6" stroke="#a2a2a6" stroke-width="0.6"/>
<line x1="540.2" y1="824.6" x2="574.2" y2="824.6" stroke="#a2a2a6" stroke-width="0.6"/>
<line x1="540.2" y1="828.6" x2="574.2" y2="828.6" stroke="#a2a2a6" stroke-width="0.6"/>
<line x1="540.2" y1="832.6" x2="574.2" y2="832.6" stroke="#a2a2a6" stroke-width="0.6"/>
<line x1="540.2" y1="836.6" x2="574.2" y2="836.6" stroke="#a2a2a6" stroke-width="0.6"/>
<line x1="540.2" y1="840.6" x2="574.2" y2="840.6" stroke="#a2a2a6" stroke-width="0.6"/>
<line x1="540.2" y1="844.6" x2="574.2" y2="844.6" stroke="#a2a2a6" stroke-width="0.6"/>
<polygon points="533.8,845.1 580.5,845.1 580.5,858.1 533.8,858.1" fill="#4d4845" />
<polygon points="524.0,853.6 534.2,853.1 534.2,858.1 580.5,858.1 580.5,850.6 605.0,842.6 605.0,880.6 567.0,907.6 524.0,898.9" fill="#eeeef0" />
<polygon points="526.2,871.6 575.2,870.6 580.2,864.6 604.2,860.6 604.2,864.6 578.2,877.6 526.2,877.6" fill="#5c5c60" />
<polygon points="530.2,860.6 574.2,859.6 575.2,869.6 528.2,870.6" fill="#9a9aa0" />
<rect x="526.7" y="877.6" width="8.5" height="10" fill="#c4c4c8" stroke="#9a9a9e" stroke-width="0.5"/>
<rect x="536.2" y="877.6" width="8.5" height="10" fill="#c4c4c8" stroke="#9a9a9e" stroke-width="0.5"/>
<rect x="545.7" y="877.6" width="8.5" height="10" fill="#c4c4c8" stroke="#9a9a9e" stroke-width="0.5"/>
<polygon points="580.5,850.6 605.0,842.6 605.0,848.6 580.5,856.6" fill="#cdcdd0" />
<ellipse cx="603.2" cy="853.6" rx="3.2" ry="6.5" fill="#8c8c90"/>
<path d="M478.59999999999997,792.6 Q478.59999999999997,788.4 483.2,787.6 L537.5,779.8000000000001 L610.5,783.5 L609.9,801.3000000000001 L537.5,809.9 L478.59999999999997,803.1 Z" fill="#d6d1cd"/>
<path d="M483.2,787.6 L537.5,779.8000000000001 L610.5,783.5 L556.2,789.6 Z" fill="#eeebe8"/>
<path d="M537.2,789.1 L558.2,789.6 L558.2,809.6 L537.2,809.9 Z" fill="#e6e2de"/>
<rect x="482.2" y="859.6" width="6" height="20" fill="#8f8f92"/>
<circle cx="485.2" cy="863.6" r="1.4" fill="#d05060"/>
<circle cx="485.2" cy="869.6" r="1.4" fill="#40b0a0"/>
<circle cx="485.2" cy="875.6" r="1.4" fill="#d05060"/>
<text x="123.0" y="925.5" font-size="17.5" text-anchor="middle" fill="#000" textLength="111.0" lengthAdjust="spacingAndGlyphs" >Differentiated</text>
<text x="123.0" y="948.0" font-size="17.5" text-anchor="middle" fill="#000" textLength="72.2" lengthAdjust="spacingAndGlyphs" >SH-SY5Y</text>
<text x="327.4" y="925.5" font-size="17.5" text-anchor="middle" fill="#000" textLength="70.7" lengthAdjust="spacingAndGlyphs" >Midbrain</text>
<text x="327.4" y="948.0" font-size="17.5" text-anchor="middle" fill="#000" textLength="86.7" lengthAdjust="spacingAndGlyphs" >Astrocytes</text>
<text x="543.0" y="929.0" font-size="17.5" text-anchor="middle" fill="#000" textLength="158.0" lengthAdjust="spacingAndGlyphs" >Measure Uptake of</text>
<text x="543.0" y="949.6" font-size="17.5" text-anchor="middle" fill="#000" textLength="128.0" lengthAdjust="spacingAndGlyphs" >Labelled Debris</text>
<text x="813.5" y="30.7" font-size="32" text-anchor="start" fill="#000" >B</text>
<text x="1199.0" y="19.0" font-size="23" text-anchor="middle" fill="#000" textLength="43.0" lengthAdjust="spacingAndGlyphs" >475</text>
<text x="645.5" y="337.3" font-size="32.5" text-anchor="start" fill="#000" >D</text>
<text x="938.0" y="338.0" font-size="32" text-anchor="start" fill="#000" >E</text>
<text x="657.5" y="686.7" font-size="33" text-anchor="start" fill="#000" >G</text>
<text x="0.0" y="1016.5" font-size="32.5" text-anchor="start" fill="#000" >H</text>
<text x="599.5" y="1035.0" font-size="28" text-anchor="start" fill="#000" stroke="#000" stroke-width="1">I</text>
<path d="M907.5,64.55000000000001 L907.5,248.8 L1182.5,248.8" fill="none" stroke="#000" stroke-width="2.2"/>
<line x1="899.5" y1="248.8" x2="907.5" y2="248.8" stroke="#000" stroke-width="2.2"/>
<text x="896.0" y="255.6" font-size="19.5" text-anchor="end" fill="#000" >0</text>
<line x1="899.5" y1="212.2" x2="907.5" y2="212.2" stroke="#000" stroke-width="2.2"/>
<text x="896.0" y="219.0" font-size="19.5" text-anchor="end" fill="#000" >25</text>
<line x1="899.5" y1="175.5" x2="907.5" y2="175.5" stroke="#000" stroke-width="2.2"/>
<text x="896.0" y="182.3" font-size="19.5" text-anchor="end" fill="#000" >50</text>
<line x1="899.5" y1="138.9" x2="907.5" y2="138.9" stroke="#000" stroke-width="2.2"/>
<text x="896.0" y="145.7" font-size="19.5" text-anchor="end" fill="#000" >75</text>
<line x1="899.5" y1="102.2" x2="907.5" y2="102.2" stroke="#000" stroke-width="2.2"/>
<text x="896.0" y="109.0" font-size="19.5" text-anchor="end" fill="#000" >100</text>
<line x1="899.5" y1="65.6" x2="907.5" y2="65.6" stroke="#000" stroke-width="2.2"/>
<text x="896.0" y="72.4" font-size="19.5" text-anchor="end" fill="#000" >125</text>
<path d="M927.4,248.8 L927.4,103.7 L961.3,103.7 L961.3,248.8" fill="none" stroke="#000" stroke-width="2.6"/>
<path d="M982.2,248.8 L982.2,111.0 L1016.2,111.0 L1016.2,248.8" fill="none" stroke="#f2230f" stroke-width="2.6"/>
<path d="M1073.9,248.8 L1073.9,175.5 L1108.3,175.5 L1108.3,248.8" fill="none" stroke="#000" stroke-width="2.6"/>
<path d="M1129,248.8 L1129,114.7 L1163.6,114.7 L1163.6,248.8" fill="none" stroke="#f2230f" stroke-width="2.6"/>
<circle cx="929.0" cy="106.7" r="3.9" fill="#000"/>
<circle cx="944.6" cy="99.7" r="3.9" fill="#000"/>
<circle cx="959.3" cy="99.7" r="3.9" fill="#000"/>
<circle cx="992.0" cy="105.1" r="3.9" fill="#f2230f"/>
<circle cx="992.0" cy="114.7" r="3.9" fill="#f2230f"/>
<circle cx="1006.8" cy="110.4" r="3.9" fill="#f2230f"/>
<circle cx="1083.5" cy="166.0" r="3.9" fill="#000"/>
<circle cx="1098.1" cy="171.1" r="3.9" fill="#000"/>
<circle cx="1090.9" cy="188.7" r="3.9" fill="#000"/>
<circle cx="1130.0" cy="113.9" r="3.9" fill="#f2230f"/>
<circle cx="1146.0" cy="111.9" r="3.9" fill="#f2230f"/>
<circle cx="1160.2" cy="113.9" r="3.9" fill="#f2230f"/>
<line x1="943" y1="85.3" x2="1091" y2="85.3" stroke="#000" stroke-width="2.2"/>
<line x1="1089.3" y1="70.3" x2="1148" y2="70.3" stroke="#000" stroke-width="2.2"/>
<use href="#star" transform="translate(1002.2,69.0) scale(1.0)"/>
<use href="#star" transform="translate(1017.0,69.0) scale(1.0)"/>
<use href="#star" transform="translate(1031.8,69.0) scale(1.0)"/>
<use href="#star" transform="translate(1103.7,54.0) scale(1.0)"/>
<use href="#star" transform="translate(1118.5,54.0) scale(1.0)"/>
<use href="#star" transform="translate(1133.3,54.0) scale(1.0)"/>
<text x="971.6" y="272.0" font-size="19.5" text-anchor="middle" fill="#000" textLength="106.4" lengthAdjust="spacingAndGlyphs" >Saline NCM</text>
<text x="1119.0" y="272.4" font-size="19.5" text-anchor="middle" fill="#000" textLength="102.1" lengthAdjust="spacingAndGlyphs" >MPP<tspan font-size="13" dy="-7">+</tspan><tspan dy="7"> NCM</tspan></text>
<text transform="translate(854,154.5) rotate(-90)" x="0" y="0" font-size="19.5" text-anchor="middle" textLength="179" lengthAdjust="spacingAndGlyphs">% SH-SY5Y Viability</text>
<circle cx="951.8" cy="21.7" r="3.9" fill="#000"/>
<text x="971.7" y="27.3" font-size="19.5" text-anchor="start" fill="#000" textLength="57.8" lengthAdjust="spacingAndGlyphs" >DMSO</text>
<circle cx="1058.5" cy="21.5" r="3.9" fill="#f2230f"/>
<text x="1081.0" y="27.3" font-size="19.5" text-anchor="start" fill="#000" textLength="82.0" lengthAdjust="spacingAndGlyphs" >FPS-ZM1</text>
<path d="M734.5,417.30000000000007 L734.5,600.1 L918.7,600.1" fill="none" stroke="#000" stroke-width="2.2"/>
<line x1="727" y1="600.1" x2="734.5" y2="600.1" stroke="#000" stroke-width="2.2"/>
<text x="725.0" y="606.9" font-size="19.5" text-anchor="end" fill="#000" >0</text>
<line x1="727" y1="569.8" x2="734.5" y2="569.8" stroke="#000" stroke-width="2.2"/>
<text x="725.0" y="576.6" font-size="19.5" text-anchor="end" fill="#000" >25</text>
<line x1="727" y1="539.5" x2="734.5" y2="539.5" stroke="#000" stroke-width="2.2"/>
<text x="725.0" y="546.3" font-size="19.5" text-anchor="end" fill="#000" >50</text>
<line x1="727" y1="509.2" x2="734.5" y2="509.2" stroke="#000" stroke-width="2.2"/>
<text x="725.0" y="516.0" font-size="19.5" text-anchor="end" fill="#000" >75</text>
<line x1="727" y1="478.9" x2="734.5" y2="478.9" stroke="#000" stroke-width="2.2"/>
<text x="725.0" y="485.7" font-size="19.5" text-anchor="end" fill="#000" >100</text>
<line x1="727" y1="448.6" x2="734.5" y2="448.6" stroke="#000" stroke-width="2.2"/>
<text x="725.0" y="455.4" font-size="19.5" text-anchor="end" fill="#000" >125</text>
<line x1="727" y1="418.3" x2="734.5" y2="418.3" stroke="#000" stroke-width="2.2"/>
<text x="725.0" y="425.1" font-size="19.5" text-anchor="end" fill="#000" >150</text>
<path d="M749.7,600.1 L749.7,478.9 L771.8,478.9 L771.8,600.1" fill="none" stroke="#000" stroke-width="2.6"/>
<path d="M786.6,600.1 L786.6,462.7 L808.2,462.7 L808.2,600.1" fill="none" stroke="#1535ee" stroke-width="2.6"/>
<path d="M846.7,600.1 L846.7,557.7 L869.6,557.7 L869.6,600.1" fill="none" stroke="#000" stroke-width="2.6"/>
<path d="M883.8,600.1 L883.8,454.1 L905.9,454.1 L905.9,600.1" fill="none" stroke="#1535ee" stroke-width="2.6"/>
<circle cx="760.3" cy="453.4" r="3.9" fill="#000"/>
<circle cx="760.3" cy="477.7" r="3.9" fill="#000"/>
<circle cx="760.3" cy="504.4" r="3.9" fill="#000"/>
<circle cx="787.3" cy="465.9" r="3.9" fill="#1535ee"/>
<circle cx="796.4" cy="456.1" r="3.9" fill="#1535ee"/>
<circle cx="805.7" cy="463.4" r="3.9" fill="#1535ee"/>
<circle cx="857.3" cy="537.8" r="3.9" fill="#000"/>
<circle cx="857.3" cy="550.0" r="3.9" fill="#000"/>
<circle cx="857.3" cy="585.3" r="3.9" fill="#000"/>
<circle cx="885.5" cy="455.3" r="3.9" fill="#1535ee"/>
<circle cx="894.1" cy="445.4" r="3.9" fill="#1535ee"/>
<circle cx="902.7" cy="454.7" r="3.9" fill="#1535ee"/>
<line x1="760.3" y1="432.6" x2="854.3" y2="432.6" stroke="#000" stroke-width="2.2"/>
<line x1="853" y1="414.9" x2="894.6" y2="414.9" stroke="#000" stroke-width="2.2"/>
<use href="#star" transform="translate(800.0,417.0) scale(1.0)"/>
<use href="#star" transform="translate(814.8,417.0) scale(1.0)"/>
<use href="#star" transform="translate(859.0,399.2) scale(1.0)"/>
<use href="#star" transform="translate(873.8,399.2) scale(1.0)"/>
<use href="#star" transform="translate(888.6,399.2) scale(1.0)"/>
<text x="778.5" y="618.7" font-size="19.5" text-anchor="middle" fill="#000" textLength="56.0" lengthAdjust="spacingAndGlyphs" >Saline</text>
<text x="875.0" y="618.7" font-size="19.5" text-anchor="middle" fill="#000" textLength="70.0" lengthAdjust="spacingAndGlyphs" >HMGB1</text>
<text transform="translate(684,504.7) rotate(-90)" x="0" y="0" font-size="19.5" text-anchor="middle" textLength="179" lengthAdjust="spacingAndGlyphs">% SH-SY5Y Viability</text>
<circle cx="711.7" cy="367.5" r="3.9" fill="#000"/>
<text x="733.3" y="373.2" font-size="19.5" text-anchor="start" fill="#000" textLength="57.7" lengthAdjust="spacingAndGlyphs" >DMSO</text>
<circle cx="809.4" cy="367.5" r="3.9" fill="#1535ee"/>
<text x="831.0" y="373.2" font-size="19.5" text-anchor="start" fill="#000" textLength="79.0" lengthAdjust="spacingAndGlyphs" >GSK 872</text>
<path d="M998.1,415.5 L998.1,600.1 L1182.2,600.1" fill="none" stroke="#000" stroke-width="2.2"/>
<line x1="990.7" y1="600.1" x2="998.1" y2="600.1" stroke="#000" stroke-width="2.2"/>
<text x="986.5" y="606.9" font-size="19.5" text-anchor="end" fill="#000" >0</text>
<line x1="990.7" y1="569.5" x2="998.1" y2="569.5" stroke="#000" stroke-width="2.2"/>
<text x="986.5" y="576.3" font-size="19.5" text-anchor="end" fill="#000" >25</text>
<line x1="990.7" y1="538.9" x2="998.1" y2="538.9" stroke="#000" stroke-width="2.2"/>
<text x="986.5" y="545.7" font-size="19.5" text-anchor="end" fill="#000" >50</text>
<line x1="990.7" y1="508.3" x2="998.1" y2="508.3" stroke="#000" stroke-width="2.2"/>
<text x="986.5" y="515.1" font-size="19.5" text-anchor="end" fill="#000" >75</text>
<line x1="990.7" y1="477.7" x2="998.1" y2="477.7" stroke="#000" stroke-width="2.2"/>
<text x="986.5" y="484.5" font-size="19.5" text-anchor="end" fill="#000" >100</text>
<line x1="990.7" y1="447.1" x2="998.1" y2="447.1" stroke="#000" stroke-width="2.2"/>
<text x="986.5" y="453.9" font-size="19.5" text-anchor="end" fill="#000" >125</text>
<line x1="990.7" y1="416.5" x2="998.1" y2="416.5" stroke="#000" stroke-width="2.2"/>
<text x="986.5" y="423.3" font-size="19.5" text-anchor="end" fill="#000" >150</text>
<path d="M1011.3,600.1 L1011.3,477.7 L1034.2,477.7 L1034.2,600.1" fill="none" stroke="#000" stroke-width="2.6"/>
<path d="M1047.7,600.1 L1047.7,480.6 L1070.3,480.6 L1070.3,600.1" fill="none" stroke="#cf36d6" stroke-width="2.6"/>
<path d="M1109.5,600.1 L1109.5,571.5 L1132.6,571.5 L1132.6,600.1" fill="none" stroke="#000" stroke-width="2.6"/>
<path d="M1146.4,600.1 L1146.4,472.8 L1169.2,472.8 L1169.2,600.1" fill="none" stroke="#cf36d6" stroke-width="2.6"/>
<circle cx="1022.6" cy="454.8" r="3.9" fill="#000"/>
<circle cx="1022.6" cy="466.7" r="3.9" fill="#000"/>
<circle cx="1022.6" cy="510.1" r="3.9" fill="#000"/>
<circle cx="1050.9" cy="474.5" r="3.9" fill="#cf36d6"/>
<circle cx="1050.9" cy="484.3" r="3.9" fill="#cf36d6"/>
<circle cx="1067.8" cy="480.1" r="3.9" fill="#cf36d6"/>
<circle cx="1120.8" cy="555.4" r="3.9" fill="#000"/>
<circle cx="1120.8" cy="570.1" r="3.9" fill="#000"/>
<circle cx="1120.8" cy="585.3" r="3.9" fill="#000"/>
<circle cx="1148.8" cy="467.1" r="3.9" fill="#cf36d6"/>
<circle cx="1157.7" cy="478.1" r="3.9" fill="#cf36d6"/>
<circle cx="1166.3" cy="469.1" r="3.9" fill="#cf36d6"/>
<line x1="1022.6" y1="438.7" x2="1117.6" y2="438.7" stroke="#000" stroke-width="2.2"/>
<line x1="1116.4" y1="422" x2="1158.2" y2="422" stroke="#000" stroke-width="2.2"/>
<use href="#star" transform="translate(1055.2,423.5) scale(1.0)"/>
<use href="#star" transform="translate(1070.0,423.5) scale(1.0)"/>
<use href="#star" transform="translate(1084.8,423.5) scale(1.0)"/>
<use href="#star" transform="translate(1122.4,406.6) scale(1.0)"/>
<use href="#star" transform="translate(1137.2,406.6) scale(1.0)"/>
<use href="#star" transform="translate(1152.0,406.6) scale(1.0)"/>
<text x="1040.9" y="618.7" font-size="19.5" text-anchor="middle" fill="#000" textLength="55.2" lengthAdjust="spacingAndGlyphs" >Saline</text>
<text x="1139.4" y="618.7" font-size="19.5" text-anchor="middle" fill="#000" textLength="58.2" lengthAdjust="spacingAndGlyphs" >S100β</text>
<circle cx="974.0" cy="366.3" r="3.9" fill="#000"/>
<text x="995.6" y="372.4" font-size="19.5" text-anchor="start" fill="#000" textLength="58.9" lengthAdjust="spacingAndGlyphs" >DMSO</text>
<circle cx="1072.7" cy="366.3" r="3.9" fill="#cf36d6"/>
<text x="1093.8" y="372.4" font-size="19.5" text-anchor="start" fill="#000" textLength="80.3" lengthAdjust="spacingAndGlyphs" >GSK 872</text>
<path d="M117.4,1070.0 L117.4,1253.5 L391,1253.5" fill="none" stroke="#000" stroke-width="2.2"/>
<line x1="110" y1="1253.5" x2="117.4" y2="1253.5" stroke="#000" stroke-width="2.2"/>
<text x="106.0" y="1260.3" font-size="19.5" text-anchor="end" fill="#000" >0</text>
<line x1="110" y1="1217.0" x2="117.4" y2="1217.0" stroke="#000" stroke-width="2.2"/>
<text x="106.0" y="1223.8" font-size="19.5" text-anchor="end" fill="#000" >25</text>
<line x1="110" y1="1180.5" x2="117.4" y2="1180.5" stroke="#000" stroke-width="2.2"/>
<text x="106.0" y="1187.3" font-size="19.5" text-anchor="end" fill="#000" >50</text>
<line x1="110" y1="1144.0" x2="117.4" y2="1144.0" stroke="#000" stroke-width="2.2"/>
<text x="106.0" y="1150.8" font-size="19.5" text-anchor="end" fill="#000" >75</text>
<line x1="110" y1="1107.5" x2="117.4" y2="1107.5" stroke="#000" stroke-width="2.2"/>
<text x="106.0" y="1114.3" font-size="19.5" text-anchor="end" fill="#000" >100</text>
<line x1="110" y1="1071.0" x2="117.4" y2="1071.0" stroke="#000" stroke-width="2.2"/>
<text x="106.0" y="1077.8" font-size="19.5" text-anchor="end" fill="#000" >125</text>
<path d="M136.8,1253.5 L136.8,1107.5 L171.1,1107.5 L171.1,1253.5" fill="none" stroke="#000" stroke-width="2.6"/>
<path d="M191.5,1253.5 L191.5,1118.2 L225.9,1118.2 L225.9,1253.5" fill="none" stroke="#1535ee" stroke-width="2.6"/>
<path d="M283,1253.5 L283,1180.4 L317.3,1180.4 L317.3,1253.5" fill="none" stroke="#000" stroke-width="2.6"/>
<path d="M337.7,1253.5 L337.7,1115.4 L372.1,1115.4 L372.1,1253.5" fill="none" stroke="#1535ee" stroke-width="2.6"/>
<circle cx="146.6" cy="1110.7" r="3.9" fill="#000"/>
<circle cx="154.0" cy="1101.7" r="3.9" fill="#000"/>
<circle cx="161.3" cy="1110.7" r="3.9" fill="#000"/>
<circle cx="208.7" cy="1094.8" r="3.9" fill="#1535ee"/>
<circle cx="208.7" cy="1122.7" r="3.9" fill="#1535ee"/>
<circle cx="208.7" cy="1133.8" r="3.9" fill="#1535ee"/>
<circle cx="284.9" cy="1182.3" r="3.9" fill="#000"/>
<circle cx="300.2" cy="1175.2" r="3.9" fill="#000"/>
<circle cx="314.9" cy="1180.4" r="3.9" fill="#000"/>
<circle cx="347.3" cy="1108.5" r="3.9" fill="#1535ee"/>
<circle cx="347.3" cy="1120.8" r="3.9" fill="#1535ee"/>
<circle cx="362.3" cy="1114.2" r="3.9" fill="#1535ee"/>
<line x1="153.4" y1="1079.4" x2="300.9" y2="1079.4" stroke="#000" stroke-width="2.2"/>
<line x1="299.7" y1="1070" x2="354.7" y2="1070" stroke="#000" stroke-width="2.2"/>
<use href="#star" transform="translate(212.3,1063.3) scale(1.0)"/>
<use href="#star" transform="translate(227.1,1063.3) scale(1.0)"/>
<use href="#star" transform="translate(241.9,1063.3) scale(1.0)"/>
<use href="#star" transform="translate(312.7,1054.9) scale(1.0)"/>
<use href="#star" transform="translate(327.5,1054.9) scale(1.0)"/>
<use href="#star" transform="translate(342.3,1054.9) scale(1.0)"/>
<text x="181.6" y="1272.4" font-size="19.5" text-anchor="middle" fill="#000" textLength="55.3" lengthAdjust="spacingAndGlyphs" >Saline</text>
<text x="327.1" y="1273.0" font-size="19.5" text-anchor="middle" fill="#000" textLength="68.7" lengthAdjust="spacingAndGlyphs" >HMGB1</text>
<text transform="translate(65,1159.2) rotate(-90)" x="0" y="0" font-size="19.5" text-anchor="middle" textLength="225.4" lengthAdjust="spacingAndGlyphs">Normalized GMFI (CSFE)</text>
<circle cx="422.2" cy="1068.8" r="3.9" fill="#000"/>
<text x="443.8" y="1075.4" font-size="19.5" text-anchor="start" fill="#000" textLength="58.4" lengthAdjust="spacingAndGlyphs" >DMSO</text>
<circle cx="422.2" cy="1093.8" r="3.9" fill="#1535ee"/>
<text x="443.8" y="1100.0" font-size="19.5" text-anchor="start" fill="#000" textLength="79.8" lengthAdjust="spacingAndGlyphs" >GSK 872</text>
<path d="M711.7,1069.8 L711.7,1254.3 L986.4,1254.3" fill="none" stroke="#000" stroke-width="2.2"/>
<line x1="704.3" y1="1254.3" x2="711.7" y2="1254.3" stroke="#000" stroke-width="2.2"/>
<text x="701.0" y="1261.1" font-size="19.5" text-anchor="end" fill="#000" >0</text>
<line x1="704.3" y1="1217.6" x2="711.7" y2="1217.6" stroke="#000" stroke-width="2.2"/>
<text x="701.0" y="1224.4" font-size="19.5" text-anchor="end" fill="#000" >25</text>
<line x1="704.3" y1="1180.9" x2="711.7" y2="1180.9" stroke="#000" stroke-width="2.2"/>
<text x="701.0" y="1187.7" font-size="19.5" text-anchor="end" fill="#000" >50</text>
<line x1="704.3" y1="1144.2" x2="711.7" y2="1144.2" stroke="#000" stroke-width="2.2"/>
<text x="701.0" y="1151.0" font-size="19.5" text-anchor="end" fill="#000" >75</text>
<line x1="704.3" y1="1107.5" x2="711.7" y2="1107.5" stroke="#000" stroke-width="2.2"/>
<text x="701.0" y="1114.3" font-size="19.5" text-anchor="end" fill="#000" >100</text>
<line x1="704.3" y1="1070.8" x2="711.7" y2="1070.8" stroke="#000" stroke-width="2.2"/>
<text x="701.0" y="1077.6" font-size="19.5" text-anchor="end" fill="#000" >125</text>
<path d="M731.4,1254.3 L731.4,1108.1 L766.2,1108.1 L766.2,1254.3" fill="none" stroke="#000" stroke-width="2.6"/>
<path d="M785.9,1254.3 L785.9,1104.1 L821,1104.1 L821,1254.3" fill="none" stroke="#f2230f" stroke-width="2.6"/>
<path d="M877.7,1254.3 L877.7,1186.3 L912,1186.3 L912,1254.3" fill="none" stroke="#000" stroke-width="2.6"/>
<path d="M932.9,1254.3 L932.9,1138.3 L966.8,1138.3 L966.8,1254.3" fill="none" stroke="#f2230f" stroke-width="2.6"/>
<circle cx="741.2" cy="1104.1" r="3.9" fill="#000"/>
<circle cx="748.5" cy="1114.1" r="3.9" fill="#000"/>
<circle cx="755.9" cy="1104.1" r="3.9" fill="#000"/>
<circle cx="789.0" cy="1106.0" r="3.9" fill="#f2230f"/>
<circle cx="803.3" cy="1101.6" r="3.9" fill="#f2230f"/>
<circle cx="817.3" cy="1102.8" r="3.9" fill="#f2230f"/>
<circle cx="887.5" cy="1181.9" r="3.9" fill="#000"/>
<circle cx="894.9" cy="1191.8" r="3.9" fill="#000"/>
<circle cx="902.2" cy="1181.9" r="3.9" fill="#000"/>
<circle cx="942.2" cy="1131.6" r="3.9" fill="#f2230f"/>
<circle cx="942.2" cy="1143.2" r="3.9" fill="#f2230f"/>
<circle cx="957.0" cy="1136.9" r="3.9" fill="#f2230f"/>
<line x1="747.8" y1="1083.7" x2="895.6" y2="1083.7" stroke="#000" stroke-width="2.2"/>
<line x1="894.4" y1="1075" x2="949.6" y2="1075" stroke="#000" stroke-width="2.2"/>
<use href="#star" transform="translate(807.4,1069.3) scale(1.0)"/>
<use href="#star" transform="translate(822.2,1069.3) scale(1.0)"/>
<use href="#star" transform="translate(837.0,1069.3) scale(1.0)"/>
<use href="#star" transform="translate(907.5,1059.9) scale(1.0)"/>
<use href="#star" transform="translate(922.3,1059.9) scale(1.0)"/>
<use href="#star" transform="translate(937.1,1059.9) scale(1.0)"/>
<text x="776.1" y="1276.4" font-size="19.5" text-anchor="middle" fill="#000" textLength="104.3" lengthAdjust="spacingAndGlyphs" >Saline NCM</text>
<text x="922.6" y="1277.0" font-size="19.5" text-anchor="middle" fill="#000" textLength="101.6" lengthAdjust="spacingAndGlyphs" >MPP<tspan font-size="13" dy="-7">+</tspan><tspan dy="7"> NCM</tspan></text>
<text transform="translate(660,1159) rotate(-90)" x="0" y="0" font-size="19.5" text-anchor="middle" textLength="224.7" lengthAdjust="spacingAndGlyphs">Normalized GMFI (CSFE)</text>
<circle cx="1010.3" cy="1064.5" r="3.9" fill="#000"/>
<text x="1031.9" y="1070.9" font-size="19.5" text-anchor="start" fill="#000" textLength="58.9" lengthAdjust="spacingAndGlyphs" >DMSO</text>
<circle cx="1010.3" cy="1089.8" r="3.9" fill="#f2230f"/>
<text x="1031.9" y="1095.9" font-size="19.5" text-anchor="start" fill="#000" textLength="82.2" lengthAdjust="spacingAndGlyphs" >FPS-ZM1</text>
<rect x="739.5" y="738" width="214.5" height="213.5" fill="#fff" stroke="#6e6e6e" stroke-width="1.3"/>
<path d="M740.0,951.0 L740.0,949.0 L741.4,949.5 L742.9,949.2 L744.3,948.3 L745.7,948.3 L747.2,947.9 L748.6,947.9 L750.0,947.8 L751.5,946.6 L752.9,946.1 L753.4,947.2 L754.3,946.2 L755.8,946.0 L757.2,944.0 L758.6,944.0 L760.0,943.8 L761.5,942.2 L762.9,942.9 L764.3,942.3 L765.8,939.6 L767.2,938.6 L768.6,939.1 L770.1,939.6 L771.5,937.5 L771.8,936.7 L772.9,936.5 L774.4,934.4 L775.8,933.9 L777.2,933.6 L778.6,932.9 L780.1,931.1 L781.5,930.0 L782.9,929.0 L783.0,929.6 L784.4,923.9 L785.8,917.4 L787.2,916.6 L788.7,910.4 L790.1,905.9 L790.2,902.2 L791.5,898.9 L793.0,888.0 L794.4,870.8 L795.8,862.1 L795.8,865.3 L797.3,856.0 L798.7,848.5 L800.1,834.6 L801.3,830.0 L801.5,826.3 L803.0,808.4 L804.4,796.4 L805.0,793.7 L805.9,784.0 L806.8,770.4 L807.3,767.5 L808.6,753.0 L808.7,753.9 L809.6,752.1 L810.1,751.9 L811.6,756.1 L812.3,762.7 L813.0,766.2 L814.4,769.6 L815.9,770.5 L816.0,771.2 L817.3,775.3 L818.7,781.6 L820.2,783.3 L821.5,785.6 L821.6,786.6 L823.0,788.3 L824.5,793.7 L825.9,805.3 L827.1,813.1 L827.3,811.0 L828.8,814.6 L830.2,818.1 L831.6,826.6 L832.6,835.1 L833.0,835.2 L834.5,837.7 L835.9,845.1 L837.3,844.5 L838.1,849.1 L838.8,854.5 L840.2,854.5 L841.6,856.0 L843.1,857.0 L844.5,862.2 L845.5,868.0 L845.9,861.1 L847.4,871.1 L848.8,875.8 L850.2,880.4 L851.0,881.2 L851.7,883.9 L853.1,886.1 L854.5,891.0 L856.0,894.6 L856.5,893.3 L857.4,902.4 L858.8,905.4 L860.2,907.6 L861.7,914.1 L862.0,915.3 L863.1,916.8 L864.5,919.6 L866.0,923.4 L867.4,926.7 L867.6,927.0 L868.8,928.0 L870.3,928.1 L871.7,930.5 L873.1,932.3 L874.6,935.4 L874.9,936.8 L876.0,937.7 L877.4,939.1 L878.9,940.5 L880.3,940.6 L881.7,943.1 L882.3,943.5 L883.1,942.5 L884.6,942.5 L886.0,942.8 L887.5,944.5 L888.9,944.0 L890.3,943.9 L891.7,945.1 L893.2,945.0 L894.6,944.8 L896.0,945.2 L897.5,946.1 L898.9,945.9 L900.3,946.3 L900.7,947.0 L901.8,946.9 L903.2,946.9 L904.6,947.3 L906.0,946.9 L907.5,947.5 L908.9,947.9 L910.4,947.8 L911.8,947.9 L913.2,949.1 L914.6,948.9 L916.1,948.7 L917.5,949.4 L918.9,949.8 L919.1,949.0 L920.4,949.0 L921.8,949.2 L923.2,949.9 L924.7,949.5 L926.1,950.1 L927.5,950.2 L929.0,950.1 L930.4,949.8 L931.8,950.6 L933.2,950.6 L934.7,950.4 L936.1,950.2 L937.5,950.6 L939.0,950.5 L940.4,950.7 L941.8,950.6 L943.1,950.9 L943.3,950.4 L944.7,950.6 L946.1,951.0 L947.6,951.0 L949.0,950.7 L949.0,951.0" fill="#8f8f8f" stroke="#000" stroke-width="1.7" stroke-linejoin="bevel"/>
<path d="M740.0,951.0 L740.0,946.4 L741.4,945.8 L742.9,943.6 L744.3,942.8 L745.7,943.5 L747.2,942.8 L748.6,942.1 L750.0,940.6 L751.5,940.5 L752.9,939.9 L753.4,939.6 L754.3,937.5 L755.8,936.4 L757.2,934.6 L758.6,934.0 L760.0,933.5 L761.5,931.8 L762.9,928.7 L764.3,926.4 L764.5,925.5 L765.8,922.7 L767.2,920.6 L768.6,920.9 L770.1,918.5 L771.5,917.0 L771.8,919.3 L772.9,913.8 L774.4,908.9 L775.8,901.5 L777.2,894.4 L778.6,891.5 L779.2,888.1 L780.1,885.3 L781.5,880.5 L783.0,868.5 L784.4,854.3 L784.7,858.0 L785.8,846.7 L787.2,831.8 L788.4,821.7 L788.7,817.9 L790.1,803.7 L791.5,785.5 L792.1,785.3 L793.0,779.7 L794.4,763.0 L794.8,764.7 L795.8,757.3 L796.7,748.7 L797.3,754.0 L798.5,764.4 L798.7,769.3 L800.1,774.4 L801.3,784.1 L801.5,782.0 L803.0,797.2 L804.4,808.5 L805.0,808.7 L805.9,814.0 L807.3,824.8 L808.7,831.0 L810.1,836.4 L810.5,835.6 L811.6,841.4 L813.0,851.5 L814.4,853.7 L815.9,866.6 L816.0,862.2 L817.3,871.7 L818.7,871.6 L820.2,881.7 L821.5,884.6 L821.6,882.8 L823.0,887.5 L824.5,893.4 L825.9,897.7 L827.1,899.3 L827.3,898.8 L828.8,903.5 L830.2,909.2 L831.6,909.8 L833.0,908.6 L834.4,915.3 L834.5,915.2 L835.9,917.9 L837.3,915.8 L838.8,920.2 L840.2,918.7 L841.6,923.1 L841.8,921.8 L843.1,922.5 L844.5,926.6 L845.9,924.7 L847.4,927.4 L848.8,930.0 L850.2,929.0 L851.7,929.9 L852.8,933.2 L853.1,932.0 L854.5,933.8 L856.0,932.7 L857.4,934.5 L858.8,935.0 L860.2,937.3 L861.7,936.8 L863.1,939.9 L863.9,938.3 L864.5,940.0 L866.0,938.9 L867.4,939.8 L868.8,941.5 L870.3,940.6 L871.7,941.0 L873.1,942.5 L874.6,942.4 L876.0,942.1 L877.4,944.3 L878.9,943.3 L880.3,943.4 L881.7,944.4 L882.3,945.1 L883.1,945.4 L884.6,944.5 L886.0,944.9 L887.5,944.6 L888.9,945.4 L890.3,946.1 L891.7,946.3 L893.2,946.7 L894.6,946.6 L896.0,946.9 L897.5,946.8 L898.9,946.6 L900.3,946.3 L900.7,946.9 L901.8,946.6 L903.2,946.4 L904.6,947.0 L906.0,947.8 L907.5,947.0 L908.9,947.6 L910.4,947.6 L911.8,947.9 L913.2,947.5 L914.6,948.7 L916.1,948.0 L917.5,948.5 L918.9,948.5 L919.1,948.0 L920.4,948.7 L921.8,948.4 L923.2,948.4 L924.7,948.5 L926.1,948.8 L927.5,948.9 L929.0,949.6 L930.4,949.6 L931.8,950.3 L933.2,950.4 L934.7,950.6 L936.1,949.9 L937.5,950.2 L939.0,950.2 L940.4,950.6 L941.8,950.8 L943.1,951.0 L943.3,951.0 L944.7,950.6 L946.1,950.7 L947.6,950.8 L949.0,950.3 L949.0,951.0" fill="rgba(255,0,0,0.42)" stroke="#ee1010" stroke-width="1.7" stroke-linejoin="bevel"/>
<rect x="967" y="738" width="214" height="213.5" fill="#fff" stroke="#6e6e6e" stroke-width="1.3"/>
<path d="M968.0,951.0 L968.0,947.8 L969.4,947.6 L970.9,946.9 L972.3,946.8 L973.7,946.3 L975.2,945.0 L976.6,944.3 L978.0,945.1 L979.5,943.8 L980.9,943.2 L982.3,944.1 L983.8,942.7 L983.9,943.3 L985.2,941.5 L986.6,940.6 L988.1,938.3 L989.5,938.1 L991.0,937.6 L992.4,935.5 L993.8,934.9 L995.3,933.5 L996.7,930.3 L997.3,931.9 L998.1,929.9 L999.6,925.9 L1001.0,921.8 L1002.4,922.4 L1003.9,918.1 L1005.3,916.3 L1006.7,914.5 L1008.2,910.9 L1008.9,910.8 L1009.6,904.8 L1011.0,902.0 L1012.5,894.3 L1013.9,892.6 L1015.3,887.1 L1016.5,876.3 L1016.8,874.1 L1018.2,862.7 L1019.6,856.9 L1021.1,841.2 L1022.3,832.1 L1022.5,827.1 L1023.9,810.7 L1025.4,791.8 L1026.2,781.8 L1026.8,778.4 L1028.2,767.0 L1029.0,763.3 L1029.7,759.5 L1031.1,756.0 L1031.9,752.7 L1032.5,755.1 L1034.0,755.9 L1035.4,754.7 L1035.8,760.7 L1036.9,765.4 L1038.3,769.3 L1039.6,770.6 L1039.7,771.9 L1041.2,773.6 L1042.6,784.0 L1044.0,788.1 L1045.4,791.0 L1045.5,789.3 L1046.9,801.3 L1048.3,808.7 L1049.8,807.3 L1051.2,817.9 L1051.2,815.4 L1052.6,817.8 L1054.1,823.5 L1055.5,832.2 L1056.9,838.2 L1056.9,831.7 L1058.4,840.4 L1059.8,841.0 L1061.2,850.8 L1062.7,853.0 L1062.7,857.2 L1064.1,863.0 L1065.5,863.9 L1067.0,872.2 L1068.4,871.7 L1069.8,874.0 L1070.4,879.7 L1071.3,877.9 L1072.7,882.6 L1074.2,888.2 L1075.6,893.9 L1076.2,892.0 L1077.0,893.6 L1078.5,903.7 L1079.9,904.9 L1081.3,912.7 L1081.9,914.4 L1082.8,913.2 L1084.2,916.2 L1085.6,919.4 L1087.1,922.8 L1088.5,925.5 L1089.6,927.6 L1089.9,928.1 L1091.4,930.7 L1092.8,930.7 L1094.2,931.7 L1095.7,934.0 L1097.1,934.1 L1098.5,935.6 L1099.2,938.1 L1100.0,937.5 L1101.4,938.1 L1102.8,937.6 L1104.3,939.1 L1105.7,940.3 L1107.1,939.9 L1108.6,941.7 L1108.8,942.0 L1110.0,941.1 L1111.5,942.4 L1112.9,942.5 L1114.3,943.2 L1115.8,942.9 L1117.2,943.8 L1118.6,944.1 L1120.1,943.2 L1121.5,943.4 L1122.9,944.8 L1124.4,945.6 L1125.8,944.8 L1127.2,945.3 L1128.1,945.7 L1128.7,945.4 L1130.1,945.5 L1131.5,945.6 L1133.0,945.8 L1134.4,946.3 L1135.8,946.1 L1137.3,946.3 L1138.7,947.0 L1140.1,946.2 L1141.6,947.0 L1143.0,947.4 L1144.4,947.0 L1145.9,947.0 L1147.3,947.9 L1148.7,947.4 L1150.2,947.5 L1151.6,948.0 L1153.0,948.5 L1154.5,948.1 L1155.9,948.5 L1157.3,948.7 L1158.8,949.5 L1160.2,949.3 L1161.7,949.9 L1163.1,949.4 L1164.5,949.7 L1166.0,950.3 L1167.4,950.7 L1168.8,950.5 L1170.3,950.5 L1170.4,950.4 L1171.7,950.8 L1173.1,950.5 L1174.6,951.0 L1176.0,951.0 L1176.0,951.0" fill="#8f8f8f" stroke="#000" stroke-width="1.7" stroke-linejoin="bevel"/>
<path d="M968.0,951.0 L968.0,948.4 L969.4,947.7 L970.9,947.5 L972.3,946.7 L973.7,946.0 L975.2,946.0 L976.6,946.4 L978.0,945.8 L979.5,945.2 L980.9,943.8 L982.3,943.8 L983.3,943.1 L983.8,942.4 L985.2,940.9 L986.6,939.9 L988.1,940.3 L989.5,939.0 L991.0,937.8 L992.4,936.6 L993.8,933.6 L995.3,932.5 L996.7,932.3 L996.7,932.7 L998.1,930.5 L999.6,927.9 L1001.0,921.8 L1002.4,920.8 L1003.9,918.5 L1005.3,914.9 L1006.7,910.1 L1008.2,908.7 L1008.3,906.4 L1009.6,906.5 L1011.0,901.4 L1012.5,893.8 L1013.9,886.2 L1015.3,885.5 L1016.0,880.9 L1016.8,876.4 L1018.2,864.4 L1019.6,849.7 L1021.1,836.7 L1021.7,832.7 L1022.5,821.7 L1023.9,801.5 L1025.4,784.4 L1025.6,786.2 L1026.8,770.5 L1028.2,758.4 L1028.5,761.4 L1029.7,754.6 L1031.1,751.1 L1031.3,750.0 L1032.5,751.6 L1034.0,760.0 L1035.2,756.8 L1035.4,758.6 L1036.9,761.3 L1038.3,769.0 L1039.0,768.7 L1039.7,771.8 L1041.2,780.7 L1042.6,783.3 L1044.0,790.7 L1044.8,796.8 L1045.5,793.2 L1046.9,798.0 L1048.3,805.0 L1049.8,815.2 L1050.6,817.7 L1051.2,816.6 L1052.6,821.8 L1054.1,825.4 L1055.5,832.3 L1056.3,832.0 L1056.9,839.0 L1058.4,845.8 L1059.8,851.3 L1061.2,854.4 L1062.1,859.0 L1062.7,853.3 L1064.1,859.4 L1065.5,869.7 L1067.0,873.4 L1068.4,875.0 L1069.8,883.6 L1069.8,881.4 L1071.3,886.6 L1072.7,886.4 L1074.2,889.0 L1075.6,894.7 L1075.6,892.6 L1077.0,898.6 L1078.5,906.9 L1079.9,907.6 L1081.3,909.8 L1081.3,909.9 L1082.8,913.5 L1084.2,919.5 L1085.6,920.8 L1087.1,923.2 L1088.5,925.4 L1089.0,929.7 L1089.9,928.9 L1091.4,929.4 L1092.8,930.3 L1094.2,931.8 L1095.7,933.6 L1097.1,936.5 L1098.5,936.7 L1098.7,936.5 L1100.0,938.2 L1101.4,938.5 L1102.8,940.8 L1104.3,939.8 L1105.7,941.2 L1107.1,942.5 L1108.3,942.4 L1108.6,943.5 L1110.0,942.9 L1111.5,942.7 L1112.9,943.2 L1114.3,942.9 L1115.8,943.8 L1117.2,943.8 L1118.6,945.2 L1120.1,945.5 L1121.5,945.2 L1122.9,944.7 L1124.4,945.3 L1125.8,945.6 L1127.2,945.8 L1127.5,945.9 L1128.7,947.0 L1130.1,946.1 L1131.5,946.1 L1133.0,947.4 L1134.4,947.2 L1135.8,947.9 L1137.3,947.3 L1138.7,948.0 L1140.1,947.9 L1141.6,948.2 L1143.0,948.2 L1144.4,948.1 L1145.9,947.7 L1146.7,947.9 L1147.3,948.8 L1148.7,949.1 L1150.2,949.3 L1151.6,948.8 L1153.0,949.3 L1154.5,949.7 L1155.9,949.8 L1157.3,950.1 L1158.8,950.0 L1160.2,950.3 L1161.7,950.6 L1163.1,950.4 L1164.5,951.0 L1166.0,951.0 L1167.4,950.9 L1168.8,951.0 L1169.8,951.0 L1170.3,951.0 L1171.7,951.0 L1173.1,951.0 L1174.6,951.0 L1176.0,951.0 L1176.0,951.0" fill="rgba(255,0,0,0.42)" stroke="#ee1010" stroke-width="1.7" stroke-linejoin="bevel"/>
<line x1="734.0" y1="951.5" x2="739.5" y2="951.5" stroke="#000" stroke-width="1.1"/>
<line x1="736.5" y1="943.3" x2="739.5" y2="943.3" stroke="#000" stroke-width="0.8"/>
<line x1="736.5" y1="935.1" x2="739.5" y2="935.1" stroke="#000" stroke-width="0.8"/>
<line x1="736.5" y1="926.9" x2="739.5" y2="926.9" stroke="#000" stroke-width="0.8"/>
<line x1="736.5" y1="918.7" x2="739.5" y2="918.7" stroke="#000" stroke-width="0.8"/>
<line x1="734.0" y1="910.5" x2="739.5" y2="910.5" stroke="#000" stroke-width="1.1"/>
<line x1="736.5" y1="902.3" x2="739.5" y2="902.3" stroke="#000" stroke-width="0.8"/>
<line x1="736.5" y1="894.1" x2="739.5" y2="894.1" stroke="#000" stroke-width="0.8"/>
<line x1="736.5" y1="885.9" x2="739.5" y2="885.9" stroke="#000" stroke-width="0.8"/>
<line x1="736.5" y1="877.7" x2="739.5" y2="877.7" stroke="#000" stroke-width="0.8"/>
<line x1="734.0" y1="869.5" x2="739.5" y2="869.5" stroke="#000" stroke-width="1.1"/>
<line x1="736.5" y1="861.3" x2="739.5" y2="861.3" stroke="#000" stroke-width="0.8"/>
<line x1="736.5" y1="853.1" x2="739.5" y2="853.1" stroke="#000" stroke-width="0.8"/>
<line x1="736.5" y1="844.9" x2="739.5" y2="844.9" stroke="#000" stroke-width="0.8"/>
<line x1="736.5" y1="836.7" x2="739.5" y2="836.7" stroke="#000" stroke-width="0.8"/>
<line x1="734.0" y1="828.5" x2="739.5" y2="828.5" stroke="#000" stroke-width="1.1"/>
<line x1="736.5" y1="820.3" x2="739.5" y2="820.3" stroke="#000" stroke-width="0.8"/>
<line x1="736.5" y1="812.1" x2="739.5" y2="812.1" stroke="#000" stroke-width="0.8"/>
<line x1="736.5" y1="803.9" x2="739.5" y2="803.9" stroke="#000" stroke-width="0.8"/>
<line x1="736.5" y1="795.7" x2="739.5" y2="795.7" stroke="#000" stroke-width="0.8"/>
<line x1="734.0" y1="787.5" x2="739.5" y2="787.5" stroke="#000" stroke-width="1.1"/>
<line x1="736.5" y1="779.3" x2="739.5" y2="779.3" stroke="#000" stroke-width="0.8"/>
<line x1="736.5" y1="771.1" x2="739.5" y2="771.1" stroke="#000" stroke-width="0.8"/>
<line x1="736.5" y1="762.9" x2="739.5" y2="762.9" stroke="#000" stroke-width="0.8"/>
<line x1="736.5" y1="754.7" x2="739.5" y2="754.7" stroke="#000" stroke-width="0.8"/>
<line x1="734.0" y1="746.5" x2="739.5" y2="746.5" stroke="#000" stroke-width="1.1"/>
<line x1="787.0" y1="951.5" x2="787.0" y2="956.5" stroke="#000" stroke-width="1.3"/>
<line x1="807.3" y1="951.5" x2="807.3" y2="956.5" stroke="#000" stroke-width="1.3"/>
<line x1="857.0" y1="951.5" x2="857.0" y2="956.5" stroke="#000" stroke-width="1.3"/>
<line x1="907.6" y1="951.5" x2="907.6" y2="956.5" stroke="#000" stroke-width="1.3"/>
<line x1="953.6" y1="951.5" x2="953.6" y2="956.5" stroke="#000" stroke-width="1.3"/>
<line x1="742.5" y1="951.5" x2="742.5" y2="954.3" stroke="#000" stroke-width="0.9"/>
<line x1="755.5" y1="951.5" x2="755.5" y2="954.3" stroke="#000" stroke-width="0.9"/>
<line x1="764.0" y1="951.5" x2="764.0" y2="954.3" stroke="#000" stroke-width="0.9"/>
<line x1="769.5" y1="951.5" x2="769.5" y2="954.3" stroke="#000" stroke-width="0.9"/>
<line x1="775.0" y1="951.5" x2="775.0" y2="954.3" stroke="#000" stroke-width="0.9"/>
<line x1="779.5" y1="951.5" x2="779.5" y2="954.3" stroke="#000" stroke-width="0.9"/>
<line x1="782.5" y1="951.5" x2="782.5" y2="954.3" stroke="#000" stroke-width="0.9"/>
<line x1="785.0" y1="951.5" x2="785.0" y2="954.3" stroke="#000" stroke-width="0.9"/>
<line x1="789.5" y1="951.5" x2="789.5" y2="954.3" stroke="#000" stroke-width="0.9"/>
<line x1="791.5" y1="951.5" x2="791.5" y2="954.3" stroke="#000" stroke-width="0.9"/>
<line x1="793.5" y1="951.5" x2="793.5" y2="954.3" stroke="#000" stroke-width="0.9"/>
<line x1="795.5" y1="951.5" x2="795.5" y2="954.3" stroke="#000" stroke-width="0.9"/>
<line x1="797.5" y1="951.5" x2="797.5" y2="954.3" stroke="#000" stroke-width="0.9"/>
<line x1="799.5" y1="951.5" x2="799.5" y2="954.3" stroke="#000" stroke-width="0.9"/>
<line x1="801.5" y1="951.5" x2="801.5" y2="954.3" stroke="#000" stroke-width="0.9"/>
<line x1="803.5" y1="951.5" x2="803.5" y2="954.3" stroke="#000" stroke-width="0.9"/>
<line x1="805.5" y1="951.5" x2="805.5" y2="954.3" stroke="#000" stroke-width="0.9"/>
<line x1="811.5" y1="951.5" x2="811.5" y2="954.3" stroke="#000" stroke-width="0.9"/>
<line x1="819.5" y1="951.5" x2="819.5" y2="954.3" stroke="#000" stroke-width="0.9"/>
<line x1="825.5" y1="951.5" x2="825.5" y2="954.3" stroke="#000" stroke-width="0.9"/>
<line x1="832.5" y1="951.5" x2="832.5" y2="954.3" stroke="#000" stroke-width="0.9"/>
<line x1="837.5" y1="951.5" x2="837.5" y2="954.3" stroke="#000" stroke-width="0.9"/>
<line x1="842.5" y1="951.5" x2="842.5" y2="954.3" stroke="#000" stroke-width="0.9"/>
<line x1="846.5" y1="951.5" x2="846.5" y2="954.3" stroke="#000" stroke-width="0.9"/>
<line x1="849.5" y1="951.5" x2="849.5" y2="954.3" stroke="#000" stroke-width="0.9"/>
<line x1="852.5" y1="951.5" x2="852.5" y2="954.3" stroke="#000" stroke-width="0.9"/>
<line x1="855.0" y1="951.5" x2="855.0" y2="954.3" stroke="#000" stroke-width="0.9"/>
<line x1="865.5" y1="951.5" x2="865.5" y2="954.3" stroke="#000" stroke-width="0.9"/>
<line x1="877.5" y1="951.5" x2="877.5" y2="954.3" stroke="#000" stroke-width="0.9"/>
<line x1="885.5" y1="951.5" x2="885.5" y2="954.3" stroke="#000" stroke-width="0.9"/>
<line x1="891.5" y1="951.5" x2="891.5" y2="954.3" stroke="#000" stroke-width="0.9"/>
<line x1="896.5" y1="951.5" x2="896.5" y2="954.3" stroke="#000" stroke-width="0.9"/>
<line x1="900.5" y1="951.5" x2="900.5" y2="954.3" stroke="#000" stroke-width="0.9"/>
<line x1="903.5" y1="951.5" x2="903.5" y2="954.3" stroke="#000" stroke-width="0.9"/>
<line x1="905.8" y1="951.5" x2="905.8" y2="954.3" stroke="#000" stroke-width="0.9"/>
<line x1="919.5" y1="951.5" x2="919.5" y2="954.3" stroke="#000" stroke-width="0.9"/>
<line x1="932.5" y1="951.5" x2="932.5" y2="954.3" stroke="#000" stroke-width="0.9"/>
<line x1="939.5" y1="951.5" x2="939.5" y2="954.3" stroke="#000" stroke-width="0.9"/>
<line x1="944.5" y1="951.5" x2="944.5" y2="954.3" stroke="#000" stroke-width="0.9"/>
<line x1="948.0" y1="951.5" x2="948.0" y2="954.3" stroke="#000" stroke-width="0.9"/>
<line x1="951.0" y1="951.5" x2="951.0" y2="954.3" stroke="#000" stroke-width="0.9"/>
<line x1="961.5" y1="951.5" x2="967" y2="951.5" stroke="#000" stroke-width="1.1"/>
<line x1="964" y1="943.3" x2="967" y2="943.3" stroke="#000" stroke-width="0.8"/>
<line x1="964" y1="935.1" x2="967" y2="935.1" stroke="#000" stroke-width="0.8"/>
<line x1="964" y1="926.9" x2="967" y2="926.9" stroke="#000" stroke-width="0.8"/>
<line x1="964" y1="918.7" x2="967" y2="918.7" stroke="#000" stroke-width="0.8"/>
<line x1="961.5" y1="910.5" x2="967" y2="910.5" stroke="#000" stroke-width="1.1"/>
<line x1="964" y1="902.3" x2="967" y2="902.3" stroke="#000" stroke-width="0.8"/>
<line x1="964" y1="894.1" x2="967" y2="894.1" stroke="#000" stroke-width="0.8"/>
<line x1="964" y1="885.9" x2="967" y2="885.9" stroke="#000" stroke-width="0.8"/>
<line x1="964" y1="877.7" x2="967" y2="877.7" stroke="#000" stroke-width="0.8"/>
<line x1="961.5" y1="869.5" x2="967" y2="869.5" stroke="#000" stroke-width="1.1"/>
<line x1="964" y1="861.3" x2="967" y2="861.3" stroke="#000" stroke-width="0.8"/>
<line x1="964" y1="853.1" x2="967" y2="853.1" stroke="#000" stroke-width="0.8"/>
<line x1="964" y1="844.9" x2="967" y2="844.9" stroke="#000" stroke-width="0.8"/>
<line x1="964" y1="836.7" x2="967" y2="836.7" stroke="#000" stroke-width="0.8"/>
<line x1="961.5" y1="828.5" x2="967" y2="828.5" stroke="#000" stroke-width="1.1"/>
<line x1="964" y1="820.3" x2="967" y2="820.3" stroke="#000" stroke-width="0.8"/>
<line x1="964" y1="812.1" x2="967" y2="812.1" stroke="#000" stroke-width="0.8"/>
<line x1="964" y1="803.9" x2="967" y2="803.9" stroke="#000" stroke-width="0.8"/>
<line x1="964" y1="795.7" x2="967" y2="795.7" stroke="#000" stroke-width="0.8"/>
<line x1="961.5" y1="787.5" x2="967" y2="787.5" stroke="#000" stroke-width="1.1"/>
<line x1="964" y1="779.3" x2="967" y2="779.3" stroke="#000" stroke-width="0.8"/>
<line x1="964" y1="771.1" x2="967" y2="771.1" stroke="#000" stroke-width="0.8"/>
<line x1="964" y1="762.9" x2="967" y2="762.9" stroke="#000" stroke-width="0.8"/>
<line x1="964" y1="754.7" x2="967" y2="754.7" stroke="#000" stroke-width="0.8"/>
<line x1="961.5" y1="746.5" x2="967" y2="746.5" stroke="#000" stroke-width="1.1"/>
<line x1="1014.5" y1="951.5" x2="1014.5" y2="956.5" stroke="#000" stroke-width="1.3"/>
<line x1="1034.8" y1="951.5" x2="1034.8" y2="956.5" stroke="#000" stroke-width="1.3"/>
<line x1="1084.5" y1="951.5" x2="1084.5" y2="956.5" stroke="#000" stroke-width="1.3"/>
<line x1="1135.1" y1="951.5" x2="1135.1" y2="956.5" stroke="#000" stroke-width="1.3"/>
<line x1="1181.1" y1="951.5" x2="1181.1" y2="956.5" stroke="#000" stroke-width="1.3"/>
<line x1="970.0" y1="951.5" x2="970.0" y2="954.3" stroke="#000" stroke-width="0.9"/>
<line x1="983.0" y1="951.5" x2="983.0" y2="954.3" stroke="#000" stroke-width="0.9"/>
<line x1="991.5" y1="951.5" x2="991.5" y2="954.3" stroke="#000" stroke-width="0.9"/>
<line x1="997.0" y1="951.5" x2="997.0" y2="954.3" stroke="#000" stroke-width="0.9"/>
<line x1="1002.5" y1="951.5" x2="1002.5" y2="954.3" stroke="#000" stroke-width="0.9"/>
<line x1="1007.0" y1="951.5" x2="1007.0" y2="954.3" stroke="#000" stroke-width="0.9"/>
<line x1="1010.0" y1="951.5" x2="1010.0" y2="954.3" stroke="#000" stroke-width="0.9"/>
<line x1="1012.5" y1="951.5" x2="1012.5" y2="954.3" stroke="#000" stroke-width="0.9"/>
<line x1="1017.0" y1="951.5" x2="1017.0" y2="954.3" stroke="#000" stroke-width="0.9"/>
<line x1="1019.0" y1="951.5" x2="1019.0" y2="954.3" stroke="#000" stroke-width="0.9"/>
<line x1="1021.0" y1="951.5" x2="1021.0" y2="954.3" stroke="#000" stroke-width="0.9"/>
<line x1="1023.0" y1="951.5" x2="1023.0" y2="954.3" stroke="#000" stroke-width="0.9"/>
<line x1="1025.0" y1="951.5" x2="1025.0" y2="954.3" stroke="#000" stroke-width="0.9"/>
<line x1="1027.0" y1="951.5" x2="1027.0" y2="954.3" stroke="#000" stroke-width="0.9"/>
<line x1="1029.0" y1="951.5" x2="1029.0" y2="954.3" stroke="#000" stroke-width="0.9"/>
<line x1="1031.0" y1="951.5" x2="1031.0" y2="954.3" stroke="#000" stroke-width="0.9"/>
<line x1="1033.0" y1="951.5" x2="1033.0" y2="954.3" stroke="#000" stroke-width="0.9"/>
<line x1="1039.0" y1="951.5" x2="1039.0" y2="954.3" stroke="#000" stroke-width="0.9"/>
<line x1="1047.0" y1="951.5" x2="1047.0" y2="954.3" stroke="#000" stroke-width="0.9"/>
<line x1="1053.0" y1="951.5" x2="1053.0" y2="954.3" stroke="#000" stroke-width="0.9"/>
<line x1="1060.0" y1="951.5" x2="1060.0" y2="954.3" stroke="#000" stroke-width="0.9"/>
<line x1="1065.0" y1="951.5" x2="1065.0" y2="954.3" stroke="#000" stroke-width="0.9"/>
<line x1="1070.0" y1="951.5" x2="1070.0" y2="954.3" stroke="#000" stroke-width="0.9"/>
<line x1="1074.0" y1="951.5" x2="1074.0" y2="954.3" stroke="#000" stroke-width="0.9"/>
<line x1="1077.0" y1="951.5" x2="1077.0" y2="954.3" stroke="#000" stroke-width="0.9"/>
<line x1="1080.0" y1="951.5" x2="1080.0" y2="954.3" stroke="#000" stroke-width="0.9"/>
<line x1="1082.5" y1="951.5" x2="1082.5" y2="954.3" stroke="#000" stroke-width="0.9"/>
<line x1="1093.0" y1="951.5" x2="1093.0" y2="954.3" stroke="#000" stroke-width="0.9"/>
<line x1="1105.0" y1="951.5" x2="1105.0" y2="954.3" stroke="#000" stroke-width="0.9"/>
<line x1="1113.0" y1="951.5" x2="1113.0" y2="954.3" stroke="#000" stroke-width="0.9"/>
<line x1="1119.0" y1="951.5" x2="1119.0" y2="954.3" stroke="#000" stroke-width="0.9"/>
<line x1="1124.0" y1="951.5" x2="1124.0" y2="954.3" stroke="#000" stroke-width="0.9"/>
<line x1="1128.0" y1="951.5" x2="1128.0" y2="954.3" stroke="#000" stroke-width="0.9"/>
<line x1="1131.0" y1="951.5" x2="1131.0" y2="954.3" stroke="#000" stroke-width="0.9"/>
<line x1="1133.3" y1="951.5" x2="1133.3" y2="954.3" stroke="#000" stroke-width="0.9"/>
<line x1="1147.0" y1="951.5" x2="1147.0" y2="954.3" stroke="#000" stroke-width="0.9"/>
<line x1="1160.0" y1="951.5" x2="1160.0" y2="954.3" stroke="#000" stroke-width="0.9"/>
<line x1="1167.0" y1="951.5" x2="1167.0" y2="954.3" stroke="#000" stroke-width="0.9"/>
<line x1="1172.0" y1="951.5" x2="1172.0" y2="954.3" stroke="#000" stroke-width="0.9"/>
<line x1="1175.5" y1="951.5" x2="1175.5" y2="954.3" stroke="#000" stroke-width="0.9"/>
<line x1="1178.5" y1="951.5" x2="1178.5" y2="954.3" stroke="#000" stroke-width="0.9"/>
<rect x="725" y="742" width="3.2" height="215" fill="#000"/>
<path d="M722,744 L726.6,732.5 L731.2,744 Z" fill="#000"/>
<rect x="736" y="966" width="436" height="3.2" fill="#000"/>
<path d="M1170,962.9 L1181.5,967.6 L1170,972.3 Z" fill="#000"/>
<rect x="738.5" y="684" width="17" height="16.5" fill="#8a8a8a" stroke="#222" stroke-width="1.1"/>
<rect x="738.5" y="714.5" width="17" height="16.5" fill="#f00000" stroke="#8a1010" stroke-width="1.1"/>
<rect x="966" y="683.5" width="17" height="16" fill="#8a8a8a" stroke="#222" stroke-width="1.1"/>
<rect x="966" y="713.5" width="17" height="16.5" fill="#f00000" stroke="#8a1010" stroke-width="1.1"/>
<text x="778.0" y="700.4" font-size="19.5" text-anchor="start" fill="#000" textLength="127.4" lengthAdjust="spacingAndGlyphs" >DMSO: Saline</text>
<text x="778.0" y="729.5" font-size="19.5" text-anchor="start" fill="#000" textLength="141.8" lengthAdjust="spacingAndGlyphs" >DMSO: HMGB1</text>
<text x="1004.6" y="700.1" font-size="19.5" text-anchor="start" fill="#000" textLength="149.9" lengthAdjust="spacingAndGlyphs" >GSK 872: Saline</text>
<text x="1006.0" y="728.5" font-size="19.5" text-anchor="start" fill="#000" textLength="164.5" lengthAdjust="spacingAndGlyphs" >GSK 872: HMGB1</text>
<text transform="translate(718.5,842.5) rotate(-90)" font-size="19.5" text-anchor="middle" textLength="200" lengthAdjust="spacingAndGlyphs">Normalized Cell Count</text>
<text x="957.0" y="989.0" font-size="19.5" text-anchor="middle" fill="#000" textLength="53.0" lengthAdjust="spacingAndGlyphs" >CSFE</text>
</svg></body></html>
